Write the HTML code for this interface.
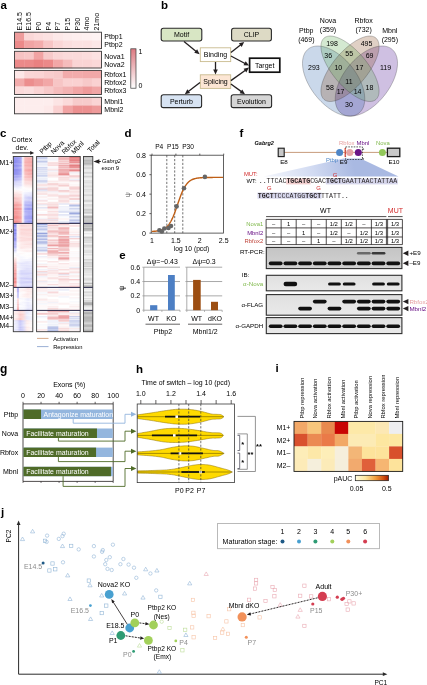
<!DOCTYPE html>
<html><head><meta charset="utf-8"><title>Figure</title>
<style>
html,body{margin:0;padding:0;background:#fff;width:427px;height:685px;overflow:hidden}
svg{display:block}
text{font-family:"Liberation Sans", Arial, sans-serif}
</style></head><body>
<svg width="427" height="685" viewBox="0 0 427 685" font-family='"Liberation Sans", Arial, sans-serif'>
<rect x="0" y="0" width="427" height="685" fill="#ffffff"/>
<text x="0.60" y="8.90" font-size="11.5" fill="#000" font-weight="bold">a</text>
<text x="21.83" y="30.40" font-size="7" transform="rotate(-90 21.83 30.40)">E14.5</text>
<text x="31.50" y="30.40" font-size="7" transform="rotate(-90 31.50 30.40)">E16.5</text>
<text x="41.17" y="30.40" font-size="7" transform="rotate(-90 41.17 30.40)">P0</text>
<text x="50.83" y="30.40" font-size="7" transform="rotate(-90 50.83 30.40)">P4</text>
<text x="60.50" y="30.40" font-size="7" transform="rotate(-90 60.50 30.40)">P7</text>
<text x="70.17" y="30.40" font-size="7" transform="rotate(-90 70.17 30.40)">P15</text>
<text x="79.83" y="30.40" font-size="7" transform="rotate(-90 79.83 30.40)">P30</text>
<text x="89.50" y="30.40" font-size="7" transform="rotate(-90 89.50 30.40)">4mo</text>
<text x="99.17" y="30.40" font-size="7" transform="rotate(-90 99.17 30.40)">21mo</text>
<rect x="14.50" y="32.20" width="9.97" height="8.50" fill="#ee9c9c"/>
<rect x="24.17" y="32.20" width="9.97" height="8.50" fill="#fad8d8"/>
<rect x="33.83" y="32.20" width="9.97" height="8.50" fill="#fcdede"/>
<rect x="43.50" y="32.20" width="9.97" height="8.50" fill="#fce2e2"/>
<rect x="53.17" y="32.20" width="9.97" height="8.50" fill="#fde9e9"/>
<rect x="62.83" y="32.20" width="9.97" height="8.50" fill="#fdeded"/>
<rect x="72.50" y="32.20" width="9.97" height="8.50" fill="#feefef"/>
<rect x="82.17" y="32.20" width="9.97" height="8.50" fill="#fef1f1"/>
<rect x="91.83" y="32.20" width="9.97" height="8.50" fill="#fef3f3"/>
<text x="104.30" y="38.80" font-size="7">Ptbp1</text>
<rect x="14.50" y="40.40" width="9.97" height="8.50" fill="#ec8a8a"/>
<rect x="24.17" y="40.40" width="9.97" height="8.50" fill="#f1a4a4"/>
<rect x="33.83" y="40.40" width="9.97" height="8.50" fill="#f3acac"/>
<rect x="43.50" y="40.40" width="9.97" height="8.50" fill="#f7c5c5"/>
<rect x="53.17" y="40.40" width="9.97" height="8.50" fill="#fad6d6"/>
<rect x="62.83" y="40.40" width="9.97" height="8.50" fill="#fbdede"/>
<rect x="72.50" y="40.40" width="9.97" height="8.50" fill="#fce2e2"/>
<rect x="82.17" y="40.40" width="9.97" height="8.50" fill="#fce2e2"/>
<rect x="91.83" y="40.40" width="9.97" height="8.50" fill="#fce7e7"/>
<text x="104.30" y="47.00" font-size="7">Ptbp2</text>
<rect x="14.50" y="32.20" width="87.00" height="16.40" fill="none" stroke="#3a3a3a" stroke-width="0.9"/>
<rect x="14.50" y="51.30" width="9.97" height="8.65" fill="#f6c3c3"/>
<rect x="24.17" y="51.30" width="9.97" height="8.65" fill="#f7c7c7"/>
<rect x="33.83" y="51.30" width="9.97" height="8.65" fill="#f1a3a3"/>
<rect x="43.50" y="51.30" width="9.97" height="8.65" fill="#f7caca"/>
<rect x="53.17" y="51.30" width="9.97" height="8.65" fill="#fad6d6"/>
<rect x="62.83" y="51.30" width="9.97" height="8.65" fill="#fbdada"/>
<rect x="72.50" y="51.30" width="9.97" height="8.65" fill="#fbdada"/>
<rect x="82.17" y="51.30" width="9.97" height="8.65" fill="#fcdddd"/>
<rect x="91.83" y="51.30" width="9.97" height="8.65" fill="#fce2e2"/>
<text x="104.30" y="58.67" font-size="7">Nova1</text>
<rect x="14.50" y="59.65" width="9.97" height="8.65" fill="#ec8989"/>
<rect x="24.17" y="59.65" width="9.97" height="8.65" fill="#ec8989"/>
<rect x="33.83" y="59.65" width="9.97" height="8.65" fill="#ea8181"/>
<rect x="43.50" y="59.65" width="9.97" height="8.65" fill="#ec8989"/>
<rect x="53.17" y="59.65" width="9.97" height="8.65" fill="#f2a7a7"/>
<rect x="62.83" y="59.65" width="9.97" height="8.65" fill="#f6bcbc"/>
<rect x="72.50" y="59.65" width="9.97" height="8.65" fill="#fad4d4"/>
<rect x="82.17" y="59.65" width="9.97" height="8.65" fill="#fad4d4"/>
<rect x="91.83" y="59.65" width="9.97" height="8.65" fill="#fbd8d8"/>
<text x="104.30" y="67.03" font-size="7">Nova2</text>
<rect x="14.50" y="51.30" width="87.00" height="16.70" fill="none" stroke="#3a3a3a" stroke-width="0.9"/>
<rect x="14.50" y="70.40" width="9.97" height="8.33" fill="#fde7e7"/>
<rect x="24.17" y="70.40" width="9.97" height="8.33" fill="#fad6d6"/>
<rect x="33.83" y="70.40" width="9.97" height="8.33" fill="#fad4d4"/>
<rect x="43.50" y="70.40" width="9.97" height="8.33" fill="#f8cdcd"/>
<rect x="53.17" y="70.40" width="9.97" height="8.33" fill="#f7c9c9"/>
<rect x="62.83" y="70.40" width="9.97" height="8.33" fill="#f2abab"/>
<rect x="72.50" y="70.40" width="9.97" height="8.33" fill="#f2abab"/>
<rect x="82.17" y="70.40" width="9.97" height="8.33" fill="#f1a8a8"/>
<rect x="91.83" y="70.40" width="9.97" height="8.33" fill="#f1a8a8"/>
<text x="104.30" y="76.92" font-size="7">Rbfox1</text>
<rect x="14.50" y="78.43" width="9.97" height="8.33" fill="#f2abab"/>
<rect x="24.17" y="78.43" width="9.97" height="8.33" fill="#ec8e8e"/>
<rect x="33.83" y="78.43" width="9.97" height="8.33" fill="#ee9a9a"/>
<rect x="43.50" y="78.43" width="9.97" height="8.33" fill="#f2a7a7"/>
<rect x="53.17" y="78.43" width="9.97" height="8.33" fill="#f7c5c5"/>
<rect x="62.83" y="78.43" width="9.97" height="8.33" fill="#fad1d1"/>
<rect x="72.50" y="78.43" width="9.97" height="8.33" fill="#fad1d1"/>
<rect x="82.17" y="78.43" width="9.97" height="8.33" fill="#f7c9c9"/>
<rect x="91.83" y="78.43" width="9.97" height="8.33" fill="#fad1d1"/>
<text x="104.30" y="84.95" font-size="7">Rbfox2</text>
<rect x="14.50" y="86.47" width="9.97" height="8.33" fill="#fbdada"/>
<rect x="24.17" y="86.47" width="9.97" height="8.33" fill="#fbdede"/>
<rect x="33.83" y="86.47" width="9.97" height="8.33" fill="#fad4d4"/>
<rect x="43.50" y="86.47" width="9.97" height="8.33" fill="#f7c9c9"/>
<rect x="53.17" y="86.47" width="9.97" height="8.33" fill="#f5bcbc"/>
<rect x="62.83" y="86.47" width="9.97" height="8.33" fill="#f3b2b2"/>
<rect x="72.50" y="86.47" width="9.97" height="8.33" fill="#f1a5a5"/>
<rect x="82.17" y="86.47" width="9.97" height="8.33" fill="#ee9a9a"/>
<rect x="91.83" y="86.47" width="9.97" height="8.33" fill="#f1a5a5"/>
<text x="104.30" y="92.98" font-size="7">Rbfox3</text>
<rect x="14.50" y="70.40" width="87.00" height="24.10" fill="none" stroke="#3a3a3a" stroke-width="0.9"/>
<rect x="14.50" y="97.30" width="9.97" height="8.55" fill="#fdeded"/>
<rect x="24.17" y="97.30" width="9.97" height="8.55" fill="#fdeded"/>
<rect x="33.83" y="97.30" width="9.97" height="8.55" fill="#fdeded"/>
<rect x="43.50" y="97.30" width="9.97" height="8.55" fill="#fdeded"/>
<rect x="53.17" y="97.30" width="9.97" height="8.55" fill="#fce4e4"/>
<rect x="62.83" y="97.30" width="9.97" height="8.55" fill="#fbdada"/>
<rect x="72.50" y="97.30" width="9.97" height="8.55" fill="#f7cbcb"/>
<rect x="82.17" y="97.30" width="9.97" height="8.55" fill="#f7cbcb"/>
<rect x="91.83" y="97.30" width="9.97" height="8.55" fill="#fad4d4"/>
<text x="104.30" y="103.92" font-size="7">Mbnl1</text>
<rect x="14.50" y="105.55" width="9.97" height="8.55" fill="#fdeded"/>
<rect x="24.17" y="105.55" width="9.97" height="8.55" fill="#fdeded"/>
<rect x="33.83" y="105.55" width="9.97" height="8.55" fill="#fdeded"/>
<rect x="43.50" y="105.55" width="9.97" height="8.55" fill="#fde9e9"/>
<rect x="53.17" y="105.55" width="9.97" height="8.55" fill="#fad1d1"/>
<rect x="62.83" y="105.55" width="9.97" height="8.55" fill="#f1a3a3"/>
<rect x="72.50" y="105.55" width="9.97" height="8.55" fill="#ec9090"/>
<rect x="82.17" y="105.55" width="9.97" height="8.55" fill="#ec9090"/>
<rect x="91.83" y="105.55" width="9.97" height="8.55" fill="#ee9a9a"/>
<text x="104.30" y="112.17" font-size="7">Mbnl2</text>
<rect x="14.50" y="97.30" width="87.00" height="16.50" fill="none" stroke="#3a3a3a" stroke-width="0.9"/>
<defs><linearGradient id="cba" x1="0" y1="0" x2="0" y2="1"><stop offset="0" stop-color="#dd7a82"/><stop offset="1" stop-color="#ffffff"/></linearGradient></defs>
<rect x="130.80" y="48.80" width="5.20" height="39.40" fill="url(#cba)" stroke="#3a3a3a" stroke-width="0.7"/>
<text x="138.60" y="54.00" font-size="7">1</text>
<text x="138.60" y="87.60" font-size="7">0</text>
<text x="161.00" y="8.70" font-size="11.5" fill="#000" font-weight="bold">b</text>
<rect x="161.20" y="28.20" width="40.60" height="12.80" fill="#d8e6c4" stroke="#2a2a2a" stroke-width="1.1" rx="2.2"/>
<text x="181.50" y="37.10" font-size="7" text-anchor="middle">Motif</text>
<rect x="231.60" y="28.20" width="39.80" height="12.80" fill="#dddac5" stroke="#2a2a2a" stroke-width="1.1" rx="2.2"/>
<text x="251.50" y="37.10" font-size="7" text-anchor="middle">CLIP</text>
<rect x="200.30" y="47.80" width="30.40" height="13.80" fill="#ffffff" stroke="#c9bb8e" stroke-width="0.9" rx="0"/>
<text x="215.50" y="57.20" font-size="7" text-anchor="middle">Binding</text>
<rect x="249.60" y="58.20" width="30.20" height="14.00" fill="#ffffff" stroke="#111" stroke-width="1.7" rx="0"/>
<text x="264.70" y="67.70" font-size="7" text-anchor="middle">Target</text>
<rect x="200.30" y="74.80" width="30.40" height="13.60" fill="#fce6d4" stroke="#c9bb8e" stroke-width="0.9" rx="0"/>
<text x="215.50" y="84.10" font-size="7" text-anchor="middle">Splicing</text>
<rect x="161.20" y="94.80" width="40.40" height="12.80" fill="#d7e3f2" stroke="#2a2a2a" stroke-width="1.1" rx="2.2"/>
<text x="181.40" y="103.70" font-size="7" text-anchor="middle">Perturb</text>
<rect x="231.20" y="94.80" width="40.40" height="12.80" fill="#d6d6d6" stroke="#2a2a2a" stroke-width="1.1" rx="2.2"/>
<text x="251.40" y="103.70" font-size="7" text-anchor="middle">Evolution</text>
<line x1="184.00" y1="41.60" x2="196.49" y2="51.69" stroke="#231f20" stroke-width="1.3"/>
<path d="M199.60,54.20 L194.27,52.85 L197.16,49.27 Z" fill="#231f20"/>
<line x1="230.90" y1="52.60" x2="241.07" y2="44.49" stroke="#231f20" stroke-width="1.3"/>
<path d="M244.20,42.00 L241.72,46.91 L238.86,43.32 Z" fill="#231f20"/>
<line x1="230.90" y1="56.00" x2="245.47" y2="63.73" stroke="#231f20" stroke-width="1.3"/>
<path d="M249.00,65.60 L243.51,65.29 L245.66,61.23 Z" fill="#231f20"/>
<line x1="215.50" y1="62.00" x2="215.50" y2="70.40" stroke="#231f20" stroke-width="1.3"/>
<path d="M215.50,74.40 L213.20,69.40 L217.80,69.40 Z" fill="#231f20"/>
<line x1="200.00" y1="82.40" x2="187.96" y2="91.75" stroke="#231f20" stroke-width="1.3"/>
<path d="M184.80,94.20 L187.34,89.32 L190.16,92.95 Z" fill="#231f20"/>
<line x1="230.90" y1="80.60" x2="245.75" y2="69.93" stroke="#231f20" stroke-width="1.3"/>
<path d="M249.00,67.60 L246.28,72.38 L243.60,68.65 Z" fill="#231f20"/>
<line x1="230.90" y1="84.00" x2="241.76" y2="91.86" stroke="#231f20" stroke-width="1.3"/>
<path d="M245.00,94.20 L239.60,93.13 L242.30,89.41 Z" fill="#231f20"/>
<path d="M393.41,50.63 L392.56,49.76 L391.65,48.98 L390.66,48.28 L389.61,47.68 L388.49,47.17 L387.31,46.74 L386.08,46.42 L384.79,46.19 L383.45,46.05 L382.07,46.01 L380.64,46.07 L379.17,46.22 L377.67,46.47 L376.13,46.81 L374.57,47.25 L372.99,47.78 L371.39,48.40 L369.77,49.11 L368.15,49.90 L366.52,50.79 L364.89,51.75 L363.27,52.80 L361.65,53.92 L360.05,55.12 L358.46,56.39 L356.90,57.73 L355.36,59.13 L353.85,60.59 L352.37,62.11 L350.94,63.68 L349.55,65.29 L348.20,66.95 L346.90,68.65 L345.66,70.39 L344.47,72.15 L343.34,73.93 L342.28,75.74 L341.28,77.56 L340.35,79.39 L339.49,81.23 L338.71,83.06 L338.00,84.89 L337.37,86.71 L336.82,88.51 L336.35,90.30 L335.96,92.05 L335.66,93.78 L335.44,95.47 L335.31,97.13 L335.26,98.74 L335.29,100.30 L335.41,101.81 L335.62,103.26 L335.91,104.65 L336.28,105.97 L336.74,107.23 L337.27,108.42 L337.89,109.53 L338.59,110.56 L339.36,111.51 L340.20,112.38 L341.12,113.16 L342.10,113.86 L343.16,114.46 L344.27,114.98 L345.45,115.40 L346.69,115.72 L347.97,115.96 L349.31,116.09 L350.70,116.13 L352.13,116.07 L353.60,115.92 L355.10,115.67 L356.63,115.33 L358.19,114.90 L359.77,114.37 L361.38,113.75 L362.99,113.04 L364.61,112.24 L366.24,111.36 L367.87,110.39 L369.50,109.34 L371.11,108.22 L372.72,107.02 L374.30,105.75 L375.87,104.41 L377.41,103.01 L378.92,101.55 L380.39,100.04 L381.83,98.47 L383.22,96.85 L384.57,95.19 L385.86,93.49 L387.11,91.76 L388.29,89.99 L389.42,88.21 L390.48,86.40 L391.48,84.58 L392.41,82.75 L393.27,80.91 L394.05,79.08 L394.76,77.25 L395.39,75.43 L395.94,73.63 L396.41,71.85 L396.80,70.09 L397.10,68.36 L397.32,66.67 L397.46,65.01 L397.51,63.41 L397.47,61.85 L397.35,60.34 L397.15,58.89 L396.86,57.50 L396.48,56.17 L396.03,54.91 L395.49,53.73 L394.87,52.62 L394.18,51.58 Z" fill="#845cb5" fill-opacity="0.388"/>
<path d="M306.60,50.63 L305.83,51.58 L305.13,52.62 L304.51,53.73 L303.98,54.91 L303.52,56.17 L303.15,57.50 L302.86,58.89 L302.65,60.34 L302.53,61.85 L302.50,63.41 L302.55,65.01 L302.68,66.67 L302.90,68.36 L303.20,70.09 L303.59,71.85 L304.06,73.63 L304.61,75.43 L305.24,77.25 L305.95,79.08 L306.73,80.91 L307.59,82.75 L308.52,84.58 L309.52,86.40 L310.58,88.21 L311.71,89.99 L312.90,91.76 L314.14,93.49 L315.44,95.19 L316.79,96.85 L318.18,98.47 L319.61,100.04 L321.09,101.55 L322.60,103.01 L324.14,104.41 L325.70,105.75 L327.29,107.02 L328.89,108.22 L330.51,109.34 L332.13,110.39 L333.76,111.36 L335.39,112.24 L337.01,113.04 L338.63,113.75 L340.23,114.37 L341.81,114.90 L343.37,115.33 L344.91,115.67 L346.41,115.92 L347.88,116.07 L349.31,116.13 L350.69,116.09 L352.03,115.96 L353.32,115.72 L354.55,115.40 L355.73,114.98 L356.85,114.46 L357.90,113.86 L358.89,113.16 L359.80,112.38 L360.65,111.51 L361.42,110.56 L362.11,109.53 L362.73,108.42 L363.27,107.23 L363.72,105.97 L364.10,104.65 L364.39,103.26 L364.59,101.81 L364.71,100.30 L364.75,98.74 L364.70,97.13 L364.56,95.47 L364.34,93.78 L364.04,92.05 L363.65,90.30 L363.18,88.51 L362.63,86.71 L362.00,84.89 L361.29,83.06 L360.51,81.23 L359.65,79.39 L358.72,77.56 L357.72,75.74 L356.66,73.93 L355.53,72.15 L354.35,70.39 L353.10,68.65 L351.81,66.95 L350.46,65.29 L349.07,63.68 L347.63,62.11 L346.16,60.59 L344.65,59.13 L343.11,57.73 L341.54,56.39 L339.96,55.12 L338.35,53.92 L336.74,52.80 L335.11,51.75 L333.48,50.79 L331.85,49.90 L330.23,49.11 L328.62,48.40 L327.01,47.78 L325.43,47.25 L323.87,46.81 L322.34,46.47 L320.84,46.22 L319.37,46.07 L317.94,46.01 L316.55,46.05 L315.21,46.19 L313.93,46.42 L312.69,46.74 L311.51,47.17 L310.40,47.68 L309.34,48.28 L308.36,48.98 L307.44,49.76 Z" fill="#004398" fill-opacity="0.208"/>
<path d="M376.64,38.76 L376.00,38.12 L375.28,37.57 L374.50,37.09 L373.65,36.71 L372.74,36.41 L371.76,36.20 L370.72,36.08 L369.63,36.05 L368.48,36.11 L367.28,36.26 L366.04,36.50 L364.75,36.83 L363.42,37.24 L362.05,37.74 L360.65,38.33 L359.22,39.00 L357.77,39.75 L356.29,40.58 L354.80,41.49 L353.29,42.47 L351.78,43.52 L350.26,44.65 L348.74,45.84 L347.22,47.09 L345.71,48.40 L344.21,49.77 L342.73,51.19 L341.27,52.66 L339.83,54.17 L338.42,55.72 L337.04,57.31 L335.70,58.93 L334.39,60.58 L333.13,62.25 L331.92,63.94 L330.75,65.64 L329.64,67.34 L328.59,69.06 L327.59,70.77 L326.65,72.48 L325.78,74.17 L324.97,75.85 L324.24,77.52 L323.57,79.15 L322.97,80.76 L322.45,82.34 L322.01,83.88 L321.64,85.38 L321.35,86.83 L321.14,88.23 L321.01,89.58 L320.95,90.88 L320.98,92.11 L321.09,93.28 L321.27,94.38 L321.54,95.41 L321.88,96.37 L322.30,97.25 L322.79,98.05 L323.36,98.78 L324.01,99.42 L324.72,99.98 L325.50,100.45 L326.35,100.83 L327.27,101.13 L328.25,101.34 L329.28,101.46 L330.38,101.49 L331.52,101.43 L332.72,101.28 L333.97,101.04 L335.26,100.71 L336.59,100.30 L337.96,99.80 L339.35,99.21 L340.78,98.54 L342.24,97.79 L343.71,96.96 L345.21,96.05 L346.71,95.07 L348.23,94.02 L349.75,92.89 L351.27,91.70 L352.79,90.45 L354.29,89.14 L355.79,87.77 L357.27,86.35 L358.74,84.88 L360.17,83.37 L361.58,81.82 L362.96,80.23 L364.31,78.61 L365.61,76.96 L366.87,75.29 L368.08,73.61 L369.25,71.91 L370.36,70.20 L371.42,68.48 L372.42,66.77 L373.35,65.07 L374.22,63.37 L375.03,61.69 L375.77,60.03 L376.43,58.39 L377.03,56.78 L377.55,55.20 L377.99,53.66 L378.36,52.16 L378.65,50.71 L378.86,49.31 L379.00,47.96 L379.05,46.67 L379.02,45.43 L378.92,44.26 L378.73,43.16 L378.47,42.13 L378.13,41.18 L377.71,40.29 L377.21,39.49 Z" fill="#752f00" fill-opacity="0.229"/>
<path d="M323.36,38.76 L322.79,39.49 L322.30,40.29 L321.88,41.18 L321.54,42.13 L321.27,43.16 L321.09,44.26 L320.98,45.43 L320.95,46.67 L321.01,47.96 L321.14,49.31 L321.35,50.71 L321.64,52.16 L322.01,53.66 L322.45,55.20 L322.97,56.78 L323.57,58.39 L324.24,60.03 L324.97,61.69 L325.78,63.37 L326.65,65.07 L327.59,66.77 L328.59,68.48 L329.64,70.20 L330.75,71.91 L331.92,73.61 L333.13,75.29 L334.39,76.96 L335.70,78.61 L337.04,80.23 L338.42,81.82 L339.83,83.37 L341.27,84.88 L342.73,86.35 L344.21,87.77 L345.71,89.14 L347.22,90.45 L348.74,91.70 L350.26,92.89 L351.78,94.02 L353.29,95.07 L354.80,96.05 L356.29,96.96 L357.77,97.79 L359.22,98.54 L360.65,99.21 L362.05,99.80 L363.42,100.30 L364.75,100.71 L366.04,101.04 L367.28,101.28 L368.48,101.43 L369.63,101.49 L370.72,101.46 L371.76,101.34 L372.74,101.13 L373.65,100.83 L374.50,100.45 L375.28,99.98 L376.00,99.42 L376.64,98.78 L377.21,98.05 L377.71,97.25 L378.13,96.37 L378.47,95.41 L378.73,94.38 L378.92,93.28 L379.02,92.11 L379.05,90.88 L379.00,89.58 L378.86,88.23 L378.65,86.83 L378.36,85.38 L377.99,83.88 L377.55,82.34 L377.03,80.76 L376.43,79.15 L375.77,77.52 L375.03,75.85 L374.22,74.17 L373.35,72.48 L372.42,70.77 L371.42,69.06 L370.36,67.34 L369.25,65.64 L368.08,63.94 L366.87,62.25 L365.61,60.58 L364.31,58.93 L362.96,57.31 L361.58,55.72 L360.17,54.17 L358.74,52.66 L357.27,51.19 L355.79,49.77 L354.29,48.40 L352.79,47.09 L351.27,45.84 L349.75,44.65 L348.23,43.52 L346.71,42.47 L345.21,41.49 L343.71,40.58 L342.24,39.75 L340.78,39.00 L339.36,38.33 L337.96,37.74 L336.59,37.24 L335.26,36.83 L333.97,36.50 L332.72,36.26 L331.52,36.11 L330.38,36.05 L329.28,36.08 L328.25,36.20 L327.27,36.41 L326.35,36.71 L325.50,37.09 L324.72,37.57 L324.01,38.12 Z" fill="#5caa4f" fill-opacity="0.261"/>
<path d="M393.41,50.63 L392.56,49.76 L391.65,48.98 L390.66,48.28 L389.61,47.68 L388.49,47.17 L387.31,46.74 L386.08,46.42 L384.79,46.19 L383.45,46.05 L382.07,46.01 L380.64,46.07 L379.17,46.22 L377.67,46.47 L376.13,46.81 L374.57,47.25 L372.99,47.78 L371.39,48.40 L369.77,49.11 L368.15,49.90 L366.52,50.79 L364.89,51.75 L363.27,52.80 L361.65,53.92 L360.05,55.12 L358.46,56.39 L356.90,57.73 L355.36,59.13 L353.85,60.59 L352.37,62.11 L350.94,63.68 L349.55,65.29 L348.20,66.95 L346.90,68.65 L345.66,70.39 L344.47,72.15 L343.34,73.93 L342.28,75.74 L341.28,77.56 L340.35,79.39 L339.49,81.23 L338.71,83.06 L338.00,84.89 L337.37,86.71 L336.82,88.51 L336.35,90.30 L335.96,92.05 L335.66,93.78 L335.44,95.47 L335.31,97.13 L335.26,98.74 L335.29,100.30 L335.41,101.81 L335.62,103.26 L335.91,104.65 L336.28,105.97 L336.74,107.23 L337.27,108.42 L337.89,109.53 L338.59,110.56 L339.36,111.51 L340.20,112.38 L341.12,113.16 L342.10,113.86 L343.16,114.46 L344.27,114.98 L345.45,115.40 L346.69,115.72 L347.97,115.96 L349.31,116.09 L350.70,116.13 L352.13,116.07 L353.60,115.92 L355.10,115.67 L356.63,115.33 L358.19,114.90 L359.77,114.37 L361.38,113.75 L362.99,113.04 L364.61,112.24 L366.24,111.36 L367.87,110.39 L369.50,109.34 L371.11,108.22 L372.72,107.02 L374.30,105.75 L375.87,104.41 L377.41,103.01 L378.92,101.55 L380.39,100.04 L381.83,98.47 L383.22,96.85 L384.57,95.19 L385.86,93.49 L387.11,91.76 L388.29,89.99 L389.42,88.21 L390.48,86.40 L391.48,84.58 L392.41,82.75 L393.27,80.91 L394.05,79.08 L394.76,77.25 L395.39,75.43 L395.94,73.63 L396.41,71.85 L396.80,70.09 L397.10,68.36 L397.32,66.67 L397.46,65.01 L397.51,63.41 L397.47,61.85 L397.35,60.34 L397.15,58.89 L396.86,57.50 L396.48,56.17 L396.03,54.91 L395.49,53.73 L394.87,52.62 L394.18,51.58 Z" fill="none" stroke="#3a3a3a" stroke-width="0.5" stroke-opacity="0.6"/>
<path d="M306.60,50.63 L305.83,51.58 L305.13,52.62 L304.51,53.73 L303.98,54.91 L303.52,56.17 L303.15,57.50 L302.86,58.89 L302.65,60.34 L302.53,61.85 L302.50,63.41 L302.55,65.01 L302.68,66.67 L302.90,68.36 L303.20,70.09 L303.59,71.85 L304.06,73.63 L304.61,75.43 L305.24,77.25 L305.95,79.08 L306.73,80.91 L307.59,82.75 L308.52,84.58 L309.52,86.40 L310.58,88.21 L311.71,89.99 L312.90,91.76 L314.14,93.49 L315.44,95.19 L316.79,96.85 L318.18,98.47 L319.61,100.04 L321.09,101.55 L322.60,103.01 L324.14,104.41 L325.70,105.75 L327.29,107.02 L328.89,108.22 L330.51,109.34 L332.13,110.39 L333.76,111.36 L335.39,112.24 L337.01,113.04 L338.63,113.75 L340.23,114.37 L341.81,114.90 L343.37,115.33 L344.91,115.67 L346.41,115.92 L347.88,116.07 L349.31,116.13 L350.69,116.09 L352.03,115.96 L353.32,115.72 L354.55,115.40 L355.73,114.98 L356.85,114.46 L357.90,113.86 L358.89,113.16 L359.80,112.38 L360.65,111.51 L361.42,110.56 L362.11,109.53 L362.73,108.42 L363.27,107.23 L363.72,105.97 L364.10,104.65 L364.39,103.26 L364.59,101.81 L364.71,100.30 L364.75,98.74 L364.70,97.13 L364.56,95.47 L364.34,93.78 L364.04,92.05 L363.65,90.30 L363.18,88.51 L362.63,86.71 L362.00,84.89 L361.29,83.06 L360.51,81.23 L359.65,79.39 L358.72,77.56 L357.72,75.74 L356.66,73.93 L355.53,72.15 L354.35,70.39 L353.10,68.65 L351.81,66.95 L350.46,65.29 L349.07,63.68 L347.63,62.11 L346.16,60.59 L344.65,59.13 L343.11,57.73 L341.54,56.39 L339.96,55.12 L338.35,53.92 L336.74,52.80 L335.11,51.75 L333.48,50.79 L331.85,49.90 L330.23,49.11 L328.62,48.40 L327.01,47.78 L325.43,47.25 L323.87,46.81 L322.34,46.47 L320.84,46.22 L319.37,46.07 L317.94,46.01 L316.55,46.05 L315.21,46.19 L313.93,46.42 L312.69,46.74 L311.51,47.17 L310.40,47.68 L309.34,48.28 L308.36,48.98 L307.44,49.76 Z" fill="none" stroke="#3a3a3a" stroke-width="0.5" stroke-opacity="0.6"/>
<path d="M376.64,38.76 L376.00,38.12 L375.28,37.57 L374.50,37.09 L373.65,36.71 L372.74,36.41 L371.76,36.20 L370.72,36.08 L369.63,36.05 L368.48,36.11 L367.28,36.26 L366.04,36.50 L364.75,36.83 L363.42,37.24 L362.05,37.74 L360.65,38.33 L359.22,39.00 L357.77,39.75 L356.29,40.58 L354.80,41.49 L353.29,42.47 L351.78,43.52 L350.26,44.65 L348.74,45.84 L347.22,47.09 L345.71,48.40 L344.21,49.77 L342.73,51.19 L341.27,52.66 L339.83,54.17 L338.42,55.72 L337.04,57.31 L335.70,58.93 L334.39,60.58 L333.13,62.25 L331.92,63.94 L330.75,65.64 L329.64,67.34 L328.59,69.06 L327.59,70.77 L326.65,72.48 L325.78,74.17 L324.97,75.85 L324.24,77.52 L323.57,79.15 L322.97,80.76 L322.45,82.34 L322.01,83.88 L321.64,85.38 L321.35,86.83 L321.14,88.23 L321.01,89.58 L320.95,90.88 L320.98,92.11 L321.09,93.28 L321.27,94.38 L321.54,95.41 L321.88,96.37 L322.30,97.25 L322.79,98.05 L323.36,98.78 L324.01,99.42 L324.72,99.98 L325.50,100.45 L326.35,100.83 L327.27,101.13 L328.25,101.34 L329.28,101.46 L330.38,101.49 L331.52,101.43 L332.72,101.28 L333.97,101.04 L335.26,100.71 L336.59,100.30 L337.96,99.80 L339.35,99.21 L340.78,98.54 L342.24,97.79 L343.71,96.96 L345.21,96.05 L346.71,95.07 L348.23,94.02 L349.75,92.89 L351.27,91.70 L352.79,90.45 L354.29,89.14 L355.79,87.77 L357.27,86.35 L358.74,84.88 L360.17,83.37 L361.58,81.82 L362.96,80.23 L364.31,78.61 L365.61,76.96 L366.87,75.29 L368.08,73.61 L369.25,71.91 L370.36,70.20 L371.42,68.48 L372.42,66.77 L373.35,65.07 L374.22,63.37 L375.03,61.69 L375.77,60.03 L376.43,58.39 L377.03,56.78 L377.55,55.20 L377.99,53.66 L378.36,52.16 L378.65,50.71 L378.86,49.31 L379.00,47.96 L379.05,46.67 L379.02,45.43 L378.92,44.26 L378.73,43.16 L378.47,42.13 L378.13,41.18 L377.71,40.29 L377.21,39.49 Z" fill="none" stroke="#3a3a3a" stroke-width="0.5" stroke-opacity="0.6"/>
<path d="M323.36,38.76 L322.79,39.49 L322.30,40.29 L321.88,41.18 L321.54,42.13 L321.27,43.16 L321.09,44.26 L320.98,45.43 L320.95,46.67 L321.01,47.96 L321.14,49.31 L321.35,50.71 L321.64,52.16 L322.01,53.66 L322.45,55.20 L322.97,56.78 L323.57,58.39 L324.24,60.03 L324.97,61.69 L325.78,63.37 L326.65,65.07 L327.59,66.77 L328.59,68.48 L329.64,70.20 L330.75,71.91 L331.92,73.61 L333.13,75.29 L334.39,76.96 L335.70,78.61 L337.04,80.23 L338.42,81.82 L339.83,83.37 L341.27,84.88 L342.73,86.35 L344.21,87.77 L345.71,89.14 L347.22,90.45 L348.74,91.70 L350.26,92.89 L351.78,94.02 L353.29,95.07 L354.80,96.05 L356.29,96.96 L357.77,97.79 L359.22,98.54 L360.65,99.21 L362.05,99.80 L363.42,100.30 L364.75,100.71 L366.04,101.04 L367.28,101.28 L368.48,101.43 L369.63,101.49 L370.72,101.46 L371.76,101.34 L372.74,101.13 L373.65,100.83 L374.50,100.45 L375.28,99.98 L376.00,99.42 L376.64,98.78 L377.21,98.05 L377.71,97.25 L378.13,96.37 L378.47,95.41 L378.73,94.38 L378.92,93.28 L379.02,92.11 L379.05,90.88 L379.00,89.58 L378.86,88.23 L378.65,86.83 L378.36,85.38 L377.99,83.88 L377.55,82.34 L377.03,80.76 L376.43,79.15 L375.77,77.52 L375.03,75.85 L374.22,74.17 L373.35,72.48 L372.42,70.77 L371.42,69.06 L370.36,67.34 L369.25,65.64 L368.08,63.94 L366.87,62.25 L365.61,60.58 L364.31,58.93 L362.96,57.31 L361.58,55.72 L360.17,54.17 L358.74,52.66 L357.27,51.19 L355.79,49.77 L354.29,48.40 L352.79,47.09 L351.27,45.84 L349.75,44.65 L348.23,43.52 L346.71,42.47 L345.21,41.49 L343.71,40.58 L342.24,39.75 L340.78,39.00 L339.36,38.33 L337.96,37.74 L336.59,37.24 L335.26,36.83 L333.97,36.50 L332.72,36.26 L331.52,36.11 L330.38,36.05 L329.28,36.08 L328.25,36.20 L327.27,36.41 L326.35,36.71 L325.50,37.09 L324.72,37.57 L324.01,38.12 Z" fill="none" stroke="#3a3a3a" stroke-width="0.5" stroke-opacity="0.6"/>
<text x="313.90" y="70.10" font-size="7" text-anchor="middle">293</text>
<text x="332.00" y="45.70" font-size="7" text-anchor="middle">198</text>
<text x="366.50" y="45.70" font-size="7" text-anchor="middle">495</text>
<text x="385.50" y="70.10" font-size="7" text-anchor="middle">119</text>
<text x="328.20" y="58.30" font-size="7" text-anchor="middle">36</text>
<text x="349.20" y="56.10" font-size="7" text-anchor="middle">55</text>
<text x="369.60" y="58.30" font-size="7" text-anchor="middle">69</text>
<text x="338.30" y="69.90" font-size="7" text-anchor="middle">10</text>
<text x="359.40" y="69.90" font-size="7" text-anchor="middle">17</text>
<text x="349.00" y="83.50" font-size="7" text-anchor="middle">11</text>
<text x="330.00" y="89.80" font-size="7" text-anchor="middle">58</text>
<text x="369.50" y="89.80" font-size="7" text-anchor="middle">18</text>
<text x="340.60" y="94.30" font-size="7" text-anchor="middle">17</text>
<text x="357.60" y="94.30" font-size="7" text-anchor="middle">14</text>
<text x="349.00" y="106.50" font-size="7" text-anchor="middle">30</text>
<text x="306.30" y="33.00" font-size="7" text-anchor="middle">Ptbp</text>
<text x="306.30" y="42.20" font-size="7" text-anchor="middle">(469)</text>
<text x="328.00" y="22.60" font-size="7" text-anchor="middle">Nova</text>
<text x="328.00" y="31.60" font-size="7" text-anchor="middle">(359)</text>
<text x="363.60" y="22.60" font-size="7" text-anchor="middle">Rbfox</text>
<text x="363.60" y="31.60" font-size="7" text-anchor="middle">(732)</text>
<text x="389.80" y="33.00" font-size="7" text-anchor="middle">Mbnl</text>
<text x="389.80" y="42.20" font-size="7" text-anchor="middle">(295)</text>
<text x="0.00" y="136.70" font-size="11.5" fill="#000" font-weight="bold">c</text>
<text x="21.90" y="142.30" font-size="7" text-anchor="middle">Cortex</text>
<text x="21.90" y="150.00" font-size="7" text-anchor="middle">dev.</text>
<line x1="12.20" y1="152.90" x2="31.00" y2="152.90" stroke="#231f20" stroke-width="1.0"/>
<path d="M34.20,152.90 L30.20,154.70 L30.20,151.10 Z" fill="#231f20"/>
<linearGradient id="lg0_1565"><stop offset="0.00" stop-color="#7777ee"/><stop offset="0.20" stop-color="#8a8af0"/><stop offset="0.40" stop-color="#9494f2"/><stop offset="0.49" stop-color="#fffefe"/><stop offset="0.60" stop-color="#f7b0b0"/><stop offset="0.80" stop-color="#f7abab"/><stop offset="1.00" stop-color="#f5a0a0"/></linearGradient>
<rect x="13.30" y="156.50" width="19.50" height="1.15" fill="url(#lg0_1565)"/>
<linearGradient id="lg0_1575"><stop offset="0.00" stop-color="#8d8df1"/><stop offset="0.20" stop-color="#8f8ff1"/><stop offset="0.40" stop-color="#a1a1f3"/><stop offset="0.49" stop-color="#fefeff"/><stop offset="0.60" stop-color="#f7b2b2"/><stop offset="0.80" stop-color="#f8b5b5"/><stop offset="1.00" stop-color="#f7b1b1"/></linearGradient>
<rect x="13.30" y="157.50" width="19.50" height="1.15" fill="url(#lg0_1575)"/>
<linearGradient id="lg0_1585"><stop offset="0.00" stop-color="#7474ee"/><stop offset="0.20" stop-color="#7878ee"/><stop offset="0.40" stop-color="#8d8df1"/><stop offset="0.49" stop-color="#fef6f6"/><stop offset="0.60" stop-color="#f7aaaa"/><stop offset="0.80" stop-color="#f48f8f"/><stop offset="1.00" stop-color="#f59797"/></linearGradient>
<rect x="13.30" y="158.50" width="19.50" height="1.15" fill="url(#lg0_1585)"/>
<linearGradient id="lg0_1595"><stop offset="0.00" stop-color="#8181ef"/><stop offset="0.20" stop-color="#8d8df1"/><stop offset="0.40" stop-color="#ababf4"/><stop offset="0.49" stop-color="#f9f9fe"/><stop offset="0.60" stop-color="#f7b2b2"/><stop offset="0.80" stop-color="#f6a8a8"/><stop offset="1.00" stop-color="#f7aaaa"/></linearGradient>
<rect x="13.30" y="159.50" width="19.50" height="1.15" fill="url(#lg0_1595)"/>
<linearGradient id="lg0_1605"><stop offset="0.00" stop-color="#6868ec"/><stop offset="0.20" stop-color="#7373ed"/><stop offset="0.40" stop-color="#8d8df1"/><stop offset="0.49" stop-color="#fffcfc"/><stop offset="0.60" stop-color="#f6a6a6"/><stop offset="0.80" stop-color="#f59d9d"/><stop offset="1.00" stop-color="#f49595"/></linearGradient>
<rect x="13.30" y="160.50" width="19.50" height="1.15" fill="url(#lg0_1605)"/>
<linearGradient id="lg0_1615"><stop offset="0.00" stop-color="#7272ed"/><stop offset="0.20" stop-color="#8686f0"/><stop offset="0.40" stop-color="#9b9bf2"/><stop offset="0.49" stop-color="#fafafe"/><stop offset="0.60" stop-color="#f6a7a7"/><stop offset="0.80" stop-color="#f59d9d"/><stop offset="1.00" stop-color="#f49494"/></linearGradient>
<rect x="13.30" y="161.50" width="19.50" height="1.15" fill="url(#lg0_1615)"/>
<linearGradient id="lg0_1625"><stop offset="0.00" stop-color="#6262eb"/><stop offset="0.20" stop-color="#7b7bee"/><stop offset="0.40" stop-color="#8383ef"/><stop offset="0.49" stop-color="#fdfdff"/><stop offset="0.60" stop-color="#f59999"/><stop offset="0.80" stop-color="#f59898"/><stop offset="1.00" stop-color="#f48f8f"/></linearGradient>
<rect x="13.30" y="162.50" width="19.50" height="1.15" fill="url(#lg0_1625)"/>
<linearGradient id="lg0_1635"><stop offset="0.00" stop-color="#9292f1"/><stop offset="0.20" stop-color="#9c9cf3"/><stop offset="0.40" stop-color="#ababf4"/><stop offset="0.49" stop-color="#fef8f8"/><stop offset="0.60" stop-color="#f8bbbb"/><stop offset="0.80" stop-color="#f7abab"/><stop offset="1.00" stop-color="#f7abab"/></linearGradient>
<rect x="13.30" y="163.50" width="19.50" height="1.15" fill="url(#lg0_1635)"/>
<linearGradient id="lg0_1645"><stop offset="0.00" stop-color="#6e6eed"/><stop offset="0.20" stop-color="#8080ef"/><stop offset="0.40" stop-color="#9a9af2"/><stop offset="0.49" stop-color="#ffffff"/><stop offset="0.60" stop-color="#f6a1a1"/><stop offset="0.80" stop-color="#f5a0a0"/><stop offset="1.00" stop-color="#f49191"/></linearGradient>
<rect x="13.30" y="164.50" width="19.50" height="1.15" fill="url(#lg0_1645)"/>
<linearGradient id="lg0_1655"><stop offset="0.00" stop-color="#7474ee"/><stop offset="0.20" stop-color="#7c7cef"/><stop offset="0.40" stop-color="#8a8af0"/><stop offset="0.49" stop-color="#fdfdff"/><stop offset="0.60" stop-color="#f59e9e"/><stop offset="0.80" stop-color="#f59e9e"/><stop offset="1.00" stop-color="#f49393"/></linearGradient>
<rect x="13.30" y="165.50" width="19.50" height="1.15" fill="url(#lg0_1655)"/>
<linearGradient id="lg0_1665"><stop offset="0.00" stop-color="#7f7fef"/><stop offset="0.20" stop-color="#8787f0"/><stop offset="0.40" stop-color="#a9a9f4"/><stop offset="0.49" stop-color="#f8f8fe"/><stop offset="0.60" stop-color="#f8b8b8"/><stop offset="0.80" stop-color="#f7abab"/><stop offset="1.00" stop-color="#f6a0a0"/></linearGradient>
<rect x="13.30" y="166.50" width="19.50" height="1.15" fill="url(#lg0_1665)"/>
<linearGradient id="lg0_1675"><stop offset="0.00" stop-color="#8b8bf0"/><stop offset="0.20" stop-color="#9696f2"/><stop offset="0.40" stop-color="#afaff5"/><stop offset="0.49" stop-color="#fef9f9"/><stop offset="0.60" stop-color="#f7b0b0"/><stop offset="0.80" stop-color="#f7b1b1"/><stop offset="1.00" stop-color="#f7acac"/></linearGradient>
<rect x="13.30" y="167.50" width="19.50" height="1.15" fill="url(#lg0_1675)"/>
<linearGradient id="lg0_1685"><stop offset="0.00" stop-color="#8383ef"/><stop offset="0.20" stop-color="#8e8ef1"/><stop offset="0.40" stop-color="#9494f2"/><stop offset="0.49" stop-color="#f9f9fe"/><stop offset="0.60" stop-color="#f7b1b1"/><stop offset="0.80" stop-color="#f6a6a6"/><stop offset="1.00" stop-color="#f59f9f"/></linearGradient>
<rect x="13.30" y="168.50" width="19.50" height="1.15" fill="url(#lg0_1685)"/>
<linearGradient id="lg0_1695"><stop offset="0.00" stop-color="#6969ec"/><stop offset="0.20" stop-color="#6f6fed"/><stop offset="0.40" stop-color="#8f8ff1"/><stop offset="0.49" stop-color="#fcfcff"/><stop offset="0.60" stop-color="#f6a2a2"/><stop offset="0.80" stop-color="#f48f8f"/><stop offset="1.00" stop-color="#f49191"/></linearGradient>
<rect x="13.30" y="169.50" width="19.50" height="1.15" fill="url(#lg0_1695)"/>
<linearGradient id="lg0_1705"><stop offset="0.00" stop-color="#7575ee"/><stop offset="0.20" stop-color="#8080ef"/><stop offset="0.40" stop-color="#8b8bf1"/><stop offset="0.49" stop-color="#fef8f8"/><stop offset="0.60" stop-color="#f6a1a1"/><stop offset="0.80" stop-color="#f49494"/><stop offset="1.00" stop-color="#f49292"/></linearGradient>
<rect x="13.30" y="170.50" width="19.50" height="1.15" fill="url(#lg0_1705)"/>
<linearGradient id="lg0_1715"><stop offset="0.00" stop-color="#7878ee"/><stop offset="0.20" stop-color="#7c7cef"/><stop offset="0.40" stop-color="#9c9cf3"/><stop offset="0.49" stop-color="#f7f7fe"/><stop offset="0.60" stop-color="#f7b2b2"/><stop offset="0.80" stop-color="#f6a5a5"/><stop offset="1.00" stop-color="#f6a3a3"/></linearGradient>
<rect x="13.30" y="171.50" width="19.50" height="1.15" fill="url(#lg0_1715)"/>
<linearGradient id="lg0_1725"><stop offset="0.00" stop-color="#7979ee"/><stop offset="0.20" stop-color="#8181ef"/><stop offset="0.40" stop-color="#9999f2"/><stop offset="0.49" stop-color="#f7f7fe"/><stop offset="0.60" stop-color="#f7b2b2"/><stop offset="0.80" stop-color="#f7aeae"/><stop offset="1.00" stop-color="#f59c9c"/></linearGradient>
<rect x="13.30" y="172.50" width="19.50" height="1.15" fill="url(#lg0_1725)"/>
<linearGradient id="lg0_1735"><stop offset="0.00" stop-color="#7272ed"/><stop offset="0.20" stop-color="#7e7eef"/><stop offset="0.40" stop-color="#9696f2"/><stop offset="0.49" stop-color="#fcfcff"/><stop offset="0.60" stop-color="#f7b1b1"/><stop offset="0.80" stop-color="#f59999"/><stop offset="1.00" stop-color="#f49393"/></linearGradient>
<rect x="13.30" y="173.50" width="19.50" height="1.15" fill="url(#lg0_1735)"/>
<linearGradient id="lg0_1745"><stop offset="0.00" stop-color="#8787f0"/><stop offset="0.20" stop-color="#8888f0"/><stop offset="0.40" stop-color="#9c9cf3"/><stop offset="0.49" stop-color="#fcfcff"/><stop offset="0.60" stop-color="#f8b7b7"/><stop offset="0.80" stop-color="#f6a3a3"/><stop offset="1.00" stop-color="#f7adad"/></linearGradient>
<rect x="13.30" y="174.50" width="19.50" height="1.15" fill="url(#lg0_1745)"/>
<linearGradient id="lg0_1755"><stop offset="0.00" stop-color="#acacf5"/><stop offset="0.20" stop-color="#ababf4"/><stop offset="0.40" stop-color="#b2b2f5"/><stop offset="0.49" stop-color="#fffefe"/><stop offset="0.60" stop-color="#facdcd"/><stop offset="0.80" stop-color="#f8bdbd"/><stop offset="1.00" stop-color="#f7b3b3"/></linearGradient>
<rect x="13.30" y="175.50" width="19.50" height="1.15" fill="url(#lg0_1755)"/>
<linearGradient id="lg0_1765"><stop offset="0.00" stop-color="#8686f0"/><stop offset="0.20" stop-color="#8888f0"/><stop offset="0.40" stop-color="#9e9ef3"/><stop offset="0.49" stop-color="#f9f9fe"/><stop offset="0.60" stop-color="#f7acac"/><stop offset="0.80" stop-color="#f6a6a6"/><stop offset="1.00" stop-color="#f59f9f"/></linearGradient>
<rect x="13.30" y="176.50" width="19.50" height="1.15" fill="url(#lg0_1765)"/>
<linearGradient id="lg0_1775"><stop offset="0.00" stop-color="#9c9cf3"/><stop offset="0.20" stop-color="#afaff5"/><stop offset="0.40" stop-color="#c1c1f7"/><stop offset="0.49" stop-color="#fef9f9"/><stop offset="0.60" stop-color="#f9bfbf"/><stop offset="0.80" stop-color="#f8b7b7"/><stop offset="1.00" stop-color="#f8b6b6"/></linearGradient>
<rect x="13.30" y="177.50" width="19.50" height="1.15" fill="url(#lg0_1775)"/>
<linearGradient id="lg0_1785"><stop offset="0.00" stop-color="#adadf5"/><stop offset="0.20" stop-color="#b0b0f5"/><stop offset="0.40" stop-color="#b7b7f6"/><stop offset="0.49" stop-color="#f6f6fe"/><stop offset="0.60" stop-color="#facfcf"/><stop offset="0.80" stop-color="#fac9c9"/><stop offset="1.00" stop-color="#f9bfbf"/></linearGradient>
<rect x="13.30" y="178.50" width="19.50" height="1.15" fill="url(#lg0_1785)"/>
<linearGradient id="lg0_1795"><stop offset="0.00" stop-color="#9999f2"/><stop offset="0.20" stop-color="#aaaaf4"/><stop offset="0.40" stop-color="#bbbbf7"/><stop offset="0.49" stop-color="#fef7f7"/><stop offset="0.60" stop-color="#f9c1c1"/><stop offset="0.80" stop-color="#f8bcbc"/><stop offset="1.00" stop-color="#f8baba"/></linearGradient>
<rect x="13.30" y="179.50" width="19.50" height="1.15" fill="url(#lg0_1795)"/>
<linearGradient id="lg0_1805"><stop offset="0.00" stop-color="#b6b6f6"/><stop offset="0.20" stop-color="#c3c3f8"/><stop offset="0.40" stop-color="#d4d4fa"/><stop offset="0.49" stop-color="#fef9f9"/><stop offset="0.60" stop-color="#fbd5d5"/><stop offset="0.80" stop-color="#facccc"/><stop offset="1.00" stop-color="#fac8c8"/></linearGradient>
<rect x="13.30" y="180.50" width="19.50" height="1.15" fill="url(#lg0_1805)"/>
<linearGradient id="lg0_1815"><stop offset="0.00" stop-color="#c9c9f8"/><stop offset="0.20" stop-color="#d2d2f9"/><stop offset="0.40" stop-color="#d9d9fa"/><stop offset="0.49" stop-color="#fffafa"/><stop offset="0.60" stop-color="#fbdbdb"/><stop offset="0.80" stop-color="#fcdcdc"/><stop offset="1.00" stop-color="#fad0d0"/></linearGradient>
<rect x="13.30" y="181.50" width="19.50" height="1.15" fill="url(#lg0_1815)"/>
<linearGradient id="lg0_1825"><stop offset="0.00" stop-color="#cdcdf9"/><stop offset="0.20" stop-color="#d4d4fa"/><stop offset="0.40" stop-color="#d2d2f9"/><stop offset="0.49" stop-color="#fdfdff"/><stop offset="0.60" stop-color="#fbd3d3"/><stop offset="0.80" stop-color="#fbd3d3"/><stop offset="1.00" stop-color="#fbdcdc"/></linearGradient>
<rect x="13.30" y="182.50" width="19.50" height="1.15" fill="url(#lg0_1825)"/>
<linearGradient id="lg0_1835"><stop offset="0.00" stop-color="#ccccf9"/><stop offset="0.20" stop-color="#dedefb"/><stop offset="0.40" stop-color="#e3e3fc"/><stop offset="0.49" stop-color="#f8f8fe"/><stop offset="0.60" stop-color="#fcdddd"/><stop offset="0.80" stop-color="#fbd7d7"/><stop offset="1.00" stop-color="#fbdcdc"/></linearGradient>
<rect x="13.30" y="183.50" width="19.50" height="1.15" fill="url(#lg0_1835)"/>
<linearGradient id="lg0_1845"><stop offset="0.00" stop-color="#d7d7fa"/><stop offset="0.20" stop-color="#d2d2f9"/><stop offset="0.40" stop-color="#d7d7fa"/><stop offset="0.49" stop-color="#fef7f7"/><stop offset="0.60" stop-color="#fce3e3"/><stop offset="0.80" stop-color="#fce1e1"/><stop offset="1.00" stop-color="#fbd9d9"/></linearGradient>
<rect x="13.30" y="184.50" width="19.50" height="1.15" fill="url(#lg0_1845)"/>
<linearGradient id="lg0_1855"><stop offset="0.00" stop-color="#e4e4fc"/><stop offset="0.20" stop-color="#e6e6fc"/><stop offset="0.40" stop-color="#e0e0fb"/><stop offset="0.49" stop-color="#fafafe"/><stop offset="0.60" stop-color="#fdeded"/><stop offset="0.80" stop-color="#fdecec"/><stop offset="1.00" stop-color="#fce5e5"/></linearGradient>
<rect x="13.30" y="185.50" width="19.50" height="1.15" fill="url(#lg0_1855)"/>
<linearGradient id="lg0_1865"><stop offset="0.00" stop-color="#e6e6fc"/><stop offset="0.20" stop-color="#e2e2fb"/><stop offset="0.40" stop-color="#f5f5fe"/><stop offset="0.49" stop-color="#fcfcff"/><stop offset="0.60" stop-color="#fef1f1"/><stop offset="0.80" stop-color="#fdeded"/><stop offset="1.00" stop-color="#fde7e7"/></linearGradient>
<rect x="13.30" y="186.50" width="19.50" height="1.15" fill="url(#lg0_1865)"/>
<linearGradient id="lg0_1875"><stop offset="0.00" stop-color="#f6f6fe"/><stop offset="0.20" stop-color="#f0f0fd"/><stop offset="0.40" stop-color="#f3f3fd"/><stop offset="0.49" stop-color="#ffffff"/><stop offset="0.60" stop-color="#fffdfd"/><stop offset="0.80" stop-color="#fef4f4"/><stop offset="1.00" stop-color="#fef8f8"/></linearGradient>
<rect x="13.30" y="187.50" width="19.50" height="1.15" fill="url(#lg0_1875)"/>
<linearGradient id="lg0_1885"><stop offset="0.00" stop-color="#fefeff"/><stop offset="0.20" stop-color="#f3f3fd"/><stop offset="0.40" stop-color="#f9f9fe"/><stop offset="0.49" stop-color="#fffbfb"/><stop offset="0.60" stop-color="#fefafa"/><stop offset="0.80" stop-color="#fffdfd"/><stop offset="1.00" stop-color="#fefafa"/></linearGradient>
<rect x="13.30" y="188.50" width="19.50" height="1.15" fill="url(#lg0_1885)"/>
<linearGradient id="lg0_1895"><stop offset="0.00" stop-color="#fef9f9"/><stop offset="0.20" stop-color="#f8f8fe"/><stop offset="0.40" stop-color="#fffefe"/><stop offset="0.49" stop-color="#fafafe"/><stop offset="0.60" stop-color="#fafafe"/><stop offset="0.80" stop-color="#fffafa"/><stop offset="1.00" stop-color="#ffffff"/></linearGradient>
<rect x="13.30" y="189.50" width="19.50" height="1.15" fill="url(#lg0_1895)"/>
<linearGradient id="lg0_1905"><stop offset="0.00" stop-color="#fef1f1"/><stop offset="0.20" stop-color="#fdefef"/><stop offset="0.40" stop-color="#fef9f9"/><stop offset="0.49" stop-color="#fffdfd"/><stop offset="0.60" stop-color="#f9f9fe"/><stop offset="0.80" stop-color="#f8f8fe"/><stop offset="1.00" stop-color="#fbfbff"/></linearGradient>
<rect x="13.30" y="190.50" width="19.50" height="1.15" fill="url(#lg0_1905)"/>
<linearGradient id="lg0_1915"><stop offset="0.00" stop-color="#fdeeee"/><stop offset="0.20" stop-color="#fdf0f0"/><stop offset="0.40" stop-color="#fdeaea"/><stop offset="0.49" stop-color="#fffbfb"/><stop offset="0.60" stop-color="#fafafe"/><stop offset="0.80" stop-color="#fafafe"/><stop offset="1.00" stop-color="#ececfd"/></linearGradient>
<rect x="13.30" y="191.50" width="19.50" height="1.15" fill="url(#lg0_1915)"/>
<linearGradient id="lg0_1925"><stop offset="0.00" stop-color="#fcdddd"/><stop offset="0.20" stop-color="#fce1e1"/><stop offset="0.40" stop-color="#fef2f2"/><stop offset="0.49" stop-color="#f8f8fe"/><stop offset="0.60" stop-color="#ebebfd"/><stop offset="0.80" stop-color="#e2e2fb"/><stop offset="1.00" stop-color="#e4e4fc"/></linearGradient>
<rect x="13.30" y="192.50" width="19.50" height="1.15" fill="url(#lg0_1925)"/>
<linearGradient id="lg0_1935"><stop offset="0.00" stop-color="#fce1e1"/><stop offset="0.20" stop-color="#fce1e1"/><stop offset="0.40" stop-color="#fce3e3"/><stop offset="0.49" stop-color="#f8f8fe"/><stop offset="0.60" stop-color="#efeffd"/><stop offset="0.80" stop-color="#ececfd"/><stop offset="1.00" stop-color="#e1e1fb"/></linearGradient>
<rect x="13.30" y="193.50" width="19.50" height="1.15" fill="url(#lg0_1935)"/>
<linearGradient id="lg0_1945"><stop offset="0.00" stop-color="#f9c6c6"/><stop offset="0.20" stop-color="#fbd7d7"/><stop offset="0.40" stop-color="#fbd2d2"/><stop offset="0.49" stop-color="#fdfdff"/><stop offset="0.60" stop-color="#dcdcfb"/><stop offset="0.80" stop-color="#e1e1fb"/><stop offset="1.00" stop-color="#ddddfb"/></linearGradient>
<rect x="13.30" y="194.50" width="19.50" height="1.15" fill="url(#lg0_1945)"/>
<linearGradient id="lg0_1955"><stop offset="0.00" stop-color="#fbd6d6"/><stop offset="0.20" stop-color="#fbd7d7"/><stop offset="0.40" stop-color="#fce2e2"/><stop offset="0.49" stop-color="#f9f9fe"/><stop offset="0.60" stop-color="#ddddfb"/><stop offset="0.80" stop-color="#e1e1fb"/><stop offset="1.00" stop-color="#d2d2f9"/></linearGradient>
<rect x="13.30" y="195.50" width="19.50" height="1.15" fill="url(#lg0_1955)"/>
<linearGradient id="lg0_1965"><stop offset="0.00" stop-color="#f9c5c5"/><stop offset="0.20" stop-color="#fad1d1"/><stop offset="0.40" stop-color="#fbd5d5"/><stop offset="0.49" stop-color="#fffdfd"/><stop offset="0.60" stop-color="#d5d5fa"/><stop offset="0.80" stop-color="#c7c7f8"/><stop offset="1.00" stop-color="#d7d7fa"/></linearGradient>
<rect x="13.30" y="196.50" width="19.50" height="1.15" fill="url(#lg0_1965)"/>
<linearGradient id="lg0_1975"><stop offset="0.00" stop-color="#f7adad"/><stop offset="0.20" stop-color="#f9c2c2"/><stop offset="0.40" stop-color="#facbcb"/><stop offset="0.49" stop-color="#f6f6fe"/><stop offset="0.60" stop-color="#d0d0f9"/><stop offset="0.80" stop-color="#bfbff7"/><stop offset="1.00" stop-color="#bbbbf6"/></linearGradient>
<rect x="13.30" y="197.50" width="19.50" height="1.15" fill="url(#lg0_1975)"/>
<linearGradient id="lg0_1985"><stop offset="0.00" stop-color="#f7b1b1"/><stop offset="0.20" stop-color="#f8b8b8"/><stop offset="0.40" stop-color="#facece"/><stop offset="0.49" stop-color="#f8f8fe"/><stop offset="0.60" stop-color="#d4d4fa"/><stop offset="0.80" stop-color="#c7c7f8"/><stop offset="1.00" stop-color="#c8c8f8"/></linearGradient>
<rect x="13.30" y="198.50" width="19.50" height="1.15" fill="url(#lg0_1985)"/>
<linearGradient id="lg0_1995"><stop offset="0.00" stop-color="#f9c4c4"/><stop offset="0.20" stop-color="#f9bebe"/><stop offset="0.40" stop-color="#facece"/><stop offset="0.49" stop-color="#f7f7fe"/><stop offset="0.60" stop-color="#d8d8fa"/><stop offset="0.80" stop-color="#ccccf9"/><stop offset="1.00" stop-color="#cdcdf9"/></linearGradient>
<rect x="13.30" y="199.50" width="19.50" height="1.15" fill="url(#lg0_1995)"/>
<linearGradient id="lg0_2005"><stop offset="0.00" stop-color="#f7b0b0"/><stop offset="0.20" stop-color="#f9c4c4"/><stop offset="0.40" stop-color="#f9c1c1"/><stop offset="0.49" stop-color="#fefeff"/><stop offset="0.60" stop-color="#c8c8f8"/><stop offset="0.80" stop-color="#c5c5f8"/><stop offset="1.00" stop-color="#cbcbf8"/></linearGradient>
<rect x="13.30" y="200.50" width="19.50" height="1.15" fill="url(#lg0_2005)"/>
<linearGradient id="lg0_2015"><stop offset="0.00" stop-color="#f7b0b0"/><stop offset="0.20" stop-color="#f7afaf"/><stop offset="0.40" stop-color="#f9c3c3"/><stop offset="0.49" stop-color="#f8f8fe"/><stop offset="0.60" stop-color="#bbbbf6"/><stop offset="0.80" stop-color="#b1b1f5"/><stop offset="1.00" stop-color="#b2b2f5"/></linearGradient>
<rect x="13.30" y="201.50" width="19.50" height="1.15" fill="url(#lg0_2015)"/>
<linearGradient id="lg0_2025"><stop offset="0.00" stop-color="#f6a5a5"/><stop offset="0.20" stop-color="#f6a4a4"/><stop offset="0.40" stop-color="#f8bbbb"/><stop offset="0.49" stop-color="#ffffff"/><stop offset="0.60" stop-color="#b5b5f6"/><stop offset="0.80" stop-color="#b0b0f5"/><stop offset="1.00" stop-color="#a7a7f4"/></linearGradient>
<rect x="13.30" y="202.50" width="19.50" height="1.15" fill="url(#lg0_2025)"/>
<linearGradient id="lg0_2035"><stop offset="0.00" stop-color="#f6a7a7"/><stop offset="0.20" stop-color="#f6a1a1"/><stop offset="0.40" stop-color="#f8b4b4"/><stop offset="0.49" stop-color="#f9f9fe"/><stop offset="0.60" stop-color="#b9b9f6"/><stop offset="0.80" stop-color="#b9b9f6"/><stop offset="1.00" stop-color="#a6a6f4"/></linearGradient>
<rect x="13.30" y="203.50" width="19.50" height="1.15" fill="url(#lg0_2035)"/>
<linearGradient id="lg0_2045"><stop offset="0.00" stop-color="#f27e7e"/><stop offset="0.20" stop-color="#f38787"/><stop offset="0.40" stop-color="#f49696"/><stop offset="0.49" stop-color="#fdfdff"/><stop offset="0.60" stop-color="#a1a1f3"/><stop offset="0.80" stop-color="#9999f2"/><stop offset="1.00" stop-color="#9b9bf3"/></linearGradient>
<rect x="13.30" y="204.50" width="19.50" height="1.15" fill="url(#lg0_2045)"/>
<linearGradient id="lg0_2055"><stop offset="0.00" stop-color="#f38888"/><stop offset="0.20" stop-color="#f49393"/><stop offset="0.40" stop-color="#f6a7a7"/><stop offset="0.49" stop-color="#fdfdff"/><stop offset="0.60" stop-color="#ababf4"/><stop offset="0.80" stop-color="#9b9bf2"/><stop offset="1.00" stop-color="#9999f2"/></linearGradient>
<rect x="13.30" y="205.50" width="19.50" height="1.15" fill="url(#lg0_2055)"/>
<linearGradient id="lg0_2065"><stop offset="0.00" stop-color="#f49393"/><stop offset="0.20" stop-color="#f6a3a3"/><stop offset="0.40" stop-color="#f8b6b6"/><stop offset="0.49" stop-color="#f7f7fe"/><stop offset="0.60" stop-color="#bbbbf6"/><stop offset="0.80" stop-color="#b2b2f5"/><stop offset="1.00" stop-color="#ababf5"/></linearGradient>
<rect x="13.30" y="206.50" width="19.50" height="1.15" fill="url(#lg0_2065)"/>
<linearGradient id="lg0_2075"><stop offset="0.00" stop-color="#f48d8d"/><stop offset="0.20" stop-color="#f49595"/><stop offset="0.40" stop-color="#f6a5a5"/><stop offset="0.49" stop-color="#f8f8fe"/><stop offset="0.60" stop-color="#a8a8f4"/><stop offset="0.80" stop-color="#9a9af2"/><stop offset="1.00" stop-color="#a4a4f4"/></linearGradient>
<rect x="13.30" y="207.50" width="19.50" height="1.15" fill="url(#lg0_2075)"/>
<linearGradient id="lg0_2085"><stop offset="0.00" stop-color="#f06969"/><stop offset="0.20" stop-color="#f17272"/><stop offset="0.40" stop-color="#f27f7f"/><stop offset="0.49" stop-color="#fbfbff"/><stop offset="0.60" stop-color="#8b8bf1"/><stop offset="0.80" stop-color="#7676ee"/><stop offset="1.00" stop-color="#7a7aee"/></linearGradient>
<rect x="13.30" y="208.50" width="19.50" height="1.15" fill="url(#lg0_2085)"/>
<linearGradient id="lg0_2095"><stop offset="0.00" stop-color="#f27d7d"/><stop offset="0.20" stop-color="#f48d8d"/><stop offset="0.40" stop-color="#f59c9c"/><stop offset="0.49" stop-color="#f5f5fe"/><stop offset="0.60" stop-color="#9d9df3"/><stop offset="0.80" stop-color="#8e8ef1"/><stop offset="1.00" stop-color="#9191f1"/></linearGradient>
<rect x="13.30" y="209.50" width="19.50" height="1.15" fill="url(#lg0_2095)"/>
<linearGradient id="lg0_2105"><stop offset="0.00" stop-color="#f59e9e"/><stop offset="0.20" stop-color="#f6a1a1"/><stop offset="0.40" stop-color="#f7b3b3"/><stop offset="0.49" stop-color="#fffdfd"/><stop offset="0.60" stop-color="#b4b4f6"/><stop offset="0.80" stop-color="#aeaef5"/><stop offset="1.00" stop-color="#aaaaf4"/></linearGradient>
<rect x="13.30" y="210.50" width="19.50" height="1.15" fill="url(#lg0_2105)"/>
<linearGradient id="lg0_2115"><stop offset="0.00" stop-color="#f06969"/><stop offset="0.20" stop-color="#f27d7d"/><stop offset="0.40" stop-color="#f49595"/><stop offset="0.49" stop-color="#fef6f6"/><stop offset="0.60" stop-color="#9191f1"/><stop offset="0.80" stop-color="#8f8ff1"/><stop offset="1.00" stop-color="#8a8af0"/></linearGradient>
<rect x="13.30" y="211.50" width="19.50" height="1.15" fill="url(#lg0_2115)"/>
<linearGradient id="lg0_2125"><stop offset="0.00" stop-color="#f48f8f"/><stop offset="0.20" stop-color="#f59696"/><stop offset="0.40" stop-color="#f7acac"/><stop offset="0.49" stop-color="#fffbfb"/><stop offset="0.60" stop-color="#b9b9f6"/><stop offset="0.80" stop-color="#a2a2f3"/><stop offset="1.00" stop-color="#a7a7f4"/></linearGradient>
<rect x="13.30" y="212.50" width="19.50" height="1.15" fill="url(#lg0_2125)"/>
<linearGradient id="lg0_2135"><stop offset="0.00" stop-color="#f17676"/><stop offset="0.20" stop-color="#f28080"/><stop offset="0.40" stop-color="#f49595"/><stop offset="0.49" stop-color="#fffdfd"/><stop offset="0.60" stop-color="#a8a8f4"/><stop offset="0.80" stop-color="#9898f2"/><stop offset="1.00" stop-color="#9595f2"/></linearGradient>
<rect x="13.30" y="213.50" width="19.50" height="1.15" fill="url(#lg0_2135)"/>
<linearGradient id="lg0_2145"><stop offset="0.00" stop-color="#f49393"/><stop offset="0.20" stop-color="#f59a9a"/><stop offset="0.40" stop-color="#f6a9a9"/><stop offset="0.49" stop-color="#f7f7fe"/><stop offset="0.60" stop-color="#b2b2f5"/><stop offset="0.80" stop-color="#a2a2f3"/><stop offset="1.00" stop-color="#a0a0f3"/></linearGradient>
<rect x="13.30" y="214.50" width="19.50" height="1.15" fill="url(#lg0_2145)"/>
<linearGradient id="lg0_2155"><stop offset="0.00" stop-color="#f17272"/><stop offset="0.20" stop-color="#f28080"/><stop offset="0.40" stop-color="#f59f9f"/><stop offset="0.49" stop-color="#fefafa"/><stop offset="0.60" stop-color="#a1a1f3"/><stop offset="0.80" stop-color="#8f8ff1"/><stop offset="1.00" stop-color="#8c8cf1"/></linearGradient>
<rect x="13.30" y="215.50" width="19.50" height="1.15" fill="url(#lg0_2155)"/>
<linearGradient id="lg0_2165"><stop offset="0.00" stop-color="#f27b7b"/><stop offset="0.20" stop-color="#f27979"/><stop offset="0.40" stop-color="#f59999"/><stop offset="0.49" stop-color="#f7f7fe"/><stop offset="0.60" stop-color="#9696f2"/><stop offset="0.80" stop-color="#9292f1"/><stop offset="1.00" stop-color="#8585f0"/></linearGradient>
<rect x="13.30" y="216.50" width="19.50" height="1.15" fill="url(#lg0_2165)"/>
<linearGradient id="lg0_2175"><stop offset="0.00" stop-color="#f06969"/><stop offset="0.20" stop-color="#f27a7a"/><stop offset="0.40" stop-color="#f49393"/><stop offset="0.49" stop-color="#ffffff"/><stop offset="0.60" stop-color="#9b9bf2"/><stop offset="0.80" stop-color="#8f8ff1"/><stop offset="1.00" stop-color="#8989f0"/></linearGradient>
<rect x="13.30" y="217.50" width="19.50" height="1.15" fill="url(#lg0_2175)"/>
<linearGradient id="lg0_2185"><stop offset="0.00" stop-color="#f27c7c"/><stop offset="0.20" stop-color="#f38585"/><stop offset="0.40" stop-color="#f59a9a"/><stop offset="0.49" stop-color="#fffbfb"/><stop offset="0.60" stop-color="#9797f2"/><stop offset="0.80" stop-color="#9090f1"/><stop offset="1.00" stop-color="#8282ef"/></linearGradient>
<rect x="13.30" y="218.50" width="19.50" height="1.15" fill="url(#lg0_2185)"/>
<linearGradient id="lg0_2195"><stop offset="0.00" stop-color="#f59898"/><stop offset="0.20" stop-color="#f59999"/><stop offset="0.40" stop-color="#f7aaaa"/><stop offset="0.49" stop-color="#fffcfc"/><stop offset="0.60" stop-color="#aeaef5"/><stop offset="0.80" stop-color="#a9a9f4"/><stop offset="1.00" stop-color="#a5a5f4"/></linearGradient>
<rect x="13.30" y="219.50" width="19.50" height="1.15" fill="url(#lg0_2195)"/>
<linearGradient id="lg0_2205"><stop offset="0.00" stop-color="#f38585"/><stop offset="0.20" stop-color="#f28181"/><stop offset="0.40" stop-color="#f6a2a2"/><stop offset="0.49" stop-color="#fef6f6"/><stop offset="0.60" stop-color="#aaaaf4"/><stop offset="0.80" stop-color="#8d8df1"/><stop offset="1.00" stop-color="#9292f1"/></linearGradient>
<rect x="13.30" y="220.50" width="19.50" height="1.15" fill="url(#lg0_2205)"/>
<linearGradient id="lg0_2215"><stop offset="0.00" stop-color="#f06969"/><stop offset="0.20" stop-color="#f17676"/><stop offset="0.40" stop-color="#f49292"/><stop offset="0.49" stop-color="#f9f9fe"/><stop offset="0.60" stop-color="#9d9df3"/><stop offset="0.80" stop-color="#8181ef"/><stop offset="1.00" stop-color="#8484f0"/></linearGradient>
<rect x="13.30" y="221.50" width="19.50" height="1.15" fill="url(#lg0_2215)"/>
<linearGradient id="lg0_2225"><stop offset="0.00" stop-color="#f48f8f"/><stop offset="0.20" stop-color="#f49090"/><stop offset="0.40" stop-color="#f7b1b1"/><stop offset="0.49" stop-color="#fef9f9"/><stop offset="0.60" stop-color="#afaff5"/><stop offset="0.80" stop-color="#acacf5"/><stop offset="1.00" stop-color="#a6a6f4"/></linearGradient>
<rect x="13.30" y="222.50" width="19.50" height="1.05" fill="url(#lg0_2225)"/>
<linearGradient id="lg1_2234"><stop offset="0.00" stop-color="#8d8df1"/><stop offset="0.12" stop-color="#8c8cf1"/><stop offset="0.22" stop-color="#fffbfb"/><stop offset="0.40" stop-color="#fce2e2"/><stop offset="0.70" stop-color="#fbd7d7"/><stop offset="1.00" stop-color="#fbdada"/></linearGradient>
<rect x="13.30" y="223.40" width="19.50" height="1.15" fill="url(#lg1_2234)"/>
<linearGradient id="lg1_2244"><stop offset="0.00" stop-color="#7b7bee"/><stop offset="0.12" stop-color="#8686f0"/><stop offset="0.22" stop-color="#fef5f5"/><stop offset="0.40" stop-color="#fad2d2"/><stop offset="0.70" stop-color="#fcdede"/><stop offset="1.00" stop-color="#fbd3d3"/></linearGradient>
<rect x="13.30" y="224.40" width="19.50" height="1.15" fill="url(#lg1_2244)"/>
<linearGradient id="lg1_2254"><stop offset="0.00" stop-color="#5f5feb"/><stop offset="0.12" stop-color="#7474ee"/><stop offset="0.22" stop-color="#fdebeb"/><stop offset="0.40" stop-color="#f9c7c7"/><stop offset="0.70" stop-color="#facfcf"/><stop offset="1.00" stop-color="#fad0d0"/></linearGradient>
<rect x="13.30" y="225.40" width="19.50" height="1.15" fill="url(#lg1_2254)"/>
<linearGradient id="lg1_2264"><stop offset="0.00" stop-color="#8686f0"/><stop offset="0.12" stop-color="#8585f0"/><stop offset="0.22" stop-color="#fef4f4"/><stop offset="0.40" stop-color="#fbd7d7"/><stop offset="0.70" stop-color="#fbd8d8"/><stop offset="1.00" stop-color="#fcdede"/></linearGradient>
<rect x="13.30" y="226.40" width="19.50" height="1.15" fill="url(#lg1_2264)"/>
<linearGradient id="lg1_2274"><stop offset="0.00" stop-color="#9494f2"/><stop offset="0.12" stop-color="#8f8ff1"/><stop offset="0.22" stop-color="#fdebeb"/><stop offset="0.40" stop-color="#fce0e0"/><stop offset="0.70" stop-color="#fcdddd"/><stop offset="1.00" stop-color="#fbdbdb"/></linearGradient>
<rect x="13.30" y="227.40" width="19.50" height="1.15" fill="url(#lg1_2274)"/>
<linearGradient id="lg1_2284"><stop offset="0.00" stop-color="#8686f0"/><stop offset="0.12" stop-color="#9797f2"/><stop offset="0.22" stop-color="#fdecec"/><stop offset="0.40" stop-color="#fbd4d4"/><stop offset="0.70" stop-color="#fbd5d5"/><stop offset="1.00" stop-color="#fbd2d2"/></linearGradient>
<rect x="13.30" y="228.40" width="19.50" height="1.15" fill="url(#lg1_2284)"/>
<linearGradient id="lg1_2294"><stop offset="0.00" stop-color="#5f5feb"/><stop offset="0.12" stop-color="#6a6aec"/><stop offset="0.22" stop-color="#fef6f6"/><stop offset="0.40" stop-color="#fac8c8"/><stop offset="0.70" stop-color="#facaca"/><stop offset="1.00" stop-color="#f9c8c8"/></linearGradient>
<rect x="13.30" y="229.40" width="19.50" height="1.15" fill="url(#lg1_2294)"/>
<linearGradient id="lg1_2304"><stop offset="0.00" stop-color="#6a6aec"/><stop offset="0.12" stop-color="#6d6ded"/><stop offset="0.22" stop-color="#fde8e8"/><stop offset="0.40" stop-color="#fbd8d8"/><stop offset="0.70" stop-color="#facfcf"/><stop offset="1.00" stop-color="#fbd4d4"/></linearGradient>
<rect x="13.30" y="230.40" width="19.50" height="1.15" fill="url(#lg1_2304)"/>
<linearGradient id="lg1_2314"><stop offset="0.00" stop-color="#8686f0"/><stop offset="0.12" stop-color="#9292f1"/><stop offset="0.22" stop-color="#fef6f6"/><stop offset="0.40" stop-color="#fbd5d5"/><stop offset="0.70" stop-color="#fbd9d9"/><stop offset="1.00" stop-color="#fbd7d7"/></linearGradient>
<rect x="13.30" y="231.40" width="19.50" height="1.15" fill="url(#lg1_2314)"/>
<linearGradient id="lg1_2324"><stop offset="0.00" stop-color="#7676ee"/><stop offset="0.12" stop-color="#7d7def"/><stop offset="0.22" stop-color="#fef7f7"/><stop offset="0.40" stop-color="#facfcf"/><stop offset="0.70" stop-color="#fbd3d3"/><stop offset="1.00" stop-color="#fbdbdb"/></linearGradient>
<rect x="13.30" y="232.40" width="19.50" height="1.15" fill="url(#lg1_2324)"/>
<linearGradient id="lg1_2334"><stop offset="0.00" stop-color="#6868ec"/><stop offset="0.12" stop-color="#6767ec"/><stop offset="0.22" stop-color="#fef5f5"/><stop offset="0.40" stop-color="#fbd2d2"/><stop offset="0.70" stop-color="#fad1d1"/><stop offset="1.00" stop-color="#fad0d0"/></linearGradient>
<rect x="13.30" y="233.40" width="19.50" height="1.15" fill="url(#lg1_2334)"/>
<linearGradient id="lg1_2344"><stop offset="0.00" stop-color="#8989f0"/><stop offset="0.12" stop-color="#8f8ff1"/><stop offset="0.22" stop-color="#fef2f2"/><stop offset="0.40" stop-color="#fbd5d5"/><stop offset="0.70" stop-color="#fbd5d5"/><stop offset="1.00" stop-color="#fcdddd"/></linearGradient>
<rect x="13.30" y="234.40" width="19.50" height="1.15" fill="url(#lg1_2344)"/>
<linearGradient id="lg1_2354"><stop offset="0.00" stop-color="#7c7cef"/><stop offset="0.12" stop-color="#8080ef"/><stop offset="0.22" stop-color="#fef4f4"/><stop offset="0.40" stop-color="#fcdede"/><stop offset="0.70" stop-color="#fbd7d7"/><stop offset="1.00" stop-color="#facdcd"/></linearGradient>
<rect x="13.30" y="235.40" width="19.50" height="1.15" fill="url(#lg1_2354)"/>
<linearGradient id="lg1_2364"><stop offset="0.00" stop-color="#8c8cf1"/><stop offset="0.12" stop-color="#9595f2"/><stop offset="0.22" stop-color="#fdecec"/><stop offset="0.40" stop-color="#fce0e0"/><stop offset="0.70" stop-color="#fcdddd"/><stop offset="1.00" stop-color="#fce0e0"/></linearGradient>
<rect x="13.30" y="236.40" width="19.50" height="1.15" fill="url(#lg1_2364)"/>
<linearGradient id="lg1_2374"><stop offset="0.00" stop-color="#7d7def"/><stop offset="0.12" stop-color="#8e8ef1"/><stop offset="0.22" stop-color="#fdebeb"/><stop offset="0.40" stop-color="#fad0d0"/><stop offset="0.70" stop-color="#fcdddd"/><stop offset="1.00" stop-color="#fcdfdf"/></linearGradient>
<rect x="13.30" y="237.40" width="19.50" height="1.15" fill="url(#lg1_2374)"/>
<linearGradient id="lg1_2384"><stop offset="0.00" stop-color="#7a7aee"/><stop offset="0.12" stop-color="#7a7aee"/><stop offset="0.22" stop-color="#fdefef"/><stop offset="0.40" stop-color="#fcdcdc"/><stop offset="0.70" stop-color="#fbd2d2"/><stop offset="1.00" stop-color="#facccc"/></linearGradient>
<rect x="13.30" y="238.40" width="19.50" height="1.15" fill="url(#lg1_2384)"/>
<linearGradient id="lg1_2394"><stop offset="0.00" stop-color="#7a7aee"/><stop offset="0.12" stop-color="#8484f0"/><stop offset="0.22" stop-color="#fef5f5"/><stop offset="0.40" stop-color="#fbdada"/><stop offset="0.70" stop-color="#fbd7d7"/><stop offset="1.00" stop-color="#fbd3d3"/></linearGradient>
<rect x="13.30" y="239.40" width="19.50" height="1.15" fill="url(#lg1_2394)"/>
<linearGradient id="lg1_2404"><stop offset="0.00" stop-color="#8a8af0"/><stop offset="0.12" stop-color="#8d8df1"/><stop offset="0.22" stop-color="#fdefef"/><stop offset="0.40" stop-color="#fbd3d3"/><stop offset="0.70" stop-color="#fbd6d6"/><stop offset="1.00" stop-color="#fbd7d7"/></linearGradient>
<rect x="13.30" y="240.40" width="19.50" height="1.15" fill="url(#lg1_2404)"/>
<linearGradient id="lg1_2414"><stop offset="0.00" stop-color="#acacf5"/><stop offset="0.12" stop-color="#a7a7f4"/><stop offset="0.22" stop-color="#fdeeee"/><stop offset="0.40" stop-color="#fce1e1"/><stop offset="0.70" stop-color="#fce5e5"/><stop offset="1.00" stop-color="#fdeaea"/></linearGradient>
<rect x="13.30" y="241.40" width="19.50" height="1.15" fill="url(#lg1_2414)"/>
<linearGradient id="lg1_2424"><stop offset="0.00" stop-color="#a6a6f4"/><stop offset="0.12" stop-color="#acacf5"/><stop offset="0.22" stop-color="#fffcfc"/><stop offset="0.40" stop-color="#fdeaea"/><stop offset="0.70" stop-color="#fce0e0"/><stop offset="1.00" stop-color="#fce1e1"/></linearGradient>
<rect x="13.30" y="242.40" width="19.50" height="1.15" fill="url(#lg1_2424)"/>
<linearGradient id="lg1_2434"><stop offset="0.00" stop-color="#9f9ff3"/><stop offset="0.12" stop-color="#ababf5"/><stop offset="0.22" stop-color="#fffefe"/><stop offset="0.40" stop-color="#fde6e6"/><stop offset="0.70" stop-color="#fce1e1"/><stop offset="1.00" stop-color="#fbdada"/></linearGradient>
<rect x="13.30" y="243.40" width="19.50" height="1.15" fill="url(#lg1_2434)"/>
<linearGradient id="lg1_2444"><stop offset="0.00" stop-color="#a9a9f4"/><stop offset="0.12" stop-color="#a7a7f4"/><stop offset="0.22" stop-color="#fffafa"/><stop offset="0.40" stop-color="#fde6e6"/><stop offset="0.70" stop-color="#fbd8d8"/><stop offset="1.00" stop-color="#fcdede"/></linearGradient>
<rect x="13.30" y="244.40" width="19.50" height="1.15" fill="url(#lg1_2444)"/>
<linearGradient id="lg1_2454"><stop offset="0.00" stop-color="#acacf5"/><stop offset="0.12" stop-color="#babaf6"/><stop offset="0.22" stop-color="#fef4f4"/><stop offset="0.40" stop-color="#fde9e9"/><stop offset="0.70" stop-color="#fdebeb"/><stop offset="1.00" stop-color="#fce5e5"/></linearGradient>
<rect x="13.30" y="245.40" width="19.50" height="1.15" fill="url(#lg1_2454)"/>
<linearGradient id="lg1_2464"><stop offset="0.00" stop-color="#a5a5f4"/><stop offset="0.12" stop-color="#a6a6f4"/><stop offset="0.22" stop-color="#fef9f9"/><stop offset="0.40" stop-color="#fce6e6"/><stop offset="0.70" stop-color="#fcdfdf"/><stop offset="1.00" stop-color="#fdeaea"/></linearGradient>
<rect x="13.30" y="246.40" width="19.50" height="1.15" fill="url(#lg1_2464)"/>
<linearGradient id="lg1_2474"><stop offset="0.00" stop-color="#bcbcf7"/><stop offset="0.12" stop-color="#bbbbf7"/><stop offset="0.22" stop-color="#fffdfd"/><stop offset="0.40" stop-color="#fce0e0"/><stop offset="0.70" stop-color="#fdeaea"/><stop offset="1.00" stop-color="#fce3e3"/></linearGradient>
<rect x="13.30" y="247.40" width="19.50" height="1.15" fill="url(#lg1_2474)"/>
<linearGradient id="lg1_2484"><stop offset="0.00" stop-color="#c8c8f8"/><stop offset="0.12" stop-color="#d5d5fa"/><stop offset="0.22" stop-color="#fffefe"/><stop offset="0.40" stop-color="#fde7e7"/><stop offset="0.70" stop-color="#fdefef"/><stop offset="1.00" stop-color="#fef5f5"/></linearGradient>
<rect x="13.30" y="248.40" width="19.50" height="1.15" fill="url(#lg1_2484)"/>
<linearGradient id="lg1_2494"><stop offset="0.00" stop-color="#d4d4fa"/><stop offset="0.12" stop-color="#dbdbfa"/><stop offset="0.22" stop-color="#fef3f3"/><stop offset="0.40" stop-color="#fef8f8"/><stop offset="0.70" stop-color="#fef3f3"/><stop offset="1.00" stop-color="#fef7f7"/></linearGradient>
<rect x="13.30" y="249.40" width="19.50" height="1.15" fill="url(#lg1_2494)"/>
<linearGradient id="lg1_2504"><stop offset="0.00" stop-color="#c9c9f8"/><stop offset="0.12" stop-color="#cacaf8"/><stop offset="0.22" stop-color="#fcfcff"/><stop offset="0.40" stop-color="#fef2f2"/><stop offset="0.70" stop-color="#fde8e8"/><stop offset="1.00" stop-color="#fde9e9"/></linearGradient>
<rect x="13.30" y="250.40" width="19.50" height="1.15" fill="url(#lg1_2504)"/>
<linearGradient id="lg1_2514"><stop offset="0.00" stop-color="#e7e7fc"/><stop offset="0.12" stop-color="#e8e8fc"/><stop offset="0.22" stop-color="#ffffff"/><stop offset="0.40" stop-color="#fffafa"/><stop offset="0.70" stop-color="#fdecec"/><stop offset="1.00" stop-color="#fef0f0"/></linearGradient>
<rect x="13.30" y="251.40" width="19.50" height="1.15" fill="url(#lg1_2514)"/>
<linearGradient id="lg1_2524"><stop offset="0.00" stop-color="#f1f1fd"/><stop offset="0.12" stop-color="#ececfd"/><stop offset="0.22" stop-color="#ffffff"/><stop offset="0.40" stop-color="#fffdfd"/><stop offset="0.70" stop-color="#ffffff"/><stop offset="1.00" stop-color="#fbfbff"/></linearGradient>
<rect x="13.30" y="252.40" width="19.50" height="1.15" fill="url(#lg1_2524)"/>
<linearGradient id="lg1_2534"><stop offset="0.00" stop-color="#f0f0fd"/><stop offset="0.12" stop-color="#fdfdff"/><stop offset="0.22" stop-color="#f9f9fe"/><stop offset="0.40" stop-color="#fef3f3"/><stop offset="0.70" stop-color="#fefeff"/><stop offset="1.00" stop-color="#fffefe"/></linearGradient>
<rect x="13.30" y="253.40" width="19.50" height="1.15" fill="url(#lg1_2534)"/>
<linearGradient id="lg1_2544"><stop offset="0.00" stop-color="#fffefe"/><stop offset="0.12" stop-color="#f9f9fe"/><stop offset="0.22" stop-color="#f7f7fe"/><stop offset="0.40" stop-color="#fffefe"/><stop offset="0.70" stop-color="#fefeff"/><stop offset="1.00" stop-color="#fef6f6"/></linearGradient>
<rect x="13.30" y="254.40" width="19.50" height="1.15" fill="url(#lg1_2544)"/>
<linearGradient id="lg1_2554"><stop offset="0.00" stop-color="#fffefe"/><stop offset="0.12" stop-color="#fef4f4"/><stop offset="0.22" stop-color="#f6f6fe"/><stop offset="0.40" stop-color="#fcfcff"/><stop offset="0.70" stop-color="#fffbfb"/><stop offset="1.00" stop-color="#fffbfb"/></linearGradient>
<rect x="13.30" y="255.40" width="19.50" height="1.15" fill="url(#lg1_2554)"/>
<linearGradient id="lg1_2564"><stop offset="0.00" stop-color="#fffdfd"/><stop offset="0.12" stop-color="#fffefe"/><stop offset="0.22" stop-color="#fef9f9"/><stop offset="0.40" stop-color="#f7f7fe"/><stop offset="0.70" stop-color="#fffefe"/><stop offset="1.00" stop-color="#fffbfb"/></linearGradient>
<rect x="13.30" y="256.40" width="19.50" height="1.15" fill="url(#lg1_2564)"/>
<linearGradient id="lg1_2574"><stop offset="0.00" stop-color="#fef0f0"/><stop offset="0.12" stop-color="#fce5e5"/><stop offset="0.22" stop-color="#ffffff"/><stop offset="0.40" stop-color="#f4f4fe"/><stop offset="0.70" stop-color="#fcfcff"/><stop offset="1.00" stop-color="#f5f5fe"/></linearGradient>
<rect x="13.30" y="257.40" width="19.50" height="1.15" fill="url(#lg1_2574)"/>
<linearGradient id="lg1_2584"><stop offset="0.00" stop-color="#fdeeee"/><stop offset="0.12" stop-color="#fce2e2"/><stop offset="0.22" stop-color="#fffafa"/><stop offset="0.40" stop-color="#f8f8fe"/><stop offset="0.70" stop-color="#fefeff"/><stop offset="1.00" stop-color="#ededfd"/></linearGradient>
<rect x="13.30" y="258.40" width="19.50" height="1.15" fill="url(#lg1_2584)"/>
<linearGradient id="lg1_2594"><stop offset="0.00" stop-color="#fcdfdf"/><stop offset="0.12" stop-color="#fbd8d8"/><stop offset="0.22" stop-color="#fffafa"/><stop offset="0.40" stop-color="#f1f1fd"/><stop offset="0.70" stop-color="#eeeefd"/><stop offset="1.00" stop-color="#f2f2fd"/></linearGradient>
<rect x="13.30" y="259.40" width="19.50" height="1.15" fill="url(#lg1_2594)"/>
<linearGradient id="lg1_2604"><stop offset="0.00" stop-color="#facbcb"/><stop offset="0.12" stop-color="#fbdbdb"/><stop offset="0.22" stop-color="#fffefe"/><stop offset="0.40" stop-color="#f4f4fe"/><stop offset="0.70" stop-color="#f4f4fe"/><stop offset="1.00" stop-color="#f4f4fe"/></linearGradient>
<rect x="13.30" y="260.40" width="19.50" height="1.15" fill="url(#lg1_2604)"/>
<linearGradient id="lg1_2614"><stop offset="0.00" stop-color="#facbcb"/><stop offset="0.12" stop-color="#facfcf"/><stop offset="0.22" stop-color="#f6f6fe"/><stop offset="0.40" stop-color="#f1f1fd"/><stop offset="0.70" stop-color="#e2e2fb"/><stop offset="1.00" stop-color="#e6e6fc"/></linearGradient>
<rect x="13.30" y="261.40" width="19.50" height="1.15" fill="url(#lg1_2614)"/>
<linearGradient id="lg1_2624"><stop offset="0.00" stop-color="#f9c1c1"/><stop offset="0.12" stop-color="#fac8c8"/><stop offset="0.22" stop-color="#eeeefd"/><stop offset="0.40" stop-color="#e8e8fc"/><stop offset="0.70" stop-color="#e2e2fb"/><stop offset="1.00" stop-color="#f1f1fd"/></linearGradient>
<rect x="13.30" y="262.40" width="19.50" height="1.15" fill="url(#lg1_2624)"/>
<linearGradient id="lg1_2634"><stop offset="0.00" stop-color="#f6a8a8"/><stop offset="0.12" stop-color="#f8b9b9"/><stop offset="0.22" stop-color="#eeeefd"/><stop offset="0.40" stop-color="#dbdbfb"/><stop offset="0.70" stop-color="#e1e1fb"/><stop offset="1.00" stop-color="#e7e7fc"/></linearGradient>
<rect x="13.30" y="263.40" width="19.50" height="1.15" fill="url(#lg1_2634)"/>
<linearGradient id="lg1_2644"><stop offset="0.00" stop-color="#f8baba"/><stop offset="0.12" stop-color="#f8bbbb"/><stop offset="0.22" stop-color="#f9f9fe"/><stop offset="0.40" stop-color="#e8e8fc"/><stop offset="0.70" stop-color="#e8e8fc"/><stop offset="1.00" stop-color="#ececfd"/></linearGradient>
<rect x="13.30" y="264.40" width="19.50" height="1.15" fill="url(#lg1_2644)"/>
<linearGradient id="lg1_2654"><stop offset="0.00" stop-color="#f7aeae"/><stop offset="0.12" stop-color="#f6a6a6"/><stop offset="0.22" stop-color="#f1f1fd"/><stop offset="0.40" stop-color="#e1e1fb"/><stop offset="0.70" stop-color="#dbdbfb"/><stop offset="1.00" stop-color="#e4e4fc"/></linearGradient>
<rect x="13.30" y="265.40" width="19.50" height="1.15" fill="url(#lg1_2654)"/>
<linearGradient id="lg1_2664"><stop offset="0.00" stop-color="#f8b6b6"/><stop offset="0.12" stop-color="#f8baba"/><stop offset="0.22" stop-color="#efeffd"/><stop offset="0.40" stop-color="#ebebfc"/><stop offset="0.70" stop-color="#e3e3fb"/><stop offset="1.00" stop-color="#e0e0fb"/></linearGradient>
<rect x="13.30" y="266.40" width="19.50" height="1.15" fill="url(#lg1_2664)"/>
<linearGradient id="lg1_2674"><stop offset="0.00" stop-color="#f59a9a"/><stop offset="0.12" stop-color="#f6a8a8"/><stop offset="0.22" stop-color="#efeffd"/><stop offset="0.40" stop-color="#e4e4fc"/><stop offset="0.70" stop-color="#dfdffb"/><stop offset="1.00" stop-color="#e8e8fc"/></linearGradient>
<rect x="13.30" y="267.40" width="19.50" height="1.15" fill="url(#lg1_2674)"/>
<linearGradient id="lg1_2684"><stop offset="0.00" stop-color="#f7aaaa"/><stop offset="0.12" stop-color="#f6a9a9"/><stop offset="0.22" stop-color="#fbfbff"/><stop offset="0.40" stop-color="#e9e9fc"/><stop offset="0.70" stop-color="#d6d6fa"/><stop offset="1.00" stop-color="#ddddfb"/></linearGradient>
<rect x="13.30" y="268.40" width="19.50" height="1.15" fill="url(#lg1_2684)"/>
<linearGradient id="lg1_2694"><stop offset="0.00" stop-color="#f6a9a9"/><stop offset="0.12" stop-color="#f6a0a0"/><stop offset="0.22" stop-color="#f6f6fe"/><stop offset="0.40" stop-color="#e7e7fc"/><stop offset="0.70" stop-color="#dadafa"/><stop offset="1.00" stop-color="#e6e6fc"/></linearGradient>
<rect x="13.30" y="269.40" width="19.50" height="1.15" fill="url(#lg1_2694)"/>
<linearGradient id="lg1_2704"><stop offset="0.00" stop-color="#f49393"/><stop offset="0.12" stop-color="#f49090"/><stop offset="0.22" stop-color="#fafafe"/><stop offset="0.40" stop-color="#cfcff9"/><stop offset="0.70" stop-color="#d6d6fa"/><stop offset="1.00" stop-color="#d9d9fa"/></linearGradient>
<rect x="13.30" y="270.40" width="19.50" height="1.15" fill="url(#lg1_2704)"/>
<linearGradient id="lg1_2714"><stop offset="0.00" stop-color="#f59797"/><stop offset="0.12" stop-color="#f6a1a1"/><stop offset="0.22" stop-color="#ededfd"/><stop offset="0.40" stop-color="#d4d4fa"/><stop offset="0.70" stop-color="#d9d9fa"/><stop offset="1.00" stop-color="#dcdcfb"/></linearGradient>
<rect x="13.30" y="271.40" width="19.50" height="1.15" fill="url(#lg1_2714)"/>
<linearGradient id="lg1_2724"><stop offset="0.00" stop-color="#f59999"/><stop offset="0.12" stop-color="#f59a9a"/><stop offset="0.22" stop-color="#f5f5fe"/><stop offset="0.40" stop-color="#d2d2f9"/><stop offset="0.70" stop-color="#d1d1f9"/><stop offset="1.00" stop-color="#d2d2f9"/></linearGradient>
<rect x="13.30" y="272.40" width="19.50" height="1.15" fill="url(#lg1_2724)"/>
<linearGradient id="lg1_2734"><stop offset="0.00" stop-color="#f06e6e"/><stop offset="0.12" stop-color="#f27f7f"/><stop offset="0.22" stop-color="#e6e6fc"/><stop offset="0.40" stop-color="#cacaf8"/><stop offset="0.70" stop-color="#c9c9f8"/><stop offset="1.00" stop-color="#cecef9"/></linearGradient>
<rect x="13.30" y="273.40" width="19.50" height="1.15" fill="url(#lg1_2734)"/>
<linearGradient id="lg1_2744"><stop offset="0.00" stop-color="#f59b9b"/><stop offset="0.12" stop-color="#f59797"/><stop offset="0.22" stop-color="#f1f1fd"/><stop offset="0.40" stop-color="#d5d5fa"/><stop offset="0.70" stop-color="#d3d3fa"/><stop offset="1.00" stop-color="#e2e2fb"/></linearGradient>
<rect x="13.30" y="274.40" width="19.50" height="1.15" fill="url(#lg1_2744)"/>
<linearGradient id="lg1_2754"><stop offset="0.00" stop-color="#f38888"/><stop offset="0.12" stop-color="#f49292"/><stop offset="0.22" stop-color="#efeffd"/><stop offset="0.40" stop-color="#dcdcfb"/><stop offset="0.70" stop-color="#dcdcfb"/><stop offset="1.00" stop-color="#d2d2f9"/></linearGradient>
<rect x="13.30" y="275.40" width="19.50" height="1.15" fill="url(#lg1_2754)"/>
<linearGradient id="lg1_2764"><stop offset="0.00" stop-color="#f38b8b"/><stop offset="0.12" stop-color="#f59b9b"/><stop offset="0.22" stop-color="#e8e8fc"/><stop offset="0.40" stop-color="#dfdffb"/><stop offset="0.70" stop-color="#d3d3fa"/><stop offset="1.00" stop-color="#ddddfb"/></linearGradient>
<rect x="13.30" y="276.40" width="19.50" height="1.15" fill="url(#lg1_2764)"/>
<linearGradient id="lg1_2774"><stop offset="0.00" stop-color="#f27d7d"/><stop offset="0.12" stop-color="#f38b8b"/><stop offset="0.22" stop-color="#eaeafc"/><stop offset="0.40" stop-color="#cacaf8"/><stop offset="0.70" stop-color="#d1d1f9"/><stop offset="1.00" stop-color="#d6d6fa"/></linearGradient>
<rect x="13.30" y="277.40" width="19.50" height="1.15" fill="url(#lg1_2774)"/>
<linearGradient id="lg1_2784"><stop offset="0.00" stop-color="#f17070"/><stop offset="0.12" stop-color="#f16f6f"/><stop offset="0.22" stop-color="#ebebfc"/><stop offset="0.40" stop-color="#cacaf8"/><stop offset="0.70" stop-color="#bfbff7"/><stop offset="1.00" stop-color="#c5c5f8"/></linearGradient>
<rect x="13.30" y="278.40" width="19.50" height="1.15" fill="url(#lg1_2784)"/>
<linearGradient id="lg1_2794"><stop offset="0.00" stop-color="#f17676"/><stop offset="0.12" stop-color="#f38c8c"/><stop offset="0.22" stop-color="#efeffd"/><stop offset="0.40" stop-color="#d7d7fa"/><stop offset="0.70" stop-color="#d7d7fa"/><stop offset="1.00" stop-color="#cbcbf9"/></linearGradient>
<rect x="13.30" y="279.40" width="19.50" height="1.15" fill="url(#lg1_2794)"/>
<linearGradient id="lg1_2804"><stop offset="0.00" stop-color="#f38b8b"/><stop offset="0.12" stop-color="#f49090"/><stop offset="0.22" stop-color="#f2f2fd"/><stop offset="0.40" stop-color="#d0d0f9"/><stop offset="0.70" stop-color="#dedefb"/><stop offset="1.00" stop-color="#d6d6fa"/></linearGradient>
<rect x="13.30" y="280.40" width="19.50" height="1.15" fill="url(#lg1_2804)"/>
<linearGradient id="lg1_2814"><stop offset="0.00" stop-color="#f06969"/><stop offset="0.12" stop-color="#f06b6b"/><stop offset="0.22" stop-color="#e7e7fc"/><stop offset="0.40" stop-color="#cfcff9"/><stop offset="0.70" stop-color="#c1c1f7"/><stop offset="1.00" stop-color="#c8c8f8"/></linearGradient>
<rect x="13.30" y="281.40" width="19.50" height="1.15" fill="url(#lg1_2814)"/>
<linearGradient id="lg1_2824"><stop offset="0.00" stop-color="#f06969"/><stop offset="0.12" stop-color="#f27a7a"/><stop offset="0.22" stop-color="#e8e8fc"/><stop offset="0.40" stop-color="#c9c9f8"/><stop offset="0.70" stop-color="#c8c8f8"/><stop offset="1.00" stop-color="#c9c9f8"/></linearGradient>
<rect x="13.30" y="282.40" width="19.50" height="1.15" fill="url(#lg1_2824)"/>
<linearGradient id="lg1_2834"><stop offset="0.00" stop-color="#f59898"/><stop offset="0.12" stop-color="#f49595"/><stop offset="0.22" stop-color="#fafafe"/><stop offset="0.40" stop-color="#d0d0f9"/><stop offset="0.70" stop-color="#d7d7fa"/><stop offset="1.00" stop-color="#dedefb"/></linearGradient>
<rect x="13.30" y="283.40" width="19.50" height="1.15" fill="url(#lg1_2834)"/>
<linearGradient id="lg1_2844"><stop offset="0.00" stop-color="#f49292"/><stop offset="0.12" stop-color="#f6a4a4"/><stop offset="0.22" stop-color="#f5f5fe"/><stop offset="0.40" stop-color="#dbdbfb"/><stop offset="0.70" stop-color="#dadafa"/><stop offset="1.00" stop-color="#d7d7fa"/></linearGradient>
<rect x="13.30" y="284.40" width="19.50" height="1.15" fill="url(#lg1_2844)"/>
<linearGradient id="lg1_2854"><stop offset="0.00" stop-color="#f28282"/><stop offset="0.12" stop-color="#f38b8b"/><stop offset="0.22" stop-color="#f3f3fe"/><stop offset="0.40" stop-color="#d2d2f9"/><stop offset="0.70" stop-color="#cfcff9"/><stop offset="1.00" stop-color="#cacaf8"/></linearGradient>
<rect x="13.30" y="285.40" width="19.50" height="1.15" fill="url(#lg1_2854)"/>
<linearGradient id="lg1_2864"><stop offset="0.00" stop-color="#f27979"/><stop offset="0.12" stop-color="#f38585"/><stop offset="0.22" stop-color="#f4f4fe"/><stop offset="0.40" stop-color="#d4d4fa"/><stop offset="0.70" stop-color="#cbcbf9"/><stop offset="1.00" stop-color="#c9c9f8"/></linearGradient>
<rect x="13.30" y="286.40" width="19.50" height="1.15" fill="url(#lg1_2864)"/>
<linearGradient id="lg2_2874"><stop offset="0.00" stop-color="#ffffff"/><stop offset="0.16" stop-color="#ffffff"/><stop offset="0.24" stop-color="#8181ef"/><stop offset="0.32" stop-color="#ffffff"/><stop offset="0.55" stop-color="#fef2f2"/><stop offset="0.75" stop-color="#fce0e0"/><stop offset="1.00" stop-color="#fef7f7"/></linearGradient>
<rect x="13.30" y="287.40" width="19.50" height="1.15" fill="url(#lg2_2874)"/>
<linearGradient id="lg2_2884"><stop offset="0.00" stop-color="#fefeff"/><stop offset="0.16" stop-color="#fef4f4"/><stop offset="0.24" stop-color="#8585f0"/><stop offset="0.32" stop-color="#fef8f8"/><stop offset="0.55" stop-color="#fef9f9"/><stop offset="0.75" stop-color="#fce0e0"/><stop offset="1.00" stop-color="#fef0f0"/></linearGradient>
<rect x="13.30" y="288.40" width="19.50" height="1.15" fill="url(#lg2_2884)"/>
<linearGradient id="lg2_2894"><stop offset="0.00" stop-color="#fffefe"/><stop offset="0.16" stop-color="#fef1f1"/><stop offset="0.24" stop-color="#8080ef"/><stop offset="0.32" stop-color="#fef3f3"/><stop offset="0.55" stop-color="#fdeaea"/><stop offset="0.75" stop-color="#fce3e3"/><stop offset="1.00" stop-color="#fce4e4"/></linearGradient>
<rect x="13.30" y="289.40" width="19.50" height="1.15" fill="url(#lg2_2894)"/>
<linearGradient id="lg2_2904"><stop offset="0.00" stop-color="#fef1f1"/><stop offset="0.16" stop-color="#fef1f1"/><stop offset="0.24" stop-color="#8b8bf1"/><stop offset="0.32" stop-color="#fef4f4"/><stop offset="0.55" stop-color="#fdebeb"/><stop offset="0.75" stop-color="#fdecec"/><stop offset="1.00" stop-color="#fef3f3"/></linearGradient>
<rect x="13.30" y="290.40" width="19.50" height="1.15" fill="url(#lg2_2904)"/>
<linearGradient id="lg2_2914"><stop offset="0.00" stop-color="#ffffff"/><stop offset="0.16" stop-color="#fef2f2"/><stop offset="0.24" stop-color="#8888f0"/><stop offset="0.32" stop-color="#fef3f3"/><stop offset="0.55" stop-color="#fef9f9"/><stop offset="0.75" stop-color="#fce3e3"/><stop offset="1.00" stop-color="#fde8e8"/></linearGradient>
<rect x="13.30" y="291.40" width="19.50" height="1.15" fill="url(#lg2_2914)"/>
<linearGradient id="lg2_2924"><stop offset="0.00" stop-color="#ffffff"/><stop offset="0.16" stop-color="#fffafa"/><stop offset="0.24" stop-color="#a5a5f4"/><stop offset="0.32" stop-color="#fbfbff"/><stop offset="0.55" stop-color="#fffbfb"/><stop offset="0.75" stop-color="#fef0f0"/><stop offset="1.00" stop-color="#fdecec"/></linearGradient>
<rect x="13.30" y="292.40" width="19.50" height="1.15" fill="url(#lg2_2924)"/>
<linearGradient id="lg2_2934"><stop offset="0.00" stop-color="#fef2f2"/><stop offset="0.16" stop-color="#ffffff"/><stop offset="0.24" stop-color="#a1a1f3"/><stop offset="0.32" stop-color="#fdfdff"/><stop offset="0.55" stop-color="#fef3f3"/><stop offset="0.75" stop-color="#fce4e4"/><stop offset="1.00" stop-color="#fef4f4"/></linearGradient>
<rect x="13.30" y="293.40" width="19.50" height="1.15" fill="url(#lg2_2934)"/>
<linearGradient id="lg2_2944"><stop offset="0.00" stop-color="#fef8f8"/><stop offset="0.16" stop-color="#fef8f8"/><stop offset="0.24" stop-color="#a2a2f3"/><stop offset="0.32" stop-color="#fdfdff"/><stop offset="0.55" stop-color="#fdebeb"/><stop offset="0.75" stop-color="#fce4e4"/><stop offset="1.00" stop-color="#fef4f4"/></linearGradient>
<rect x="13.30" y="294.40" width="19.50" height="1.15" fill="url(#lg2_2944)"/>
<linearGradient id="lg2_2954"><stop offset="0.00" stop-color="#fffefe"/><stop offset="0.16" stop-color="#fef1f1"/><stop offset="0.24" stop-color="#a5a5f4"/><stop offset="0.32" stop-color="#fffcfc"/><stop offset="0.55" stop-color="#fef0f0"/><stop offset="0.75" stop-color="#fdeaea"/><stop offset="1.00" stop-color="#fef9f9"/></linearGradient>
<rect x="13.30" y="295.40" width="19.50" height="1.15" fill="url(#lg2_2954)"/>
<linearGradient id="lg2_2964"><stop offset="0.00" stop-color="#fbfbff"/><stop offset="0.16" stop-color="#fef5f5"/><stop offset="0.24" stop-color="#a7a7f4"/><stop offset="0.32" stop-color="#fef8f8"/><stop offset="0.55" stop-color="#fdeded"/><stop offset="0.75" stop-color="#fde9e9"/><stop offset="1.00" stop-color="#fef1f1"/></linearGradient>
<rect x="13.30" y="296.40" width="19.50" height="1.15" fill="url(#lg2_2964)"/>
<linearGradient id="lg2_2974"><stop offset="0.00" stop-color="#f9f9fe"/><stop offset="0.16" stop-color="#fafafe"/><stop offset="0.24" stop-color="#b8b8f6"/><stop offset="0.32" stop-color="#fef9f9"/><stop offset="0.55" stop-color="#fef9f9"/><stop offset="0.75" stop-color="#fdefef"/><stop offset="1.00" stop-color="#fdefef"/></linearGradient>
<rect x="13.30" y="297.40" width="19.50" height="1.15" fill="url(#lg2_2974)"/>
<linearGradient id="lg2_2984"><stop offset="0.00" stop-color="#f7f7fe"/><stop offset="0.16" stop-color="#ffffff"/><stop offset="0.24" stop-color="#fbd4d4"/><stop offset="0.32" stop-color="#f2f2fd"/><stop offset="0.55" stop-color="#f6f6fe"/><stop offset="0.75" stop-color="#e9e9fc"/><stop offset="1.00" stop-color="#f5f5fe"/></linearGradient>
<rect x="13.30" y="298.40" width="19.50" height="1.15" fill="url(#lg2_2984)"/>
<linearGradient id="lg2_2994"><stop offset="0.00" stop-color="#fdfdff"/><stop offset="0.16" stop-color="#fdfdff"/><stop offset="0.24" stop-color="#facaca"/><stop offset="0.32" stop-color="#fefeff"/><stop offset="0.55" stop-color="#f7f7fe"/><stop offset="0.75" stop-color="#e8e8fc"/><stop offset="1.00" stop-color="#ffffff"/></linearGradient>
<rect x="13.30" y="299.40" width="19.50" height="1.15" fill="url(#lg2_2994)"/>
<linearGradient id="lg2_3004"><stop offset="0.00" stop-color="#f4f4fe"/><stop offset="0.16" stop-color="#f3f3fe"/><stop offset="0.24" stop-color="#f8bdbd"/><stop offset="0.32" stop-color="#fffcfc"/><stop offset="0.55" stop-color="#fcfcff"/><stop offset="0.75" stop-color="#ececfd"/><stop offset="1.00" stop-color="#f1f1fd"/></linearGradient>
<rect x="13.30" y="300.40" width="19.50" height="1.15" fill="url(#lg2_3004)"/>
<linearGradient id="lg2_3014"><stop offset="0.00" stop-color="#fefeff"/><stop offset="0.16" stop-color="#fcfcff"/><stop offset="0.24" stop-color="#f9c5c5"/><stop offset="0.32" stop-color="#fefeff"/><stop offset="0.55" stop-color="#f6f6fe"/><stop offset="0.75" stop-color="#f7f7fe"/><stop offset="1.00" stop-color="#fafafe"/></linearGradient>
<rect x="13.30" y="301.40" width="19.50" height="1.15" fill="url(#lg2_3014)"/>
<linearGradient id="lg2_3024"><stop offset="0.00" stop-color="#fffcfc"/><stop offset="0.16" stop-color="#f2f2fd"/><stop offset="0.24" stop-color="#f8b5b5"/><stop offset="0.32" stop-color="#f9f9fe"/><stop offset="0.55" stop-color="#f1f1fd"/><stop offset="0.75" stop-color="#e2e2fb"/><stop offset="1.00" stop-color="#f9f9fe"/></linearGradient>
<rect x="13.30" y="302.40" width="19.50" height="1.15" fill="url(#lg2_3024)"/>
<linearGradient id="lg2_3034"><stop offset="0.00" stop-color="#fcfcff"/><stop offset="0.16" stop-color="#fffbfb"/><stop offset="0.24" stop-color="#f9c0c0"/><stop offset="0.32" stop-color="#f5f5fe"/><stop offset="0.55" stop-color="#f8f8fe"/><stop offset="0.75" stop-color="#ececfd"/><stop offset="1.00" stop-color="#f7f7fe"/></linearGradient>
<rect x="13.30" y="303.40" width="19.50" height="1.15" fill="url(#lg2_3034)"/>
<linearGradient id="lg2_3044"><stop offset="0.00" stop-color="#f2f2fd"/><stop offset="0.16" stop-color="#f5f5fe"/><stop offset="0.24" stop-color="#f59a9a"/><stop offset="0.32" stop-color="#f0f0fd"/><stop offset="0.55" stop-color="#f9f9fe"/><stop offset="0.75" stop-color="#e8e8fc"/><stop offset="1.00" stop-color="#f3f3fe"/></linearGradient>
<rect x="13.30" y="304.40" width="19.50" height="1.15" fill="url(#lg2_3044)"/>
<linearGradient id="lg2_3054"><stop offset="0.00" stop-color="#fffdfd"/><stop offset="0.16" stop-color="#ffffff"/><stop offset="0.24" stop-color="#f7b2b2"/><stop offset="0.32" stop-color="#ffffff"/><stop offset="0.55" stop-color="#f4f4fe"/><stop offset="0.75" stop-color="#e4e4fc"/><stop offset="1.00" stop-color="#ececfd"/></linearGradient>
<rect x="13.30" y="305.40" width="19.50" height="1.15" fill="url(#lg2_3054)"/>
<linearGradient id="lg2_3064"><stop offset="0.00" stop-color="#f0f0fd"/><stop offset="0.16" stop-color="#f6f6fe"/><stop offset="0.24" stop-color="#f59f9f"/><stop offset="0.32" stop-color="#fdfdff"/><stop offset="0.55" stop-color="#fafafe"/><stop offset="0.75" stop-color="#eaeafc"/><stop offset="1.00" stop-color="#ededfd"/></linearGradient>
<rect x="13.30" y="306.40" width="19.50" height="1.15" fill="url(#lg2_3064)"/>
<linearGradient id="lg2_3074"><stop offset="0.00" stop-color="#f7f7fe"/><stop offset="0.16" stop-color="#fefeff"/><stop offset="0.24" stop-color="#f49090"/><stop offset="0.32" stop-color="#f4f4fe"/><stop offset="0.55" stop-color="#f4f4fe"/><stop offset="0.75" stop-color="#e9e9fc"/><stop offset="1.00" stop-color="#e9e9fc"/></linearGradient>
<rect x="13.30" y="307.40" width="19.50" height="1.15" fill="url(#lg2_3074)"/>
<linearGradient id="lg2_3084"><stop offset="0.00" stop-color="#ededfd"/><stop offset="0.16" stop-color="#f2f2fd"/><stop offset="0.24" stop-color="#f28080"/><stop offset="0.32" stop-color="#fbfbff"/><stop offset="0.55" stop-color="#f7f7fe"/><stop offset="0.75" stop-color="#dfdffb"/><stop offset="1.00" stop-color="#e8e8fc"/></linearGradient>
<rect x="13.30" y="308.40" width="19.50" height="1.15" fill="url(#lg2_3084)"/>
<linearGradient id="lg2_3094"><stop offset="0.00" stop-color="#f3f3fe"/><stop offset="0.16" stop-color="#f1f1fd"/><stop offset="0.24" stop-color="#f16e6e"/><stop offset="0.32" stop-color="#f9f9fe"/><stop offset="0.55" stop-color="#f1f1fd"/><stop offset="0.75" stop-color="#dcdcfb"/><stop offset="1.00" stop-color="#f3f3fe"/></linearGradient>
<rect x="13.30" y="309.40" width="19.50" height="1.15" fill="url(#lg2_3094)"/>
<linearGradient id="lg3_3104"><stop offset="0.00" stop-color="#fdebeb"/><stop offset="0.20" stop-color="#fcdfdf"/><stop offset="0.35" stop-color="#f9c0c0"/><stop offset="0.50" stop-color="#fbd6d6"/><stop offset="0.70" stop-color="#ededfd"/><stop offset="1.00" stop-color="#f9f9fe"/></linearGradient>
<rect x="13.30" y="310.40" width="19.50" height="1.15" fill="url(#lg3_3104)"/>
<linearGradient id="lg3_3114"><stop offset="0.00" stop-color="#fef7f7"/><stop offset="0.20" stop-color="#fce3e3"/><stop offset="0.35" stop-color="#fbd2d2"/><stop offset="0.50" stop-color="#fad0d0"/><stop offset="0.70" stop-color="#e3e3fc"/><stop offset="1.00" stop-color="#efeffd"/></linearGradient>
<rect x="13.30" y="311.40" width="19.50" height="1.15" fill="url(#lg3_3114)"/>
<linearGradient id="lg3_3124"><stop offset="0.00" stop-color="#fdebeb"/><stop offset="0.20" stop-color="#fdeaea"/><stop offset="0.35" stop-color="#fbd6d6"/><stop offset="0.50" stop-color="#fce4e4"/><stop offset="0.70" stop-color="#e3e3fc"/><stop offset="1.00" stop-color="#fcfcff"/></linearGradient>
<rect x="13.30" y="312.40" width="19.50" height="1.15" fill="url(#lg3_3124)"/>
<linearGradient id="lg3_3134"><stop offset="0.00" stop-color="#fdecec"/><stop offset="0.20" stop-color="#fcdddd"/><stop offset="0.35" stop-color="#facbcb"/><stop offset="0.50" stop-color="#fad0d0"/><stop offset="0.70" stop-color="#e4e4fc"/><stop offset="1.00" stop-color="#fdfdff"/></linearGradient>
<rect x="13.30" y="313.40" width="19.50" height="1.15" fill="url(#lg3_3134)"/>
<linearGradient id="lg3_3144"><stop offset="0.00" stop-color="#fde8e8"/><stop offset="0.20" stop-color="#fde6e6"/><stop offset="0.35" stop-color="#f8b8b8"/><stop offset="0.50" stop-color="#f9c7c7"/><stop offset="0.70" stop-color="#eeeefd"/><stop offset="1.00" stop-color="#efeffd"/></linearGradient>
<rect x="13.30" y="314.40" width="19.50" height="1.15" fill="url(#lg3_3144)"/>
<linearGradient id="lg3_3154"><stop offset="0.00" stop-color="#fefafa"/><stop offset="0.20" stop-color="#fdeeee"/><stop offset="0.35" stop-color="#f9c7c7"/><stop offset="0.50" stop-color="#fbd4d4"/><stop offset="0.70" stop-color="#eeeefd"/><stop offset="1.00" stop-color="#ffffff"/></linearGradient>
<rect x="13.30" y="315.40" width="19.50" height="1.15" fill="url(#lg3_3154)"/>
<linearGradient id="lg3_3164"><stop offset="0.00" stop-color="#fef4f4"/><stop offset="0.20" stop-color="#fde8e8"/><stop offset="0.35" stop-color="#facaca"/><stop offset="0.50" stop-color="#facdcd"/><stop offset="0.70" stop-color="#e1e1fb"/><stop offset="1.00" stop-color="#f4f4fe"/></linearGradient>
<rect x="13.30" y="316.40" width="19.50" height="1.15" fill="url(#lg3_3164)"/>
<linearGradient id="lg3_3174"><stop offset="0.00" stop-color="#fefafa"/><stop offset="0.20" stop-color="#fde8e8"/><stop offset="0.35" stop-color="#facccc"/><stop offset="0.50" stop-color="#fad2d2"/><stop offset="0.70" stop-color="#e6e6fc"/><stop offset="1.00" stop-color="#f4f4fe"/></linearGradient>
<rect x="13.30" y="317.40" width="19.50" height="1.15" fill="url(#lg3_3174)"/>
<linearGradient id="lg3_3184"><stop offset="0.00" stop-color="#fdeeee"/><stop offset="0.20" stop-color="#fbd7d7"/><stop offset="0.35" stop-color="#f8b9b9"/><stop offset="0.50" stop-color="#fbd4d4"/><stop offset="0.70" stop-color="#e2e2fb"/><stop offset="1.00" stop-color="#f5f5fe"/></linearGradient>
<rect x="13.30" y="318.40" width="19.50" height="1.15" fill="url(#lg3_3184)"/>
<linearGradient id="lg3_3194"><stop offset="0.00" stop-color="#fef2f2"/><stop offset="0.20" stop-color="#fbdcdc"/><stop offset="0.35" stop-color="#f9bfbf"/><stop offset="0.50" stop-color="#fbd4d4"/><stop offset="0.70" stop-color="#ededfd"/><stop offset="1.00" stop-color="#efeffd"/></linearGradient>
<rect x="13.30" y="319.40" width="19.50" height="1.15" fill="url(#lg3_3194)"/>
<linearGradient id="lg3_3204"><stop offset="0.00" stop-color="#e7e7fc"/><stop offset="0.20" stop-color="#d3d3f9"/><stop offset="0.35" stop-color="#b4b4f6"/><stop offset="0.50" stop-color="#d0d0f9"/><stop offset="0.70" stop-color="#fcdede"/><stop offset="1.00" stop-color="#fefeff"/></linearGradient>
<rect x="13.30" y="320.40" width="19.50" height="1.15" fill="url(#lg3_3204)"/>
<linearGradient id="lg3_3214"><stop offset="0.00" stop-color="#f0f0fd"/><stop offset="0.20" stop-color="#e6e6fc"/><stop offset="0.35" stop-color="#bcbcf7"/><stop offset="0.50" stop-color="#d1d1f9"/><stop offset="0.70" stop-color="#fdecec"/><stop offset="1.00" stop-color="#fef2f2"/></linearGradient>
<rect x="13.30" y="321.40" width="19.50" height="1.15" fill="url(#lg3_3214)"/>
<linearGradient id="lg3_3224"><stop offset="0.00" stop-color="#fafafe"/><stop offset="0.20" stop-color="#e0e0fb"/><stop offset="0.35" stop-color="#c3c3f7"/><stop offset="0.50" stop-color="#dadafa"/><stop offset="0.70" stop-color="#fdecec"/><stop offset="1.00" stop-color="#fefeff"/></linearGradient>
<rect x="13.30" y="322.40" width="19.50" height="1.15" fill="url(#lg3_3224)"/>
<linearGradient id="lg3_3234"><stop offset="0.00" stop-color="#e7e7fc"/><stop offset="0.20" stop-color="#e4e4fc"/><stop offset="0.35" stop-color="#c2c2f7"/><stop offset="0.50" stop-color="#d4d4fa"/><stop offset="0.70" stop-color="#fde6e6"/><stop offset="1.00" stop-color="#fffafa"/></linearGradient>
<rect x="13.30" y="323.40" width="19.50" height="1.15" fill="url(#lg3_3234)"/>
<linearGradient id="lg3_3244"><stop offset="0.00" stop-color="#eeeefd"/><stop offset="0.20" stop-color="#e9e9fc"/><stop offset="0.35" stop-color="#bdbdf7"/><stop offset="0.50" stop-color="#dbdbfa"/><stop offset="0.70" stop-color="#fef3f3"/><stop offset="1.00" stop-color="#fffdfd"/></linearGradient>
<rect x="13.30" y="324.40" width="19.50" height="1.15" fill="url(#lg3_3244)"/>
<linearGradient id="lg3_3254"><stop offset="0.00" stop-color="#f9f9fe"/><stop offset="0.20" stop-color="#e4e4fc"/><stop offset="0.35" stop-color="#c6c6f8"/><stop offset="0.50" stop-color="#ddddfb"/><stop offset="0.70" stop-color="#fef1f1"/><stop offset="1.00" stop-color="#fef9f9"/></linearGradient>
<rect x="13.30" y="325.40" width="19.50" height="1.15" fill="url(#lg3_3254)"/>
<linearGradient id="lg3_3264"><stop offset="0.00" stop-color="#f4f4fe"/><stop offset="0.20" stop-color="#e5e5fc"/><stop offset="0.35" stop-color="#c4c4f8"/><stop offset="0.50" stop-color="#cecef9"/><stop offset="0.70" stop-color="#fdecec"/><stop offset="1.00" stop-color="#fffefe"/></linearGradient>
<rect x="13.30" y="326.40" width="19.50" height="1.15" fill="url(#lg3_3264)"/>
<linearGradient id="lg3_3274"><stop offset="0.00" stop-color="#f1f1fd"/><stop offset="0.20" stop-color="#e1e1fb"/><stop offset="0.35" stop-color="#b3b3f6"/><stop offset="0.50" stop-color="#cacaf8"/><stop offset="0.70" stop-color="#fce2e2"/><stop offset="1.00" stop-color="#fef5f5"/></linearGradient>
<rect x="13.30" y="327.40" width="19.50" height="1.15" fill="url(#lg3_3274)"/>
<linearGradient id="lg3_3284"><stop offset="0.00" stop-color="#f1f1fd"/><stop offset="0.20" stop-color="#ededfd"/><stop offset="0.35" stop-color="#c7c7f8"/><stop offset="0.50" stop-color="#d3d3f9"/><stop offset="0.70" stop-color="#fef1f1"/><stop offset="1.00" stop-color="#fef5f5"/></linearGradient>
<rect x="13.30" y="328.40" width="19.50" height="1.15" fill="url(#lg3_3284)"/>
<linearGradient id="lg3_3294"><stop offset="0.00" stop-color="#e7e7fc"/><stop offset="0.20" stop-color="#d6d6fa"/><stop offset="0.35" stop-color="#b5b5f6"/><stop offset="0.50" stop-color="#c7c7f8"/><stop offset="0.70" stop-color="#fde6e6"/><stop offset="1.00" stop-color="#fffdfd"/></linearGradient>
<rect x="13.30" y="329.40" width="19.50" height="1.15" fill="url(#lg3_3294)"/>
<linearGradient id="lg3_3304"><stop offset="0.00" stop-color="#ebebfc"/><stop offset="0.20" stop-color="#ececfd"/><stop offset="0.35" stop-color="#cbcbf8"/><stop offset="0.50" stop-color="#cdcdf9"/><stop offset="0.70" stop-color="#fce3e3"/><stop offset="1.00" stop-color="#fefeff"/></linearGradient>
<rect x="13.30" y="330.40" width="19.50" height="1.15" fill="url(#lg3_3304)"/>
<linearGradient id="lg3_3314"><stop offset="0.00" stop-color="#fafafe"/><stop offset="0.20" stop-color="#e8e8fc"/><stop offset="0.35" stop-color="#cacaf8"/><stop offset="0.50" stop-color="#d2d2f9"/><stop offset="0.70" stop-color="#fef0f0"/><stop offset="1.00" stop-color="#fef6f6"/></linearGradient>
<rect x="13.30" y="331.40" width="19.50" height="0.45" fill="url(#lg3_3314)"/>
<rect x="36.60" y="156.50" width="11.00" height="1.10" fill="#d1d7f0"/>
<rect x="47.50" y="156.50" width="11.00" height="1.10" fill="#fdf6f6"/>
<rect x="58.40" y="156.50" width="11.00" height="1.10" fill="#efb0b2"/>
<rect x="69.30" y="156.50" width="11.00" height="1.10" fill="#de5c60"/>
<rect x="83.50" y="156.50" width="9.30" height="1.10" fill="#9c9c9c"/>
<rect x="36.60" y="157.50" width="11.00" height="1.10" fill="#aeb9e4"/>
<rect x="47.50" y="157.50" width="11.00" height="1.10" fill="#fef8f8"/>
<rect x="58.40" y="157.50" width="11.00" height="1.10" fill="#eeaaac"/>
<rect x="69.30" y="157.50" width="11.00" height="1.10" fill="#de5d61"/>
<rect x="83.50" y="157.50" width="9.30" height="1.10" fill="#c5c5c5"/>
<rect x="36.60" y="158.50" width="11.00" height="1.10" fill="#c9d0ed"/>
<rect x="47.50" y="158.50" width="11.00" height="1.10" fill="#eef1f9"/>
<rect x="58.40" y="158.50" width="11.00" height="1.10" fill="#eb9c9e"/>
<rect x="69.30" y="158.50" width="11.00" height="1.10" fill="#e68487"/>
<rect x="83.50" y="158.50" width="9.30" height="1.10" fill="#c0c0c0"/>
<rect x="36.60" y="159.50" width="11.00" height="1.10" fill="#eef0f9"/>
<rect x="47.50" y="159.50" width="11.00" height="1.10" fill="#f3f4fb"/>
<rect x="58.40" y="159.50" width="11.00" height="1.10" fill="#efaeb0"/>
<rect x="69.30" y="159.50" width="11.00" height="1.10" fill="#df6265"/>
<rect x="83.50" y="159.50" width="9.30" height="1.10" fill="#b9b9b9"/>
<rect x="36.60" y="160.50" width="11.00" height="1.10" fill="#c7cfec"/>
<rect x="58.40" y="160.50" width="11.00" height="1.10" fill="#f7d9da"/>
<rect x="69.30" y="160.50" width="11.00" height="1.10" fill="#e06468"/>
<rect x="83.50" y="160.50" width="9.30" height="1.10" fill="#9a9a9a"/>
<rect x="36.60" y="161.50" width="11.00" height="1.10" fill="#a7b2e2"/>
<rect x="47.50" y="161.50" width="11.00" height="1.10" fill="#fdf6f6"/>
<rect x="58.40" y="161.50" width="11.00" height="1.10" fill="#eeaaac"/>
<rect x="69.30" y="161.50" width="11.00" height="1.10" fill="#e99497"/>
<rect x="83.50" y="161.50" width="9.30" height="1.10" fill="#bababa"/>
<rect x="36.60" y="162.50" width="11.00" height="1.10" fill="#e8ebf7"/>
<rect x="47.50" y="162.50" width="11.00" height="1.10" fill="#f4c9ca"/>
<rect x="58.40" y="162.50" width="11.00" height="1.10" fill="#f9e3e4"/>
<rect x="69.30" y="162.50" width="11.00" height="1.10" fill="#e06569"/>
<rect x="83.50" y="162.50" width="9.30" height="1.10" fill="#ababab"/>
<rect x="36.60" y="163.50" width="11.00" height="1.10" fill="#eef0f9"/>
<rect x="58.40" y="163.50" width="11.00" height="1.10" fill="#e88c8f"/>
<rect x="69.30" y="163.50" width="11.00" height="1.10" fill="#fbebeb"/>
<rect x="83.50" y="163.50" width="9.30" height="1.10" fill="#a0a0a0"/>
<rect x="36.60" y="164.50" width="11.00" height="1.10" fill="#e1e5f5"/>
<rect x="47.50" y="164.50" width="11.00" height="1.10" fill="#f3c4c5"/>
<rect x="58.40" y="164.50" width="11.00" height="1.10" fill="#fbeaeb"/>
<rect x="69.30" y="164.50" width="11.00" height="1.10" fill="#e06569"/>
<rect x="83.50" y="164.50" width="9.30" height="1.10" fill="#c2c2c2"/>
<rect x="36.60" y="165.50" width="11.00" height="1.10" fill="#f3f5fb"/>
<rect x="58.40" y="165.50" width="11.00" height="1.10" fill="#e06468"/>
<rect x="69.30" y="165.50" width="11.00" height="1.10" fill="#de5c60"/>
<rect x="83.50" y="165.50" width="9.30" height="1.10" fill="#d8d8d8"/>
<rect x="36.60" y="166.50" width="11.00" height="1.10" fill="#f0f2fa"/>
<rect x="47.50" y="166.50" width="11.00" height="1.10" fill="#fcf2f2"/>
<rect x="58.40" y="166.50" width="11.00" height="1.10" fill="#f9e2e3"/>
<rect x="69.30" y="166.50" width="11.00" height="1.10" fill="#e68286"/>
<rect x="83.50" y="166.50" width="9.30" height="1.10" fill="#e1e1e1"/>
<rect x="36.60" y="167.50" width="11.00" height="1.10" fill="#abb6e3"/>
<rect x="47.50" y="167.50" width="11.00" height="1.10" fill="#f9fafd"/>
<rect x="58.40" y="167.50" width="11.00" height="1.10" fill="#e68386"/>
<rect x="69.30" y="167.50" width="11.00" height="1.10" fill="#e37477"/>
<rect x="83.50" y="167.50" width="9.30" height="1.10" fill="#c3c3c3"/>
<rect x="36.60" y="168.50" width="11.00" height="1.10" fill="#eff1fa"/>
<rect x="47.50" y="168.50" width="11.00" height="1.10" fill="#fbeaeb"/>
<rect x="58.40" y="168.50" width="11.00" height="1.10" fill="#fae4e5"/>
<rect x="69.30" y="168.50" width="11.00" height="1.10" fill="#f8dfdf"/>
<rect x="83.50" y="168.50" width="9.30" height="1.10" fill="#d6d6d6"/>
<rect x="36.60" y="169.50" width="11.00" height="1.10" fill="#bbc4e8"/>
<rect x="47.50" y="169.50" width="11.00" height="1.10" fill="#f7d9da"/>
<rect x="58.40" y="169.50" width="11.00" height="1.10" fill="#e16c70"/>
<rect x="69.30" y="169.50" width="11.00" height="1.10" fill="#de5c60"/>
<rect x="83.50" y="169.50" width="9.30" height="1.10" fill="#e9e9e9"/>
<rect x="36.60" y="170.50" width="11.00" height="1.10" fill="#f3f5fb"/>
<rect x="47.50" y="170.50" width="11.00" height="1.10" fill="#e6e9f7"/>
<rect x="58.40" y="170.50" width="11.00" height="1.10" fill="#f0b6b7"/>
<rect x="69.30" y="170.50" width="11.00" height="1.10" fill="#e37578"/>
<rect x="83.50" y="170.50" width="9.30" height="1.10" fill="#e4e4e4"/>
<rect x="36.60" y="171.50" width="11.00" height="1.10" fill="#c4cceb"/>
<rect x="47.50" y="171.50" width="11.00" height="1.10" fill="#fdf5f5"/>
<rect x="58.40" y="171.50" width="11.00" height="1.10" fill="#ea989b"/>
<rect x="69.30" y="171.50" width="11.00" height="1.10" fill="#f9e3e4"/>
<rect x="83.50" y="171.50" width="9.30" height="1.10" fill="#e3e3e3"/>
<rect x="36.60" y="172.50" width="11.00" height="1.10" fill="#f4f5fb"/>
<rect x="47.50" y="172.50" width="11.00" height="1.10" fill="#fae4e5"/>
<rect x="58.40" y="172.50" width="11.00" height="1.10" fill="#eda4a6"/>
<rect x="69.30" y="172.50" width="11.00" height="1.10" fill="#ebeef8"/>
<rect x="83.50" y="172.50" width="9.30" height="1.10" fill="#b9b9b9"/>
<rect x="36.60" y="173.50" width="11.00" height="1.10" fill="#bfc8ea"/>
<rect x="47.50" y="173.50" width="11.00" height="1.10" fill="#fbecec"/>
<rect x="58.40" y="173.50" width="11.00" height="1.10" fill="#e37276"/>
<rect x="69.30" y="173.50" width="11.00" height="1.10" fill="#fcf1f1"/>
<rect x="83.50" y="173.50" width="9.30" height="1.10" fill="#e1e1e1"/>
<rect x="36.60" y="174.50" width="11.00" height="1.10" fill="#ebedf8"/>
<rect x="47.50" y="174.50" width="11.00" height="1.10" fill="#f8ddde"/>
<rect x="58.40" y="174.50" width="11.00" height="1.10" fill="#e4787b"/>
<rect x="83.50" y="174.50" width="9.30" height="1.10" fill="#ededed"/>
<rect x="36.60" y="175.50" width="11.00" height="1.10" fill="#aab6e3"/>
<rect x="47.50" y="175.50" width="11.00" height="1.10" fill="#f8dbdc"/>
<rect x="58.40" y="175.50" width="11.00" height="1.10" fill="#fae8e9"/>
<rect x="69.30" y="175.50" width="11.00" height="1.10" fill="#f0b4b6"/>
<rect x="83.50" y="175.50" width="9.30" height="1.10" fill="#d8d8d8"/>
<rect x="36.60" y="176.50" width="11.00" height="1.10" fill="#e8ebf7"/>
<rect x="47.50" y="176.50" width="11.00" height="1.10" fill="#fbeded"/>
<rect x="58.40" y="176.50" width="11.00" height="1.10" fill="#fae4e5"/>
<rect x="69.30" y="176.50" width="11.00" height="1.10" fill="#f6d1d2"/>
<rect x="83.50" y="176.50" width="9.30" height="1.10" fill="#bebebe"/>
<rect x="36.60" y="177.50" width="11.00" height="1.10" fill="#f6f7fc"/>
<rect x="58.40" y="177.50" width="11.00" height="1.10" fill="#f4c8ca"/>
<rect x="69.30" y="177.50" width="11.00" height="1.10" fill="#fae6e6"/>
<rect x="83.50" y="177.50" width="9.30" height="1.10" fill="#e9e9e9"/>
<rect x="36.60" y="178.50" width="11.00" height="1.10" fill="#e1e5f5"/>
<rect x="58.40" y="178.50" width="11.00" height="1.10" fill="#fae7e7"/>
<rect x="83.50" y="178.50" width="9.30" height="1.10" fill="#e9e9e9"/>
<rect x="36.60" y="179.50" width="11.00" height="1.10" fill="#f0f2fa"/>
<rect x="58.40" y="179.50" width="11.00" height="1.10" fill="#f6d1d2"/>
<rect x="69.30" y="179.50" width="11.00" height="1.10" fill="#dee2f4"/>
<rect x="83.50" y="179.50" width="9.30" height="1.10" fill="#f0f0f0"/>
<rect x="36.60" y="180.50" width="11.00" height="1.10" fill="#b1bbe5"/>
<rect x="47.50" y="180.50" width="11.00" height="1.10" fill="#fcefef"/>
<rect x="58.40" y="180.50" width="11.00" height="1.10" fill="#fae7e7"/>
<rect x="69.30" y="180.50" width="11.00" height="1.10" fill="#f5cccd"/>
<rect x="83.50" y="180.50" width="9.30" height="1.10" fill="#cecece"/>
<rect x="36.60" y="181.50" width="11.00" height="1.10" fill="#cfd6ef"/>
<rect x="47.50" y="181.50" width="11.00" height="1.10" fill="#f9e3e4"/>
<rect x="58.40" y="181.50" width="11.00" height="1.10" fill="#fceff0"/>
<rect x="69.30" y="181.50" width="11.00" height="1.10" fill="#fdf5f6"/>
<rect x="83.50" y="181.50" width="9.30" height="1.10" fill="#e6e6e6"/>
<rect x="36.60" y="182.50" width="11.00" height="1.10" fill="#e0e4f5"/>
<rect x="47.50" y="182.50" width="11.00" height="1.10" fill="#fefafa"/>
<rect x="58.40" y="182.50" width="11.00" height="1.10" fill="#fef9f9"/>
<rect x="83.50" y="182.50" width="9.30" height="1.10" fill="#cccccc"/>
<rect x="36.60" y="183.50" width="11.00" height="1.10" fill="#fcf2f2"/>
<rect x="47.50" y="183.50" width="11.00" height="1.10" fill="#f0b5b6"/>
<rect x="58.40" y="183.50" width="11.00" height="1.10" fill="#f7d7d8"/>
<rect x="69.30" y="183.50" width="11.00" height="1.10" fill="#fef8f8"/>
<rect x="83.50" y="183.50" width="9.30" height="1.10" fill="#ececec"/>
<rect x="36.60" y="184.50" width="11.00" height="1.10" fill="#f6d2d3"/>
<rect x="47.50" y="184.50" width="11.00" height="1.10" fill="#f7d8d9"/>
<rect x="58.40" y="184.50" width="11.00" height="1.10" fill="#f8dcdd"/>
<rect x="69.30" y="184.50" width="11.00" height="1.10" fill="#fcf2f2"/>
<rect x="83.50" y="184.50" width="9.30" height="1.10" fill="#e0e0e0"/>
<rect x="47.50" y="185.50" width="11.00" height="1.10" fill="#fae7e8"/>
<rect x="58.40" y="185.50" width="11.00" height="1.10" fill="#efb2b4"/>
<rect x="69.30" y="185.50" width="11.00" height="1.10" fill="#fef8f8"/>
<rect x="83.50" y="185.50" width="9.30" height="1.10" fill="#d9d9d9"/>
<rect x="36.60" y="186.50" width="11.00" height="1.10" fill="#f9e3e4"/>
<rect x="47.50" y="186.50" width="11.00" height="1.10" fill="#fbeded"/>
<rect x="58.40" y="186.50" width="11.00" height="1.10" fill="#fdf3f3"/>
<rect x="69.30" y="186.50" width="11.00" height="1.10" fill="#f5cccd"/>
<rect x="83.50" y="186.50" width="9.30" height="1.10" fill="#d2d2d2"/>
<rect x="36.60" y="187.50" width="11.00" height="1.10" fill="#e7eaf7"/>
<rect x="47.50" y="187.50" width="11.00" height="1.10" fill="#f4c8ca"/>
<rect x="69.30" y="187.50" width="11.00" height="1.10" fill="#f4c7c8"/>
<rect x="83.50" y="187.50" width="9.30" height="1.10" fill="#e5e5e5"/>
<rect x="36.60" y="188.50" width="11.00" height="1.10" fill="#f1babb"/>
<rect x="47.50" y="188.50" width="11.00" height="1.10" fill="#f4cbcc"/>
<rect x="58.40" y="188.50" width="11.00" height="1.10" fill="#fbeded"/>
<rect x="69.30" y="188.50" width="11.00" height="1.10" fill="#f3c6c7"/>
<rect x="83.50" y="188.50" width="9.30" height="1.10" fill="#e6e6e6"/>
<rect x="36.60" y="189.50" width="11.00" height="1.10" fill="#cfd5ef"/>
<rect x="47.50" y="189.50" width="11.00" height="1.10" fill="#f5cdcf"/>
<rect x="58.40" y="189.50" width="11.00" height="1.10" fill="#f5f7fc"/>
<rect x="83.50" y="189.50" width="9.30" height="1.10" fill="#cccccc"/>
<rect x="36.60" y="190.50" width="11.00" height="1.10" fill="#e1e5f5"/>
<rect x="47.50" y="190.50" width="11.00" height="1.10" fill="#f7d5d6"/>
<rect x="58.40" y="190.50" width="11.00" height="1.10" fill="#eda8aa"/>
<rect x="69.30" y="190.50" width="11.00" height="1.10" fill="#f7d9da"/>
<rect x="83.50" y="190.50" width="9.30" height="1.10" fill="#e5e5e5"/>
<rect x="36.60" y="191.50" width="11.00" height="1.10" fill="#f9e1e2"/>
<rect x="47.50" y="191.50" width="11.00" height="1.10" fill="#f0f2fa"/>
<rect x="58.40" y="191.50" width="11.00" height="1.10" fill="#f9e1e2"/>
<rect x="69.30" y="191.50" width="11.00" height="1.10" fill="#f8ddde"/>
<rect x="83.50" y="191.50" width="9.30" height="1.10" fill="#d5d5d5"/>
<rect x="36.60" y="192.50" width="11.00" height="1.10" fill="#fbeded"/>
<rect x="47.50" y="192.50" width="11.00" height="1.10" fill="#fcefef"/>
<rect x="69.30" y="192.50" width="11.00" height="1.10" fill="#f9e2e3"/>
<rect x="83.50" y="192.50" width="9.30" height="1.10" fill="#eeeeee"/>
<rect x="36.60" y="193.50" width="11.00" height="1.10" fill="#f6d4d5"/>
<rect x="47.50" y="193.50" width="11.00" height="1.10" fill="#fcf2f3"/>
<rect x="58.40" y="193.50" width="11.00" height="1.10" fill="#f1f3fa"/>
<rect x="83.50" y="193.50" width="9.30" height="1.10" fill="#e1e1e1"/>
<rect x="47.50" y="194.50" width="11.00" height="1.10" fill="#f7d6d7"/>
<rect x="58.40" y="194.50" width="11.00" height="1.10" fill="#fcf2f2"/>
<rect x="69.30" y="194.50" width="11.00" height="1.10" fill="#f5cbcd"/>
<rect x="83.50" y="194.50" width="9.30" height="1.10" fill="#cccccc"/>
<rect x="36.60" y="195.50" width="11.00" height="1.10" fill="#f7f8fc"/>
<rect x="47.50" y="195.50" width="11.00" height="1.10" fill="#f8ddde"/>
<rect x="58.40" y="195.50" width="11.00" height="1.10" fill="#f3c6c7"/>
<rect x="69.30" y="195.50" width="11.00" height="1.10" fill="#f4c7c9"/>
<rect x="83.50" y="195.50" width="9.30" height="1.10" fill="#cccccc"/>
<rect x="36.60" y="196.50" width="11.00" height="1.10" fill="#fbeaea"/>
<rect x="58.40" y="196.50" width="11.00" height="1.10" fill="#f6d5d6"/>
<rect x="83.50" y="196.50" width="9.30" height="1.10" fill="#efefef"/>
<rect x="47.50" y="197.50" width="11.00" height="1.10" fill="#fdf7f7"/>
<rect x="58.40" y="197.50" width="11.00" height="1.10" fill="#f6d3d4"/>
<rect x="69.30" y="197.50" width="11.00" height="1.10" fill="#f9e2e3"/>
<rect x="83.50" y="197.50" width="9.30" height="1.10" fill="#e0e0e0"/>
<rect x="36.60" y="198.50" width="11.00" height="1.10" fill="#fdf6f7"/>
<rect x="47.50" y="198.50" width="11.00" height="1.10" fill="#fbecec"/>
<rect x="58.40" y="198.50" width="11.00" height="1.10" fill="#fbe9ea"/>
<rect x="69.30" y="198.50" width="11.00" height="1.10" fill="#f0b7b8"/>
<rect x="83.50" y="198.50" width="9.30" height="1.10" fill="#e8e8e8"/>
<rect x="36.60" y="199.50" width="11.00" height="1.10" fill="#f3f4fb"/>
<rect x="58.40" y="199.50" width="11.00" height="1.10" fill="#f9e1e2"/>
<rect x="83.50" y="199.50" width="9.30" height="1.10" fill="#d7d7d7"/>
<rect x="36.60" y="200.50" width="11.00" height="1.10" fill="#f5cecf"/>
<rect x="58.40" y="200.50" width="11.00" height="1.10" fill="#f6d0d2"/>
<rect x="69.30" y="200.50" width="11.00" height="1.10" fill="#eef1f9"/>
<rect x="83.50" y="200.50" width="9.30" height="1.10" fill="#c0c0c0"/>
<rect x="36.60" y="201.50" width="11.00" height="1.10" fill="#fdf5f6"/>
<rect x="47.50" y="201.50" width="11.00" height="1.10" fill="#fdf6f6"/>
<rect x="58.40" y="201.50" width="11.00" height="1.10" fill="#f7dadb"/>
<rect x="83.50" y="201.50" width="9.30" height="1.10" fill="#d1d1d1"/>
<rect x="47.50" y="202.50" width="11.00" height="1.10" fill="#f6d5d6"/>
<rect x="58.40" y="202.50" width="11.00" height="1.10" fill="#fbebeb"/>
<rect x="69.30" y="202.50" width="11.00" height="1.10" fill="#fef8f8"/>
<rect x="83.50" y="202.50" width="9.30" height="1.10" fill="#f4f4f4"/>
<rect x="36.60" y="203.50" width="11.00" height="1.10" fill="#f5cccd"/>
<rect x="58.40" y="203.50" width="11.00" height="1.10" fill="#dee2f4"/>
<rect x="69.30" y="203.50" width="11.00" height="1.10" fill="#f9e2e3"/>
<rect x="83.50" y="203.50" width="9.30" height="1.10" fill="#e7e7e7"/>
<rect x="36.60" y="204.50" width="11.00" height="1.10" fill="#e6e9f7"/>
<rect x="47.50" y="204.50" width="11.00" height="1.10" fill="#f1bbbd"/>
<rect x="69.30" y="204.50" width="11.00" height="1.10" fill="#b9c2e8"/>
<rect x="83.50" y="204.50" width="9.30" height="1.10" fill="#c5c5c5"/>
<rect x="47.50" y="205.50" width="11.00" height="1.10" fill="#fcf2f2"/>
<rect x="69.30" y="205.50" width="11.00" height="1.10" fill="#97a5dc"/>
<rect x="83.50" y="205.50" width="9.30" height="1.10" fill="#dadada"/>
<rect x="36.60" y="206.50" width="11.00" height="1.10" fill="#fcf1f1"/>
<rect x="47.50" y="206.50" width="11.00" height="1.10" fill="#f0b4b6"/>
<rect x="58.40" y="206.50" width="11.00" height="1.10" fill="#e0e4f5"/>
<rect x="69.30" y="206.50" width="11.00" height="1.10" fill="#e6e9f7"/>
<rect x="83.50" y="206.50" width="9.30" height="1.10" fill="#d7d7d7"/>
<rect x="36.60" y="207.50" width="11.00" height="1.10" fill="#cbd2ee"/>
<rect x="47.50" y="207.50" width="11.00" height="1.10" fill="#eda6a9"/>
<rect x="58.40" y="207.50" width="11.00" height="1.10" fill="#fafafd"/>
<rect x="69.30" y="207.50" width="11.00" height="1.10" fill="#edeff9"/>
<rect x="83.50" y="207.50" width="9.30" height="1.10" fill="#ebebeb"/>
<rect x="36.60" y="208.50" width="11.00" height="1.10" fill="#fefafa"/>
<rect x="47.50" y="208.50" width="11.00" height="1.10" fill="#fae7e8"/>
<rect x="58.40" y="208.50" width="11.00" height="1.10" fill="#eaecf8"/>
<rect x="69.30" y="208.50" width="11.00" height="1.10" fill="#acb7e3"/>
<rect x="83.50" y="208.50" width="9.30" height="1.10" fill="#d4d4d4"/>
<rect x="36.60" y="209.50" width="11.00" height="1.10" fill="#fceeef"/>
<rect x="69.30" y="209.50" width="11.00" height="1.10" fill="#f4f5fb"/>
<rect x="83.50" y="209.50" width="9.30" height="1.10" fill="#b8b8b8"/>
<rect x="47.50" y="210.50" width="11.00" height="1.10" fill="#fae6e7"/>
<rect x="58.40" y="210.50" width="11.00" height="1.10" fill="#dce1f3"/>
<rect x="69.30" y="210.50" width="11.00" height="1.10" fill="#dfe3f4"/>
<rect x="83.50" y="210.50" width="9.30" height="1.10" fill="#cfcfcf"/>
<rect x="47.50" y="211.50" width="11.00" height="1.10" fill="#f5ced0"/>
<rect x="58.40" y="211.50" width="11.00" height="1.10" fill="#d0d6ef"/>
<rect x="69.30" y="211.50" width="11.00" height="1.10" fill="#d5daf1"/>
<rect x="83.50" y="211.50" width="9.30" height="1.10" fill="#cdcdcd"/>
<rect x="36.60" y="212.50" width="11.00" height="1.10" fill="#f8f9fd"/>
<rect x="47.50" y="212.50" width="11.00" height="1.10" fill="#fdf7f7"/>
<rect x="69.30" y="212.50" width="11.00" height="1.10" fill="#95a3dc"/>
<rect x="83.50" y="212.50" width="9.30" height="1.10" fill="#b4b4b4"/>
<rect x="47.50" y="213.50" width="11.00" height="1.10" fill="#f8dbdc"/>
<rect x="69.30" y="213.50" width="11.00" height="1.10" fill="#7c8dd3"/>
<rect x="83.50" y="213.50" width="9.30" height="1.10" fill="#dddddd"/>
<rect x="36.60" y="214.50" width="11.00" height="1.10" fill="#efb2b4"/>
<rect x="47.50" y="214.50" width="11.00" height="1.10" fill="#f6d1d3"/>
<rect x="58.40" y="214.50" width="11.00" height="1.10" fill="#c9d0ed"/>
<rect x="69.30" y="214.50" width="11.00" height="1.10" fill="#e9ecf8"/>
<rect x="83.50" y="214.50" width="9.30" height="1.10" fill="#f6f6f6"/>
<rect x="36.60" y="215.50" width="11.00" height="1.10" fill="#fdf8f8"/>
<rect x="47.50" y="215.50" width="11.00" height="1.10" fill="#f8dbdc"/>
<rect x="58.40" y="215.50" width="11.00" height="1.10" fill="#f4f5fb"/>
<rect x="69.30" y="215.50" width="11.00" height="1.10" fill="#eaedf8"/>
<rect x="83.50" y="215.50" width="9.30" height="1.10" fill="#b4b4b4"/>
<rect x="47.50" y="216.50" width="11.00" height="1.10" fill="#fbeded"/>
<rect x="58.40" y="216.50" width="11.00" height="1.10" fill="#f9fafd"/>
<rect x="69.30" y="216.50" width="11.00" height="1.10" fill="#a3afe0"/>
<rect x="83.50" y="216.50" width="9.30" height="1.10" fill="#9b9b9b"/>
<rect x="36.60" y="217.50" width="11.00" height="1.10" fill="#fdf3f3"/>
<rect x="47.50" y="217.50" width="11.00" height="1.10" fill="#f8dedf"/>
<rect x="69.30" y="217.50" width="11.00" height="1.10" fill="#f1f2fa"/>
<rect x="83.50" y="217.50" width="9.30" height="1.10" fill="#aaaaaa"/>
<rect x="36.60" y="218.50" width="11.00" height="1.10" fill="#ebedf8"/>
<rect x="47.50" y="218.50" width="11.00" height="1.10" fill="#f5cdce"/>
<rect x="58.40" y="218.50" width="11.00" height="1.10" fill="#fbebeb"/>
<rect x="69.30" y="218.50" width="11.00" height="1.10" fill="#e6e9f7"/>
<rect x="83.50" y="218.50" width="9.30" height="1.10" fill="#cbcbcb"/>
<rect x="36.60" y="219.50" width="11.00" height="1.10" fill="#f6d2d3"/>
<rect x="47.50" y="219.50" width="11.00" height="1.10" fill="#e0e5f5"/>
<rect x="58.40" y="219.50" width="11.00" height="1.10" fill="#fef8f8"/>
<rect x="69.30" y="219.50" width="11.00" height="1.10" fill="#b5bfe6"/>
<rect x="83.50" y="219.50" width="9.30" height="1.10" fill="#b7b7b7"/>
<rect x="47.50" y="220.50" width="11.00" height="1.10" fill="#f5cdce"/>
<rect x="58.40" y="220.50" width="11.00" height="1.10" fill="#f8f9fd"/>
<rect x="69.30" y="220.50" width="11.00" height="1.10" fill="#aab6e3"/>
<rect x="83.50" y="220.50" width="9.30" height="1.10" fill="#b7b7b7"/>
<rect x="36.60" y="221.50" width="11.00" height="1.10" fill="#f6d2d3"/>
<rect x="47.50" y="221.50" width="11.00" height="1.10" fill="#f8f9fd"/>
<rect x="58.40" y="221.50" width="11.00" height="1.10" fill="#dce1f3"/>
<rect x="69.30" y="221.50" width="11.00" height="1.10" fill="#e6e9f7"/>
<rect x="83.50" y="221.50" width="9.30" height="1.10" fill="#b7b7b7"/>
<rect x="36.60" y="222.50" width="11.00" height="1.00" fill="#fae7e7"/>
<rect x="47.50" y="222.50" width="11.00" height="1.00" fill="#f3c5c6"/>
<rect x="58.40" y="222.50" width="11.00" height="1.00" fill="#e3e7f6"/>
<rect x="69.30" y="222.50" width="11.00" height="1.00" fill="#7084d0"/>
<rect x="83.50" y="222.50" width="9.30" height="1.00" fill="#b1b1b1"/>
<rect x="36.60" y="223.40" width="11.00" height="1.10" fill="#a7b3e2"/>
<rect x="47.50" y="223.40" width="11.00" height="1.10" fill="#fae8e9"/>
<rect x="58.40" y="223.40" width="11.00" height="1.10" fill="#fae5e6"/>
<rect x="69.30" y="223.40" width="11.00" height="1.10" fill="#f9e0e1"/>
<rect x="83.50" y="223.40" width="9.30" height="1.10" fill="#999999"/>
<rect x="36.60" y="224.40" width="11.00" height="1.10" fill="#7c8dd3"/>
<rect x="47.50" y="224.40" width="11.00" height="1.10" fill="#f6d1d2"/>
<rect x="58.40" y="224.40" width="11.00" height="1.10" fill="#efaeb0"/>
<rect x="69.30" y="224.40" width="11.00" height="1.10" fill="#fefafa"/>
<rect x="83.50" y="224.40" width="9.30" height="1.10" fill="#aeaeae"/>
<rect x="36.60" y="225.40" width="11.00" height="1.10" fill="#e8ebf7"/>
<rect x="47.50" y="225.40" width="11.00" height="1.10" fill="#efafb1"/>
<rect x="58.40" y="225.40" width="11.00" height="1.10" fill="#fcefef"/>
<rect x="69.30" y="225.40" width="11.00" height="1.10" fill="#f6d2d3"/>
<rect x="83.50" y="225.40" width="9.30" height="1.10" fill="#b3b3b3"/>
<rect x="36.60" y="226.40" width="11.00" height="1.10" fill="#96a4dc"/>
<rect x="47.50" y="226.40" width="11.00" height="1.10" fill="#fceff0"/>
<rect x="58.40" y="226.40" width="11.00" height="1.10" fill="#fae8e8"/>
<rect x="83.50" y="226.40" width="9.30" height="1.10" fill="#adadad"/>
<rect x="36.60" y="227.40" width="11.00" height="1.10" fill="#eaecf8"/>
<rect x="47.50" y="227.40" width="11.00" height="1.10" fill="#f5cfd0"/>
<rect x="58.40" y="227.40" width="11.00" height="1.10" fill="#eda4a7"/>
<rect x="83.50" y="227.40" width="9.30" height="1.10" fill="#c4c4c4"/>
<rect x="36.60" y="228.40" width="11.00" height="1.10" fill="#b8c1e7"/>
<rect x="47.50" y="228.40" width="11.00" height="1.10" fill="#f9e0e1"/>
<rect x="58.40" y="228.40" width="11.00" height="1.10" fill="#eca1a4"/>
<rect x="69.30" y="228.40" width="11.00" height="1.10" fill="#f5f6fc"/>
<rect x="83.50" y="228.40" width="9.30" height="1.10" fill="#949494"/>
<rect x="36.60" y="229.40" width="11.00" height="1.10" fill="#aeb9e4"/>
<rect x="47.50" y="229.40" width="11.00" height="1.10" fill="#fae6e7"/>
<rect x="58.40" y="229.40" width="11.00" height="1.10" fill="#f2bdbf"/>
<rect x="69.30" y="229.40" width="11.00" height="1.10" fill="#fdf7f7"/>
<rect x="83.50" y="229.40" width="9.30" height="1.10" fill="#adadad"/>
<rect x="36.60" y="230.40" width="11.00" height="1.10" fill="#e0e4f5"/>
<rect x="47.50" y="230.40" width="11.00" height="1.10" fill="#f0b6b8"/>
<rect x="58.40" y="230.40" width="11.00" height="1.10" fill="#f2bdbf"/>
<rect x="69.30" y="230.40" width="11.00" height="1.10" fill="#fdf4f4"/>
<rect x="83.50" y="230.40" width="9.30" height="1.10" fill="#adadad"/>
<rect x="36.60" y="231.40" width="11.00" height="1.10" fill="#eceff9"/>
<rect x="47.50" y="231.40" width="11.00" height="1.10" fill="#eeacae"/>
<rect x="58.40" y="231.40" width="11.00" height="1.10" fill="#efaeb0"/>
<rect x="69.30" y="231.40" width="11.00" height="1.10" fill="#fcf0f1"/>
<rect x="83.50" y="231.40" width="9.30" height="1.10" fill="#f1f1f1"/>
<rect x="36.60" y="232.40" width="11.00" height="1.10" fill="#bbc4e8"/>
<rect x="47.50" y="232.40" width="11.00" height="1.10" fill="#f4c7c8"/>
<rect x="58.40" y="232.40" width="11.00" height="1.10" fill="#eb9b9d"/>
<rect x="69.30" y="232.40" width="11.00" height="1.10" fill="#fbeaeb"/>
<rect x="83.50" y="232.40" width="9.30" height="1.10" fill="#f4f4f4"/>
<rect x="36.60" y="233.40" width="11.00" height="1.10" fill="#697dcd"/>
<rect x="47.50" y="233.40" width="11.00" height="1.10" fill="#f7dadb"/>
<rect x="58.40" y="233.40" width="11.00" height="1.10" fill="#efaeb0"/>
<rect x="69.30" y="233.40" width="11.00" height="1.10" fill="#fafbfd"/>
<rect x="83.50" y="233.40" width="9.30" height="1.10" fill="#dbdbdb"/>
<rect x="36.60" y="234.40" width="11.00" height="1.10" fill="#e6eaf7"/>
<rect x="47.50" y="234.40" width="11.00" height="1.10" fill="#f9e0e1"/>
<rect x="58.40" y="234.40" width="11.00" height="1.10" fill="#f2c0c2"/>
<rect x="69.30" y="234.40" width="11.00" height="1.10" fill="#f7d6d7"/>
<rect x="83.50" y="234.40" width="9.30" height="1.10" fill="#f6f6f6"/>
<rect x="36.60" y="235.40" width="11.00" height="1.10" fill="#8999d8"/>
<rect x="47.50" y="235.40" width="11.00" height="1.10" fill="#f0b4b5"/>
<rect x="58.40" y="235.40" width="11.00" height="1.10" fill="#fdf5f5"/>
<rect x="69.30" y="235.40" width="11.00" height="1.10" fill="#fdf4f4"/>
<rect x="83.50" y="235.40" width="9.30" height="1.10" fill="#f6f6f6"/>
<rect x="36.60" y="236.40" width="11.00" height="1.10" fill="#9eabdf"/>
<rect x="47.50" y="236.40" width="11.00" height="1.10" fill="#f3c3c4"/>
<rect x="58.40" y="236.40" width="11.00" height="1.10" fill="#e57f82"/>
<rect x="69.30" y="236.40" width="11.00" height="1.10" fill="#ccd2ee"/>
<rect x="83.50" y="236.40" width="9.30" height="1.10" fill="#d3d3d3"/>
<rect x="36.60" y="237.40" width="11.00" height="1.10" fill="#e2e6f5"/>
<rect x="47.50" y="237.40" width="11.00" height="1.10" fill="#fcf0f1"/>
<rect x="58.40" y="237.40" width="11.00" height="1.10" fill="#f2bdbf"/>
<rect x="69.30" y="237.40" width="11.00" height="1.10" fill="#f8f9fd"/>
<rect x="83.50" y="237.40" width="9.30" height="1.10" fill="#aeaeae"/>
<rect x="36.60" y="238.40" width="11.00" height="1.10" fill="#b0bae5"/>
<rect x="47.50" y="238.40" width="11.00" height="1.10" fill="#fdf5f6"/>
<rect x="58.40" y="238.40" width="11.00" height="1.10" fill="#f0b5b7"/>
<rect x="69.30" y="238.40" width="11.00" height="1.10" fill="#f1b8ba"/>
<rect x="83.50" y="238.40" width="9.30" height="1.10" fill="#d5d5d5"/>
<rect x="36.60" y="239.40" width="11.00" height="1.10" fill="#98a5dd"/>
<rect x="47.50" y="239.40" width="11.00" height="1.10" fill="#f4c9ca"/>
<rect x="58.40" y="239.40" width="11.00" height="1.10" fill="#e57f82"/>
<rect x="69.30" y="239.40" width="11.00" height="1.10" fill="#fefafa"/>
<rect x="83.50" y="239.40" width="9.30" height="1.10" fill="#d3d3d3"/>
<rect x="36.60" y="240.40" width="11.00" height="1.10" fill="#eceff9"/>
<rect x="47.50" y="240.40" width="11.00" height="1.10" fill="#f1babc"/>
<rect x="58.40" y="240.40" width="11.00" height="1.10" fill="#e99295"/>
<rect x="83.50" y="240.40" width="9.30" height="1.10" fill="#cdcdcd"/>
<rect x="36.60" y="241.40" width="11.00" height="1.10" fill="#99a6dd"/>
<rect x="47.50" y="241.40" width="11.00" height="1.10" fill="#fae6e6"/>
<rect x="58.40" y="241.40" width="11.00" height="1.10" fill="#eda5a7"/>
<rect x="69.30" y="241.40" width="11.00" height="1.10" fill="#f8dedf"/>
<rect x="83.50" y="241.40" width="9.30" height="1.10" fill="#dbdbdb"/>
<rect x="36.60" y="242.40" width="11.00" height="1.10" fill="#a4b0e1"/>
<rect x="47.50" y="242.40" width="11.00" height="1.10" fill="#f1bcbd"/>
<rect x="58.40" y="242.40" width="11.00" height="1.10" fill="#e78689"/>
<rect x="83.50" y="242.40" width="9.30" height="1.10" fill="#cecece"/>
<rect x="36.60" y="243.40" width="11.00" height="1.10" fill="#b8c2e7"/>
<rect x="47.50" y="243.40" width="11.00" height="1.10" fill="#f6d5d6"/>
<rect x="58.40" y="243.40" width="11.00" height="1.10" fill="#efb0b2"/>
<rect x="69.30" y="243.40" width="11.00" height="1.10" fill="#f4c7c8"/>
<rect x="83.50" y="243.40" width="9.30" height="1.10" fill="#f5f5f5"/>
<rect x="36.60" y="244.40" width="11.00" height="1.10" fill="#e2e6f5"/>
<rect x="47.50" y="244.40" width="11.00" height="1.10" fill="#eda6a8"/>
<rect x="58.40" y="244.40" width="11.00" height="1.10" fill="#e88d90"/>
<rect x="83.50" y="244.40" width="9.30" height="1.10" fill="#d4d4d4"/>
<rect x="36.60" y="245.40" width="11.00" height="1.10" fill="#f1f2fa"/>
<rect x="47.50" y="245.40" width="11.00" height="1.10" fill="#e57e81"/>
<rect x="58.40" y="245.40" width="11.00" height="1.10" fill="#e78a8c"/>
<rect x="69.30" y="245.40" width="11.00" height="1.10" fill="#f6d4d5"/>
<rect x="83.50" y="245.40" width="9.30" height="1.10" fill="#c3c3c3"/>
<rect x="36.60" y="246.40" width="11.00" height="1.10" fill="#e7eaf7"/>
<rect x="47.50" y="246.40" width="11.00" height="1.10" fill="#fbecec"/>
<rect x="58.40" y="246.40" width="11.00" height="1.10" fill="#eca3a5"/>
<rect x="69.30" y="246.40" width="11.00" height="1.10" fill="#f9e3e4"/>
<rect x="83.50" y="246.40" width="9.30" height="1.10" fill="#d3d3d3"/>
<rect x="36.60" y="247.40" width="11.00" height="1.10" fill="#bcc5e9"/>
<rect x="47.50" y="247.40" width="11.00" height="1.10" fill="#fbeded"/>
<rect x="58.40" y="247.40" width="11.00" height="1.10" fill="#f6d5d6"/>
<rect x="69.30" y="247.40" width="11.00" height="1.10" fill="#fdf5f6"/>
<rect x="83.50" y="247.40" width="9.30" height="1.10" fill="#dbdbdb"/>
<rect x="36.60" y="248.40" width="11.00" height="1.10" fill="#dee3f4"/>
<rect x="47.50" y="248.40" width="11.00" height="1.10" fill="#e99194"/>
<rect x="58.40" y="248.40" width="11.00" height="1.10" fill="#f0b7b9"/>
<rect x="69.30" y="248.40" width="11.00" height="1.10" fill="#fefafa"/>
<rect x="83.50" y="248.40" width="9.30" height="1.10" fill="#ebebeb"/>
<rect x="36.60" y="249.40" width="11.00" height="1.10" fill="#c6ceec"/>
<rect x="47.50" y="249.40" width="11.00" height="1.10" fill="#fdf5f5"/>
<rect x="58.40" y="249.40" width="11.00" height="1.10" fill="#efb2b4"/>
<rect x="83.50" y="249.40" width="9.30" height="1.10" fill="#e2e2e2"/>
<rect x="36.60" y="250.40" width="11.00" height="1.10" fill="#a5b1e1"/>
<rect x="47.50" y="250.40" width="11.00" height="1.10" fill="#e99395"/>
<rect x="58.40" y="250.40" width="11.00" height="1.10" fill="#f1b9bb"/>
<rect x="83.50" y="250.40" width="9.30" height="1.10" fill="#d4d4d4"/>
<rect x="36.60" y="251.40" width="11.00" height="1.10" fill="#e6e9f7"/>
<rect x="47.50" y="251.40" width="11.00" height="1.10" fill="#eb9d9f"/>
<rect x="58.40" y="251.40" width="11.00" height="1.10" fill="#fbedee"/>
<rect x="69.30" y="251.40" width="11.00" height="1.10" fill="#fdf4f4"/>
<rect x="83.50" y="251.40" width="9.30" height="1.10" fill="#d9d9d9"/>
<rect x="36.60" y="252.40" width="11.00" height="1.10" fill="#fdf5f5"/>
<rect x="47.50" y="252.40" width="11.00" height="1.10" fill="#eca3a5"/>
<rect x="58.40" y="252.40" width="11.00" height="1.10" fill="#e47b7e"/>
<rect x="69.30" y="252.40" width="11.00" height="1.10" fill="#fafbfd"/>
<rect x="83.50" y="252.40" width="9.30" height="1.10" fill="#d2d2d2"/>
<rect x="36.60" y="253.40" width="11.00" height="1.10" fill="#f5cccd"/>
<rect x="47.50" y="253.40" width="11.00" height="1.10" fill="#f1babc"/>
<rect x="58.40" y="253.40" width="11.00" height="1.10" fill="#f3c6c7"/>
<rect x="69.30" y="253.40" width="11.00" height="1.10" fill="#fdf5f5"/>
<rect x="83.50" y="253.40" width="9.30" height="1.10" fill="#f1f1f1"/>
<rect x="47.50" y="254.40" width="11.00" height="1.10" fill="#f5cfd0"/>
<rect x="58.40" y="254.40" width="11.00" height="1.10" fill="#fbe9ea"/>
<rect x="69.30" y="254.40" width="11.00" height="1.10" fill="#fafafd"/>
<rect x="83.50" y="254.40" width="9.30" height="1.10" fill="#d3d3d3"/>
<rect x="47.50" y="255.40" width="11.00" height="1.10" fill="#f6d1d2"/>
<rect x="58.40" y="255.40" width="11.00" height="1.10" fill="#efafb1"/>
<rect x="69.30" y="255.40" width="11.00" height="1.10" fill="#fef8f8"/>
<rect x="83.50" y="255.40" width="9.30" height="1.10" fill="#ebebeb"/>
<rect x="36.60" y="256.40" width="11.00" height="1.10" fill="#e5e8f6"/>
<rect x="47.50" y="256.40" width="11.00" height="1.10" fill="#fdf6f6"/>
<rect x="58.40" y="256.40" width="11.00" height="1.10" fill="#f9e2e3"/>
<rect x="69.30" y="256.40" width="11.00" height="1.10" fill="#fafbfd"/>
<rect x="83.50" y="256.40" width="9.30" height="1.10" fill="#f1f1f1"/>
<rect x="36.60" y="257.40" width="11.00" height="1.10" fill="#fdf7f8"/>
<rect x="47.50" y="257.40" width="11.00" height="1.10" fill="#fae5e5"/>
<rect x="58.40" y="257.40" width="11.00" height="1.10" fill="#e99497"/>
<rect x="69.30" y="257.40" width="11.00" height="1.10" fill="#fbebec"/>
<rect x="83.50" y="257.40" width="9.30" height="1.10" fill="#eaeaea"/>
<rect x="47.50" y="258.40" width="11.00" height="1.10" fill="#f8f9fd"/>
<rect x="58.40" y="258.40" width="11.00" height="1.10" fill="#e7888b"/>
<rect x="69.30" y="258.40" width="11.00" height="1.10" fill="#fdf4f5"/>
<rect x="83.50" y="258.40" width="9.30" height="1.10" fill="#ececec"/>
<rect x="58.40" y="259.40" width="11.00" height="1.10" fill="#f2c1c3"/>
<rect x="69.30" y="259.40" width="11.00" height="1.10" fill="#fdf6f7"/>
<rect x="83.50" y="259.40" width="9.30" height="1.10" fill="#bdbdbd"/>
<rect x="36.60" y="260.40" width="11.00" height="1.10" fill="#fbedee"/>
<rect x="58.40" y="260.40" width="11.00" height="1.10" fill="#fceeee"/>
<rect x="83.50" y="260.40" width="9.30" height="1.10" fill="#dcdcdc"/>
<rect x="47.50" y="261.40" width="11.00" height="1.10" fill="#f6d4d5"/>
<rect x="83.50" y="261.40" width="9.30" height="1.10" fill="#dfdfdf"/>
<rect x="47.50" y="262.40" width="11.00" height="1.10" fill="#fdf5f5"/>
<rect x="69.30" y="262.40" width="11.00" height="1.10" fill="#fdf4f5"/>
<rect x="83.50" y="262.40" width="9.30" height="1.10" fill="#bbbbbb"/>
<rect x="36.60" y="263.40" width="11.00" height="1.10" fill="#f1f3fa"/>
<rect x="58.40" y="263.40" width="11.00" height="1.10" fill="#f7d5d6"/>
<rect x="69.30" y="263.40" width="11.00" height="1.10" fill="#fdf6f6"/>
<rect x="83.50" y="263.40" width="9.30" height="1.10" fill="#cfcfcf"/>
<rect x="36.60" y="264.40" width="11.00" height="1.10" fill="#fae7e7"/>
<rect x="47.50" y="264.40" width="11.00" height="1.10" fill="#fcf0f0"/>
<rect x="58.40" y="264.40" width="11.00" height="1.10" fill="#fdf5f5"/>
<rect x="69.30" y="264.40" width="11.00" height="1.10" fill="#fdf3f3"/>
<rect x="83.50" y="264.40" width="9.30" height="1.10" fill="#cccccc"/>
<rect x="36.60" y="265.40" width="11.00" height="1.10" fill="#fdf5f5"/>
<rect x="47.50" y="265.40" width="11.00" height="1.10" fill="#fdf6f6"/>
<rect x="58.40" y="265.40" width="11.00" height="1.10" fill="#fdf3f3"/>
<rect x="69.30" y="265.40" width="11.00" height="1.10" fill="#fcf0f0"/>
<rect x="83.50" y="265.40" width="9.30" height="1.10" fill="#d4d4d4"/>
<rect x="36.60" y="266.40" width="11.00" height="1.10" fill="#f0b7b8"/>
<rect x="47.50" y="266.40" width="11.00" height="1.10" fill="#fae7e8"/>
<rect x="58.40" y="266.40" width="11.00" height="1.10" fill="#fcf0f0"/>
<rect x="83.50" y="266.40" width="9.30" height="1.10" fill="#c0c0c0"/>
<rect x="36.60" y="267.40" width="11.00" height="1.10" fill="#fef9f9"/>
<rect x="58.40" y="267.40" width="11.00" height="1.10" fill="#fcf0f0"/>
<rect x="69.30" y="267.40" width="11.00" height="1.10" fill="#e2e6f5"/>
<rect x="83.50" y="267.40" width="9.30" height="1.10" fill="#f0f0f0"/>
<rect x="47.50" y="268.40" width="11.00" height="1.10" fill="#f8dbdc"/>
<rect x="69.30" y="268.40" width="11.00" height="1.10" fill="#f6d1d2"/>
<rect x="83.50" y="268.40" width="9.30" height="1.10" fill="#b6b6b6"/>
<rect x="36.60" y="269.40" width="11.00" height="1.10" fill="#e8ebf7"/>
<rect x="47.50" y="269.40" width="11.00" height="1.10" fill="#f0f2fa"/>
<rect x="58.40" y="269.40" width="11.00" height="1.10" fill="#f4c8c9"/>
<rect x="83.50" y="269.40" width="9.30" height="1.10" fill="#d9d9d9"/>
<rect x="36.60" y="270.40" width="11.00" height="1.10" fill="#fdf3f3"/>
<rect x="47.50" y="270.40" width="11.00" height="1.10" fill="#f7d6d7"/>
<rect x="58.40" y="270.40" width="11.00" height="1.10" fill="#fdf6f6"/>
<rect x="69.30" y="270.40" width="11.00" height="1.10" fill="#fbeded"/>
<rect x="83.50" y="270.40" width="9.30" height="1.10" fill="#d4d4d4"/>
<rect x="36.60" y="271.40" width="11.00" height="1.10" fill="#f2c0c1"/>
<rect x="47.50" y="271.40" width="11.00" height="1.10" fill="#fbeaea"/>
<rect x="69.30" y="271.40" width="11.00" height="1.10" fill="#f9e0e1"/>
<rect x="83.50" y="271.40" width="9.30" height="1.10" fill="#dedede"/>
<rect x="36.60" y="272.40" width="11.00" height="1.10" fill="#e5e9f6"/>
<rect x="47.50" y="272.40" width="11.00" height="1.10" fill="#f8dbdc"/>
<rect x="58.40" y="272.40" width="11.00" height="1.10" fill="#f8dbdc"/>
<rect x="69.30" y="272.40" width="11.00" height="1.10" fill="#f7d7d8"/>
<rect x="83.50" y="272.40" width="9.30" height="1.10" fill="#dbdbdb"/>
<rect x="36.60" y="273.40" width="11.00" height="1.10" fill="#f9e0e0"/>
<rect x="47.50" y="273.40" width="11.00" height="1.10" fill="#f8dedf"/>
<rect x="58.40" y="273.40" width="11.00" height="1.10" fill="#f1b8ba"/>
<rect x="69.30" y="273.40" width="11.00" height="1.10" fill="#f6f7fc"/>
<rect x="83.50" y="273.40" width="9.30" height="1.10" fill="#e7e7e7"/>
<rect x="36.60" y="274.40" width="11.00" height="1.10" fill="#f5cecf"/>
<rect x="47.50" y="274.40" width="11.00" height="1.10" fill="#fdf6f6"/>
<rect x="58.40" y="274.40" width="11.00" height="1.10" fill="#dde1f4"/>
<rect x="69.30" y="274.40" width="11.00" height="1.10" fill="#f7f8fc"/>
<rect x="83.50" y="274.40" width="9.30" height="1.10" fill="#d9d9d9"/>
<rect x="47.50" y="275.40" width="11.00" height="1.10" fill="#fcefef"/>
<rect x="58.40" y="275.40" width="11.00" height="1.10" fill="#fcf2f2"/>
<rect x="69.30" y="275.40" width="11.00" height="1.10" fill="#fae7e7"/>
<rect x="83.50" y="275.40" width="9.30" height="1.10" fill="#e5e5e5"/>
<rect x="36.60" y="276.40" width="11.00" height="1.10" fill="#e8ebf7"/>
<rect x="58.40" y="276.40" width="11.00" height="1.10" fill="#f5cecf"/>
<rect x="69.30" y="276.40" width="11.00" height="1.10" fill="#fbeded"/>
<rect x="83.50" y="276.40" width="9.30" height="1.10" fill="#f1f1f1"/>
<rect x="36.60" y="277.40" width="11.00" height="1.10" fill="#fdf5f6"/>
<rect x="47.50" y="277.40" width="11.00" height="1.10" fill="#f7d7d8"/>
<rect x="58.40" y="277.40" width="11.00" height="1.10" fill="#fef9f9"/>
<rect x="83.50" y="277.40" width="9.30" height="1.10" fill="#e2e2e2"/>
<rect x="36.60" y="278.40" width="11.00" height="1.10" fill="#fdf6f6"/>
<rect x="47.50" y="278.40" width="11.00" height="1.10" fill="#f8ddde"/>
<rect x="58.40" y="278.40" width="11.00" height="1.10" fill="#f5d0d1"/>
<rect x="69.30" y="278.40" width="11.00" height="1.10" fill="#f9fafd"/>
<rect x="83.50" y="278.40" width="9.30" height="1.10" fill="#d1d1d1"/>
<rect x="36.60" y="279.40" width="11.00" height="1.10" fill="#fdf7f7"/>
<rect x="47.50" y="279.40" width="11.00" height="1.10" fill="#fdf7f7"/>
<rect x="58.40" y="279.40" width="11.00" height="1.10" fill="#f3c5c7"/>
<rect x="69.30" y="279.40" width="11.00" height="1.10" fill="#eeadaf"/>
<rect x="83.50" y="279.40" width="9.30" height="1.10" fill="#d2d2d2"/>
<rect x="36.60" y="280.40" width="11.00" height="1.10" fill="#f9e2e2"/>
<rect x="47.50" y="280.40" width="11.00" height="1.10" fill="#fef8f8"/>
<rect x="69.30" y="280.40" width="11.00" height="1.10" fill="#fdf5f6"/>
<rect x="83.50" y="280.40" width="9.30" height="1.10" fill="#dedede"/>
<rect x="36.60" y="281.40" width="11.00" height="1.10" fill="#e3e7f6"/>
<rect x="47.50" y="281.40" width="11.00" height="1.10" fill="#eef0f9"/>
<rect x="58.40" y="281.40" width="11.00" height="1.10" fill="#f8dbdc"/>
<rect x="69.30" y="281.40" width="11.00" height="1.10" fill="#fdf7f7"/>
<rect x="83.50" y="281.40" width="9.30" height="1.10" fill="#ededed"/>
<rect x="36.60" y="282.40" width="11.00" height="1.10" fill="#fceeef"/>
<rect x="47.50" y="282.40" width="11.00" height="1.10" fill="#fdf7f7"/>
<rect x="58.40" y="282.40" width="11.00" height="1.10" fill="#fceeef"/>
<rect x="69.30" y="282.40" width="11.00" height="1.10" fill="#fef9f9"/>
<rect x="83.50" y="282.40" width="9.30" height="1.10" fill="#d0d0d0"/>
<rect x="36.60" y="283.40" width="11.00" height="1.10" fill="#fcf0f1"/>
<rect x="47.50" y="283.40" width="11.00" height="1.10" fill="#fdf7f8"/>
<rect x="58.40" y="283.40" width="11.00" height="1.10" fill="#fae7e8"/>
<rect x="69.30" y="283.40" width="11.00" height="1.10" fill="#f7d8d9"/>
<rect x="83.50" y="283.40" width="9.30" height="1.10" fill="#9a9a9a"/>
<rect x="36.60" y="284.40" width="11.00" height="1.10" fill="#fdf3f3"/>
<rect x="47.50" y="284.40" width="11.00" height="1.10" fill="#f4cbcc"/>
<rect x="58.40" y="284.40" width="11.00" height="1.10" fill="#fcf1f1"/>
<rect x="69.30" y="284.40" width="11.00" height="1.10" fill="#fcf0f0"/>
<rect x="83.50" y="284.40" width="9.30" height="1.10" fill="#f2f2f2"/>
<rect x="36.60" y="285.40" width="11.00" height="1.10" fill="#f7f8fc"/>
<rect x="47.50" y="285.40" width="11.00" height="1.10" fill="#f9fafd"/>
<rect x="58.40" y="285.40" width="11.00" height="1.10" fill="#fceff0"/>
<rect x="69.30" y="285.40" width="11.00" height="1.10" fill="#f8ddde"/>
<rect x="83.50" y="285.40" width="9.30" height="1.10" fill="#a2a2a2"/>
<rect x="36.60" y="286.40" width="11.00" height="1.10" fill="#f9e3e4"/>
<rect x="47.50" y="286.40" width="11.00" height="1.10" fill="#eff1fa"/>
<rect x="58.40" y="286.40" width="11.00" height="1.10" fill="#f4c9cb"/>
<rect x="69.30" y="286.40" width="11.00" height="1.10" fill="#f2bebf"/>
<rect x="83.50" y="286.40" width="9.30" height="1.10" fill="#aaaaaa"/>
<rect x="36.60" y="287.40" width="11.00" height="1.10" fill="#fcf0f0"/>
<rect x="47.50" y="287.40" width="11.00" height="1.10" fill="#fdf5f5"/>
<rect x="58.40" y="287.40" width="11.00" height="1.10" fill="#fceff0"/>
<rect x="69.30" y="287.40" width="11.00" height="1.10" fill="#fbe9ea"/>
<rect x="83.50" y="287.40" width="9.30" height="1.10" fill="#dddddd"/>
<rect x="36.60" y="288.40" width="11.00" height="1.10" fill="#f9e1e2"/>
<rect x="58.40" y="288.40" width="11.00" height="1.10" fill="#f6f7fc"/>
<rect x="69.30" y="288.40" width="11.00" height="1.10" fill="#fefafa"/>
<rect x="83.50" y="288.40" width="9.30" height="1.10" fill="#e9e9e9"/>
<rect x="47.50" y="289.40" width="11.00" height="1.10" fill="#fae4e5"/>
<rect x="58.40" y="289.40" width="11.00" height="1.10" fill="#e1e5f5"/>
<rect x="83.50" y="289.40" width="9.30" height="1.10" fill="#e4e4e4"/>
<rect x="36.60" y="290.40" width="11.00" height="1.10" fill="#f9e3e4"/>
<rect x="47.50" y="290.40" width="11.00" height="1.10" fill="#f4f5fb"/>
<rect x="69.30" y="290.40" width="11.00" height="1.10" fill="#fbeded"/>
<rect x="83.50" y="290.40" width="9.30" height="1.10" fill="#f5f5f5"/>
<rect x="47.50" y="291.40" width="11.00" height="1.10" fill="#f8ddde"/>
<rect x="83.50" y="291.40" width="9.30" height="1.10" fill="#cfcfcf"/>
<rect x="36.60" y="292.40" width="11.00" height="1.10" fill="#f3f4fb"/>
<rect x="47.50" y="292.40" width="11.00" height="1.10" fill="#f5cbcd"/>
<rect x="58.40" y="292.40" width="11.00" height="1.10" fill="#fdf6f7"/>
<rect x="69.30" y="292.40" width="11.00" height="1.10" fill="#fefafa"/>
<rect x="83.50" y="292.40" width="9.30" height="1.10" fill="#cccccc"/>
<rect x="36.60" y="293.40" width="11.00" height="1.10" fill="#f7f8fc"/>
<rect x="47.50" y="293.40" width="11.00" height="1.10" fill="#fcf2f2"/>
<rect x="58.40" y="293.40" width="11.00" height="1.10" fill="#fdf4f4"/>
<rect x="69.30" y="293.40" width="11.00" height="1.10" fill="#fcf2f2"/>
<rect x="83.50" y="293.40" width="9.30" height="1.10" fill="#ececec"/>
<rect x="36.60" y="294.40" width="11.00" height="1.10" fill="#fbe9ea"/>
<rect x="58.40" y="294.40" width="11.00" height="1.10" fill="#fceeee"/>
<rect x="69.30" y="294.40" width="11.00" height="1.10" fill="#fcf2f2"/>
<rect x="83.50" y="294.40" width="9.30" height="1.10" fill="#dbdbdb"/>
<rect x="36.60" y="295.40" width="11.00" height="1.10" fill="#fafbfd"/>
<rect x="47.50" y="295.40" width="11.00" height="1.10" fill="#fae9e9"/>
<rect x="83.50" y="295.40" width="9.30" height="1.10" fill="#d3d3d3"/>
<rect x="36.60" y="296.40" width="11.00" height="1.10" fill="#fefafa"/>
<rect x="58.40" y="296.40" width="11.00" height="1.10" fill="#eff1fa"/>
<rect x="83.50" y="296.40" width="9.30" height="1.10" fill="#ececec"/>
<rect x="69.30" y="297.40" width="11.00" height="1.10" fill="#fceff0"/>
<rect x="83.50" y="297.40" width="9.30" height="1.10" fill="#f2f2f2"/>
<rect x="36.60" y="298.40" width="11.00" height="1.10" fill="#fbeded"/>
<rect x="69.30" y="298.40" width="11.00" height="1.10" fill="#fafbfd"/>
<rect x="83.50" y="298.40" width="9.30" height="1.10" fill="#cecece"/>
<rect x="36.60" y="299.40" width="11.00" height="1.10" fill="#f9e1e2"/>
<rect x="47.50" y="299.40" width="11.00" height="1.10" fill="#fcf0f1"/>
<rect x="83.50" y="299.40" width="9.30" height="1.10" fill="#f4f4f4"/>
<rect x="36.60" y="300.40" width="11.00" height="1.10" fill="#fcf1f2"/>
<rect x="47.50" y="300.40" width="11.00" height="1.10" fill="#fdf7f7"/>
<rect x="83.50" y="300.40" width="9.30" height="1.10" fill="#c3c3c3"/>
<rect x="36.60" y="301.40" width="11.00" height="1.10" fill="#f6f7fc"/>
<rect x="47.50" y="301.40" width="11.00" height="1.10" fill="#fbedee"/>
<rect x="69.30" y="301.40" width="11.00" height="1.10" fill="#f6f7fc"/>
<rect x="83.50" y="301.40" width="9.30" height="1.10" fill="#d7d7d7"/>
<rect x="36.60" y="302.40" width="11.00" height="1.10" fill="#fdf4f5"/>
<rect x="47.50" y="302.40" width="11.00" height="1.10" fill="#edeff9"/>
<rect x="58.40" y="302.40" width="11.00" height="1.10" fill="#fef9f9"/>
<rect x="69.30" y="302.40" width="11.00" height="1.10" fill="#fef9fa"/>
<rect x="83.50" y="302.40" width="9.30" height="1.10" fill="#999999"/>
<rect x="36.60" y="303.40" width="11.00" height="1.10" fill="#f1f3fa"/>
<rect x="47.50" y="303.40" width="11.00" height="1.10" fill="#fdf3f4"/>
<rect x="58.40" y="303.40" width="11.00" height="1.10" fill="#fbebec"/>
<rect x="83.50" y="303.40" width="9.30" height="1.10" fill="#9c9c9c"/>
<rect x="47.50" y="304.40" width="11.00" height="1.10" fill="#fdf7f7"/>
<rect x="69.30" y="304.40" width="11.00" height="1.10" fill="#fcf0f0"/>
<rect x="83.50" y="304.40" width="9.30" height="1.10" fill="#9a9a9a"/>
<rect x="36.60" y="305.40" width="11.00" height="1.10" fill="#fdf5f5"/>
<rect x="83.50" y="305.40" width="9.30" height="1.10" fill="#dadada"/>
<rect x="36.60" y="306.40" width="11.00" height="1.10" fill="#fef8f8"/>
<rect x="47.50" y="306.40" width="11.00" height="1.10" fill="#fae6e7"/>
<rect x="69.30" y="306.40" width="11.00" height="1.10" fill="#fae4e5"/>
<rect x="83.50" y="306.40" width="9.30" height="1.10" fill="#dedede"/>
<rect x="36.60" y="307.40" width="11.00" height="1.10" fill="#fdf8f8"/>
<rect x="69.30" y="307.40" width="11.00" height="1.10" fill="#fef9f9"/>
<rect x="83.50" y="307.40" width="9.30" height="1.10" fill="#ededed"/>
<rect x="47.50" y="308.40" width="11.00" height="1.10" fill="#f3c5c6"/>
<rect x="58.40" y="308.40" width="11.00" height="1.10" fill="#fae5e6"/>
<rect x="69.30" y="308.40" width="11.00" height="1.10" fill="#fdf6f6"/>
<rect x="83.50" y="308.40" width="9.30" height="1.10" fill="#ededed"/>
<rect x="36.60" y="309.40" width="11.00" height="1.10" fill="#fefafa"/>
<rect x="47.50" y="309.40" width="11.00" height="1.10" fill="#fae9e9"/>
<rect x="58.40" y="309.40" width="11.00" height="1.10" fill="#fbeaea"/>
<rect x="69.30" y="309.40" width="11.00" height="1.10" fill="#f9e2e3"/>
<rect x="83.50" y="309.40" width="9.30" height="1.10" fill="#e5e5e5"/>
<rect x="36.60" y="310.40" width="11.00" height="1.10" fill="#fcf1f1"/>
<rect x="47.50" y="310.40" width="11.00" height="1.10" fill="#e58083"/>
<rect x="58.40" y="310.40" width="11.00" height="1.10" fill="#eca2a4"/>
<rect x="83.50" y="310.40" width="9.30" height="1.10" fill="#cbcbcb"/>
<rect x="36.60" y="311.40" width="11.00" height="1.10" fill="#fcf0f0"/>
<rect x="47.50" y="311.40" width="11.00" height="1.10" fill="#f0b4b6"/>
<rect x="58.40" y="311.40" width="11.00" height="1.10" fill="#eca0a2"/>
<rect x="69.30" y="311.40" width="11.00" height="1.10" fill="#fefafa"/>
<rect x="83.50" y="311.40" width="9.30" height="1.10" fill="#bcbcbc"/>
<rect x="36.60" y="312.40" width="11.00" height="1.10" fill="#fcf1f1"/>
<rect x="58.40" y="312.40" width="11.00" height="1.10" fill="#fae8e8"/>
<rect x="69.30" y="312.40" width="11.00" height="1.10" fill="#e3e7f6"/>
<rect x="83.50" y="312.40" width="9.30" height="1.10" fill="#9a9a9a"/>
<rect x="36.60" y="313.40" width="11.00" height="1.10" fill="#eeabad"/>
<rect x="47.50" y="313.40" width="11.00" height="1.10" fill="#eeadaf"/>
<rect x="58.40" y="313.40" width="11.00" height="1.10" fill="#fae5e5"/>
<rect x="69.30" y="313.40" width="11.00" height="1.10" fill="#f8dfe0"/>
<rect x="83.50" y="313.40" width="9.30" height="1.10" fill="#9c9c9c"/>
<rect x="47.50" y="314.40" width="11.00" height="1.10" fill="#f7d8d9"/>
<rect x="58.40" y="314.40" width="11.00" height="1.10" fill="#fbecec"/>
<rect x="83.50" y="314.40" width="9.30" height="1.10" fill="#bdbdbd"/>
<rect x="47.50" y="315.40" width="11.00" height="1.10" fill="#fbe9e9"/>
<rect x="58.40" y="315.40" width="11.00" height="1.10" fill="#e88e90"/>
<rect x="69.30" y="315.40" width="11.00" height="1.10" fill="#fbecec"/>
<rect x="83.50" y="315.40" width="9.30" height="1.10" fill="#b9b9b9"/>
<rect x="36.60" y="316.40" width="11.00" height="1.10" fill="#e0e4f5"/>
<rect x="47.50" y="316.40" width="11.00" height="1.10" fill="#f2c1c3"/>
<rect x="58.40" y="316.40" width="11.00" height="1.10" fill="#e88f91"/>
<rect x="69.30" y="316.40" width="11.00" height="1.10" fill="#aab5e3"/>
<rect x="83.50" y="316.40" width="9.30" height="1.10" fill="#aaaaaa"/>
<rect x="36.60" y="317.40" width="11.00" height="1.10" fill="#fafbfd"/>
<rect x="47.50" y="317.40" width="11.00" height="1.10" fill="#eda5a7"/>
<rect x="58.40" y="317.40" width="11.00" height="1.10" fill="#e7888b"/>
<rect x="69.30" y="317.40" width="11.00" height="1.10" fill="#f1f3fa"/>
<rect x="83.50" y="317.40" width="9.30" height="1.10" fill="#a1a1a1"/>
<rect x="47.50" y="318.40" width="11.00" height="1.10" fill="#eeabad"/>
<rect x="58.40" y="318.40" width="11.00" height="1.10" fill="#eda6a8"/>
<rect x="69.30" y="318.40" width="11.00" height="1.10" fill="#c2caeb"/>
<rect x="83.50" y="318.40" width="9.30" height="1.10" fill="#a6a6a6"/>
<rect x="58.40" y="319.40" width="11.00" height="1.10" fill="#f6d3d4"/>
<rect x="69.30" y="319.40" width="11.00" height="1.10" fill="#f0f2fa"/>
<rect x="83.50" y="319.40" width="9.30" height="1.10" fill="#a9a9a9"/>
<rect x="36.60" y="320.40" width="11.00" height="1.10" fill="#f9fafd"/>
<rect x="47.50" y="320.40" width="11.00" height="1.10" fill="#e6eaf7"/>
<rect x="58.40" y="320.40" width="11.00" height="1.10" fill="#f1b8ba"/>
<rect x="69.30" y="320.40" width="11.00" height="1.10" fill="#b3bde6"/>
<rect x="83.50" y="320.40" width="9.30" height="1.10" fill="#a3a3a3"/>
<rect x="36.60" y="321.40" width="11.00" height="1.10" fill="#fae5e5"/>
<rect x="47.50" y="321.40" width="11.00" height="1.10" fill="#eff1fa"/>
<rect x="69.30" y="321.40" width="11.00" height="1.10" fill="#c9d1ed"/>
<rect x="83.50" y="321.40" width="9.30" height="1.10" fill="#b1b1b1"/>
<rect x="47.50" y="322.40" width="11.00" height="1.10" fill="#eef0f9"/>
<rect x="58.40" y="322.40" width="11.00" height="1.10" fill="#e5e8f6"/>
<rect x="69.30" y="322.40" width="11.00" height="1.10" fill="#d0d6ef"/>
<rect x="83.50" y="322.40" width="9.30" height="1.10" fill="#c3c3c3"/>
<rect x="58.40" y="323.40" width="11.00" height="1.10" fill="#f9e0e1"/>
<rect x="69.30" y="323.40" width="11.00" height="1.10" fill="#d5dbf1"/>
<rect x="83.50" y="323.40" width="9.30" height="1.10" fill="#cccccc"/>
<rect x="36.60" y="324.40" width="11.00" height="1.10" fill="#f6f7fc"/>
<rect x="47.50" y="324.40" width="11.00" height="1.10" fill="#e5e8f6"/>
<rect x="58.40" y="324.40" width="11.00" height="1.10" fill="#fdf4f4"/>
<rect x="69.30" y="324.40" width="11.00" height="1.10" fill="#b8c2e7"/>
<rect x="83.50" y="324.40" width="9.30" height="1.10" fill="#a9a9a9"/>
<rect x="47.50" y="325.40" width="11.00" height="1.10" fill="#f4f5fb"/>
<rect x="69.30" y="325.40" width="11.00" height="1.10" fill="#c3cbeb"/>
<rect x="83.50" y="325.40" width="9.30" height="1.10" fill="#a1a1a1"/>
<rect x="36.60" y="326.40" width="11.00" height="1.10" fill="#fef9f9"/>
<rect x="47.50" y="326.40" width="11.00" height="1.10" fill="#b4bee6"/>
<rect x="58.40" y="326.40" width="11.00" height="1.10" fill="#fbeced"/>
<rect x="69.30" y="326.40" width="11.00" height="1.10" fill="#e0e4f5"/>
<rect x="83.50" y="326.40" width="9.30" height="1.10" fill="#a8a8a8"/>
<rect x="36.60" y="327.40" width="11.00" height="1.10" fill="#fafbfd"/>
<rect x="47.50" y="327.40" width="11.00" height="1.10" fill="#a9b4e2"/>
<rect x="58.40" y="327.40" width="11.00" height="1.10" fill="#fbebec"/>
<rect x="69.30" y="327.40" width="11.00" height="1.10" fill="#f2f4fb"/>
<rect x="83.50" y="327.40" width="9.30" height="1.10" fill="#cacaca"/>
<rect x="36.60" y="328.40" width="11.00" height="1.10" fill="#f9fafd"/>
<rect x="47.50" y="328.40" width="11.00" height="1.10" fill="#a5b1e1"/>
<rect x="58.40" y="328.40" width="11.00" height="1.10" fill="#f4cbcc"/>
<rect x="69.30" y="328.40" width="11.00" height="1.10" fill="#f9e1e2"/>
<rect x="83.50" y="328.40" width="9.30" height="1.10" fill="#bebebe"/>
<rect x="36.60" y="329.40" width="11.00" height="1.10" fill="#f8dadb"/>
<rect x="47.50" y="329.40" width="11.00" height="1.10" fill="#c3cbeb"/>
<rect x="58.40" y="329.40" width="11.00" height="1.10" fill="#fae6e6"/>
<rect x="69.30" y="329.40" width="11.00" height="1.10" fill="#f2f4fb"/>
<rect x="83.50" y="329.40" width="9.30" height="1.10" fill="#b1b1b1"/>
<rect x="36.60" y="330.40" width="11.00" height="1.10" fill="#fbeced"/>
<rect x="47.50" y="330.40" width="11.00" height="1.10" fill="#9ba9de"/>
<rect x="58.40" y="330.40" width="11.00" height="1.10" fill="#f5ccce"/>
<rect x="69.30" y="330.40" width="11.00" height="1.10" fill="#fbeaeb"/>
<rect x="83.50" y="330.40" width="9.30" height="1.10" fill="#989898"/>
<rect x="47.50" y="331.40" width="11.00" height="0.40" fill="#b3bde6"/>
<rect x="69.30" y="331.40" width="11.00" height="0.40" fill="#fef8f9"/>
<rect x="83.50" y="331.40" width="9.30" height="0.40" fill="#ababab"/>
<rect x="13.30" y="156.50" width="19.50" height="175.20" fill="none" stroke="#3a3a3a" stroke-width="0.9"/>
<line x1="13.30" y1="223.40" x2="32.80" y2="223.40" stroke="#2a2a4a" stroke-width="1.0"/>
<line x1="13.30" y1="287.40" x2="32.80" y2="287.40" stroke="#2a2a4a" stroke-width="1.0"/>
<line x1="13.30" y1="310.40" x2="32.80" y2="310.40" stroke="#2a2a4a" stroke-width="1.0"/>
<rect x="36.60" y="156.50" width="43.60" height="175.20" fill="none" stroke="#3a3a3a" stroke-width="0.9"/>
<line x1="36.60" y1="223.40" x2="80.20" y2="223.40" stroke="#2a2a4a" stroke-width="1.0"/>
<line x1="36.60" y1="287.40" x2="80.20" y2="287.40" stroke="#2a2a4a" stroke-width="1.0"/>
<line x1="36.60" y1="310.40" x2="80.20" y2="310.40" stroke="#2a2a4a" stroke-width="1.0"/>
<rect x="83.50" y="156.50" width="9.30" height="175.20" fill="none" stroke="#3a3a3a" stroke-width="0.9"/>
<line x1="83.50" y1="223.40" x2="92.80" y2="223.40" stroke="#2a2a4a" stroke-width="1.0"/>
<line x1="83.50" y1="287.40" x2="92.80" y2="287.40" stroke="#2a2a4a" stroke-width="1.0"/>
<line x1="83.50" y1="310.40" x2="92.80" y2="310.40" stroke="#2a2a4a" stroke-width="1.0"/>
<text x="42.20" y="154.20" font-size="6.8" transform="rotate(-45 42.20 154.20)">Ptbp</text>
<text x="53.40" y="154.60" font-size="6.8" transform="rotate(-45 53.40 154.60)">Nova</text>
<text x="64.40" y="154.60" font-size="6.8" transform="rotate(-45 64.40 154.60)">Rbfox</text>
<text x="74.00" y="154.40" font-size="6.8" transform="rotate(-45 74.00 154.40)">Mbnl</text>
<text x="90.20" y="153.00" font-size="6.8" transform="rotate(-45 90.20 153.00)">Total</text>
<text x="-0.60" y="165.00" font-size="7">M1+</text>
<text x="-0.60" y="220.70" font-size="7">M1–</text>
<text x="-0.60" y="233.90" font-size="7">M2+</text>
<text x="-0.60" y="286.70" font-size="7">M2–</text>
<text x="-0.60" y="298.40" font-size="7">M3+</text>
<text x="-0.60" y="308.90" font-size="7">M3–</text>
<text x="-0.60" y="319.60" font-size="7">M4+</text>
<text x="-0.60" y="328.20" font-size="7">M4–</text>
<path d="M93.40,161.50 L99.40,159.20 L99.40,163.80 Z" fill="#231f20"/>
<line x1="98.00" y1="161.50" x2="100.80" y2="161.50" stroke="#231f20" stroke-width="1.0"/>
<text x="102.00" y="162.60" font-size="5.7" font-style="italic">Gabrg2</text>
<text x="101.40" y="169.60" font-size="5.9">exon 9</text>
<line x1="37.00" y1="338.40" x2="48.50" y2="338.40" stroke="#cf9f7c" stroke-width="0.9"/>
<line x1="37.00" y1="346.60" x2="48.50" y2="346.60" stroke="#8ea6cf" stroke-width="0.9"/>
<text x="53.20" y="340.50" font-size="5.8">Activation</text>
<text x="53.20" y="348.70" font-size="5.8">Repression</text>
<text x="124.40" y="136.90" font-size="11.5" fill="#000" font-weight="bold">d</text>
<rect x="151.20" y="155.20" width="72.30" height="77.90" fill="none" stroke="#3a3a3a" stroke-width="0.8"/>
<line x1="149.40" y1="155.20" x2="151.20" y2="155.20" stroke="#231f20" stroke-width="0.7"/>
<text x="146.00" y="157.70" font-size="7" text-anchor="end">0.8</text>
<line x1="149.40" y1="174.68" x2="151.20" y2="174.68" stroke="#231f20" stroke-width="0.7"/>
<text x="146.00" y="177.18" font-size="7" text-anchor="end">0.6</text>
<line x1="149.40" y1="194.15" x2="151.20" y2="194.15" stroke="#231f20" stroke-width="0.7"/>
<text x="146.00" y="196.65" font-size="7" text-anchor="end">0.4</text>
<line x1="149.40" y1="213.62" x2="151.20" y2="213.62" stroke="#231f20" stroke-width="0.7"/>
<text x="146.00" y="216.12" font-size="7" text-anchor="end">0.2</text>
<line x1="149.40" y1="233.10" x2="151.20" y2="233.10" stroke="#231f20" stroke-width="0.7"/>
<text x="146.00" y="235.60" font-size="7" text-anchor="end">0</text>
<text x="152.00" y="242.50" font-size="7" text-anchor="middle">1</text>
<line x1="152.00" y1="153.60" x2="152.00" y2="155.20" stroke="#231f20" stroke-width="0.7"/>
<text x="175.90" y="242.50" font-size="7" text-anchor="middle">1.5</text>
<line x1="175.90" y1="153.60" x2="175.90" y2="155.20" stroke="#231f20" stroke-width="0.7"/>
<text x="199.80" y="242.50" font-size="7" text-anchor="middle">2</text>
<line x1="199.80" y1="153.60" x2="199.80" y2="155.20" stroke="#231f20" stroke-width="0.7"/>
<text x="223.70" y="242.50" font-size="7" text-anchor="middle">2.5</text>
<line x1="223.70" y1="153.60" x2="223.70" y2="155.20" stroke="#231f20" stroke-width="0.7"/>
<text x="191.50" y="251.20" font-size="6.7" text-anchor="middle">log 10 (pcd)</text>
<text x="129.80" y="194.80" font-size="7" text-anchor="middle" fill="#555" transform="rotate(-90 129.80 194.80)">ψ</text>
<line x1="166.80" y1="155.20" x2="166.80" y2="233.10" stroke="#444" stroke-width="0.75" stroke-dasharray="2.2,1.6"/>
<text x="159.20" y="149.20" font-size="6.6" text-anchor="middle">P4</text>
<line x1="174.70" y1="155.20" x2="174.70" y2="233.10" stroke="#444" stroke-width="0.75" stroke-dasharray="2.2,1.6"/>
<text x="172.90" y="149.20" font-size="6.6" text-anchor="middle">P15</text>
<line x1="182.80" y1="155.20" x2="182.80" y2="233.10" stroke="#444" stroke-width="0.75" stroke-dasharray="2.2,1.6"/>
<text x="188.00" y="149.20" font-size="6.6" text-anchor="middle">P30</text>
<path d="M151.70,231.41 L152.41,231.37 L153.13,231.34 L153.84,231.29 L154.55,231.24 L155.26,231.18 L155.98,231.11 L156.69,231.03 L157.40,230.94 L158.12,230.83 L158.83,230.70 L159.54,230.55 L160.26,230.38 L160.97,230.18 L161.68,229.95 L162.39,229.68 L163.11,229.37 L163.82,229.02 L164.53,228.61 L165.25,228.14 L165.96,227.60 L166.67,226.99 L167.39,226.29 L168.10,225.50 L168.81,224.61 L169.52,223.61 L170.24,222.50 L170.95,221.26 L171.66,219.90 L172.38,218.42 L173.09,216.81 L173.80,215.09 L174.52,213.26 L175.23,211.33 L175.94,209.33 L176.66,207.27 L177.37,205.18 L178.08,203.08 L178.79,201.00 L179.51,198.96 L180.22,196.98 L180.93,195.09 L181.65,193.30 L182.36,191.61 L183.07,190.05 L183.78,188.61 L184.50,187.29 L185.21,186.10 L185.92,185.03 L186.64,184.07 L187.35,183.21 L188.06,182.45 L188.78,181.79 L189.49,181.20 L190.20,180.69 L190.91,180.24 L191.63,179.85 L192.34,179.51 L193.05,179.22 L193.77,178.97 L194.48,178.75 L195.19,178.56 L195.91,178.39 L196.62,178.25 L197.33,178.13 L198.04,178.03 L198.76,177.94 L199.47,177.86 L200.18,177.80 L200.90,177.74 L201.61,177.69 L202.32,177.65 L203.04,177.61 L203.75,177.58 L204.46,177.56 L205.18,177.53 L205.89,177.52 L206.60,177.50 L207.31,177.48 L208.03,177.47 L208.74,177.46 L209.45,177.45 L210.17,177.45 L210.88,177.44 L211.59,177.43 L212.31,177.43 L213.02,177.42 L213.73,177.42 L214.44,177.42 L215.16,177.42 L215.87,177.41 L216.58,177.41 L217.30,177.41 L218.01,177.41 L218.72,177.41 L219.44,177.41 L220.15,177.41 L220.86,177.40 L221.57,177.40 L222.29,177.40 L223.00,177.40" fill="none" stroke="#bf5f16" stroke-width="1.4"/>
<circle cx="159.40" cy="230.20" r="2.30" fill="#666666"/>
<circle cx="161.90" cy="231.50" r="2.30" fill="#666666"/>
<circle cx="164.30" cy="228.50" r="2.30" fill="#666666"/>
<circle cx="168.50" cy="228.00" r="2.30" fill="#666666"/>
<circle cx="171.00" cy="226.00" r="2.30" fill="#666666"/>
<circle cx="176.60" cy="206.40" r="2.30" fill="#666666"/>
<circle cx="184.00" cy="188.20" r="2.30" fill="#666666"/>
<circle cx="204.90" cy="176.90" r="2.30" fill="#666666"/>
<text x="119.20" y="258.90" font-size="11.5" fill="#000" font-weight="bold">e</text>
<text x="140.20" y="269.70" font-size="7" text-anchor="end">0.6</text>
<text x="140.20" y="284.03" font-size="7" text-anchor="end">0.4</text>
<text x="140.20" y="298.37" font-size="7" text-anchor="end">0.2</text>
<text x="140.20" y="312.70" font-size="7" text-anchor="end">0</text>
<text x="124.00" y="288.00" font-size="7.5" text-anchor="middle" transform="rotate(-90 124.00 288.00)">ψ</text>
<line x1="143.80" y1="267.20" x2="180.00" y2="267.20" stroke="#7a7a7a" stroke-width="0.65"/>
<line x1="143.80" y1="281.53" x2="180.00" y2="281.53" stroke="#7a7a7a" stroke-width="0.65"/>
<line x1="143.80" y1="295.87" x2="180.00" y2="295.87" stroke="#7a7a7a" stroke-width="0.65"/>
<line x1="143.80" y1="267.20" x2="143.80" y2="310.20" stroke="#8a8a8a" stroke-width="0.7"/>
<line x1="143.80" y1="310.20" x2="180.00" y2="310.20" stroke="#8a8a8a" stroke-width="0.7"/>
<line x1="142.30" y1="267.20" x2="143.80" y2="267.20" stroke="#8a8a8a" stroke-width="0.6"/>
<line x1="142.30" y1="281.53" x2="143.80" y2="281.53" stroke="#8a8a8a" stroke-width="0.6"/>
<line x1="142.30" y1="295.87" x2="143.80" y2="295.87" stroke="#8a8a8a" stroke-width="0.6"/>
<line x1="142.30" y1="310.20" x2="143.80" y2="310.20" stroke="#8a8a8a" stroke-width="0.6"/>
<line x1="143.80" y1="310.20" x2="143.80" y2="312.00" stroke="#8a8a8a" stroke-width="0.6"/>
<line x1="161.90" y1="310.20" x2="161.90" y2="312.00" stroke="#8a8a8a" stroke-width="0.6"/>
<line x1="180.00" y1="310.20" x2="180.00" y2="312.00" stroke="#8a8a8a" stroke-width="0.6"/>
<line x1="186.80" y1="267.20" x2="222.20" y2="267.20" stroke="#7a7a7a" stroke-width="0.65"/>
<line x1="186.80" y1="281.53" x2="222.20" y2="281.53" stroke="#7a7a7a" stroke-width="0.65"/>
<line x1="186.80" y1="295.87" x2="222.20" y2="295.87" stroke="#7a7a7a" stroke-width="0.65"/>
<line x1="186.80" y1="267.20" x2="186.80" y2="310.20" stroke="#8a8a8a" stroke-width="0.7"/>
<line x1="186.80" y1="310.20" x2="222.20" y2="310.20" stroke="#8a8a8a" stroke-width="0.7"/>
<line x1="185.30" y1="267.20" x2="186.80" y2="267.20" stroke="#8a8a8a" stroke-width="0.6"/>
<line x1="185.30" y1="281.53" x2="186.80" y2="281.53" stroke="#8a8a8a" stroke-width="0.6"/>
<line x1="185.30" y1="295.87" x2="186.80" y2="295.87" stroke="#8a8a8a" stroke-width="0.6"/>
<line x1="185.30" y1="310.20" x2="186.80" y2="310.20" stroke="#8a8a8a" stroke-width="0.6"/>
<line x1="186.80" y1="310.20" x2="186.80" y2="312.00" stroke="#8a8a8a" stroke-width="0.6"/>
<line x1="204.50" y1="310.20" x2="204.50" y2="312.00" stroke="#8a8a8a" stroke-width="0.6"/>
<line x1="222.20" y1="310.20" x2="222.20" y2="312.00" stroke="#8a8a8a" stroke-width="0.6"/>
<rect x="150.10" y="305.20" width="7.20" height="5.00" fill="#4d7fc4"/>
<rect x="168.00" y="275.00" width="6.80" height="35.20" fill="#4d7fc4"/>
<rect x="193.10" y="279.90" width="7.60" height="30.30" fill="#9c4e12"/>
<rect x="211.00" y="301.80" width="7.00" height="8.40" fill="#9c4e12"/>
<text x="162.30" y="264.00" font-size="6.9" text-anchor="middle">Δψ=−0.43</text>
<text x="204.10" y="264.00" font-size="6.9" text-anchor="middle">Δψ=0.3</text>
<text x="153.50" y="320.80" font-size="7" text-anchor="middle">WT</text>
<text x="171.40" y="320.80" font-size="7" text-anchor="middle">KO</text>
<text x="196.60" y="320.80" font-size="7" text-anchor="middle">WT</text>
<text x="215.00" y="320.80" font-size="7" text-anchor="middle">dKO</text>
<line x1="145.50" y1="324.20" x2="180.00" y2="324.20" stroke="#231f20" stroke-width="0.7"/>
<line x1="188.00" y1="324.20" x2="222.20" y2="324.20" stroke="#231f20" stroke-width="0.7"/>
<text x="163.00" y="333.60" font-size="7" text-anchor="middle">Ptbp2</text>
<text x="205.20" y="333.60" font-size="7" text-anchor="middle">Mbnl1/2</text>
<text x="239.40" y="136.90" font-size="11.5" fill="#000" font-weight="bold">f</text>
<text x="254.60" y="145.00" font-size="5.5" font-weight="bold" font-style="italic">Gabrg2</text>
<defs><linearGradient id="wedge" gradientUnits="userSpaceOnUse" x1="352" y1="158" x2="262" y2="177"><stop offset="0" stop-color="#a9b9e2"/><stop offset="0.45" stop-color="#d2dbf2"/><stop offset="1" stop-color="#f6f8fd"/></linearGradient></defs>
<path d="M343.5,158.4 L360.5,158.4 L398.5,176.6 L263.5,176.6 Z" fill="url(#wedge)"/>
<line x1="284.20" y1="152.40" x2="387.10" y2="152.40" stroke="#b9825a" stroke-width="0.8"/>
<rect x="278.20" y="148.20" width="6.00" height="8.40" fill="#c8c8c8" stroke="#1a1a1a" stroke-width="1.1"/>
<rect x="387.40" y="148.20" width="12.40" height="8.40" fill="#c8c8c8" stroke="#1a1a1a" stroke-width="1.3"/>
<text x="284.00" y="164.00" font-size="6.2" text-anchor="middle">E8</text>
<text x="394.00" y="164.00" font-size="6.2" text-anchor="middle">E10</text>
<text x="343.60" y="164.00" font-size="6.2" text-anchor="middle">E9</text>
<rect x="345.60" y="146.90" width="16.80" height="12.60" fill="none" stroke="#1a1a1a" stroke-width="0.7" stroke-dasharray="1.6,1.1"/>
<circle cx="339.60" cy="152.60" r="3.50" fill="#4f86c6"/>
<circle cx="349.80" cy="152.60" r="3.50" fill="#e6a4a4"/>
<circle cx="358.30" cy="152.60" r="3.50" fill="#6a1486"/>
<circle cx="382.40" cy="152.60" r="3.50" fill="#92c85a"/>
<rect x="344.60" y="148.00" width="1.10" height="9.00" fill="#e03a2a"/>
<text x="346.80" y="145.40" font-size="5.9" text-anchor="middle" fill="#e6a2a2">Rbfox</text>
<text x="363.00" y="145.40" font-size="5.9" text-anchor="middle" fill="#6a1486">Mbnl</text>
<text x="382.80" y="145.40" font-size="5.9" text-anchor="middle" fill="#7fb84a">Nova</text>
<text x="332.00" y="162.20" font-size="5.9" text-anchor="middle" fill="#4f86c6">Ptbp</text>
<text x="362.60" y="149.60" font-size="3.0">a</text>
<text x="362.60" y="160.00" font-size="3.0">b</text>
<text x="243.90" y="176.20" font-size="5.9" fill="#d22a2a">MUT:</text>
<text x="246.40" y="183.20" font-size="5.9">WT:</text>
<rect x="286.15" y="178.40" width="24.39" height="6.00" fill="#f2cfcf"/>
<rect x="325.81" y="178.40" width="71.97" height="6.00" fill="#d6d6ec"/>
<rect x="257.50" y="192.50" width="64.04" height="6.20" fill="#d6d6ec"/>
<text x="258.70" y="183.30" font-size="6.6" style="font-family:Liberation Mono, monospace" fill="#231f20"><tspan>..TTCAC</tspan><tspan font-weight="bold">TGCATG</tspan><tspan>CGAC</tspan><tspan font-weight="bold">TGCT</tspan><tspan>GAATTAACTATTAA</tspan></text>
<text x="257.80" y="198.10" font-size="6.6" style="font-family:Liberation Mono, monospace" fill="#231f20"><tspan font-weight="bold">TGCT</tspan><tspan>TCCCATGG</tspan><tspan font-weight="bold">TGCT</tspan><tspan>TTATT..</tspan></text>
<text x="335.00" y="176.60" font-size="5.9" text-anchor="middle" fill="#d22a2a">G</text>
<text x="269.40" y="190.40" font-size="5.9" text-anchor="middle" fill="#d22a2a">G</text>
<text x="318.60" y="190.40" font-size="5.9" text-anchor="middle" fill="#d22a2a">G</text>
<text x="325.50" y="212.60" font-size="7" text-anchor="middle">WT</text>
<text x="395.40" y="212.60" font-size="7" text-anchor="middle" fill="#d22a2a">MUT</text>
<line x1="266.10" y1="216.60" x2="386.40" y2="216.60" stroke="#231f20" stroke-width="0.8"/>
<line x1="388.00" y1="216.60" x2="402.60" y2="216.60" stroke="#231f20" stroke-width="0.8"/>
<line x1="266.10" y1="219.40" x2="402.40" y2="219.40" stroke="#231f20" stroke-width="0.8"/>
<line x1="266.10" y1="227.90" x2="402.40" y2="227.90" stroke="#231f20" stroke-width="0.8"/>
<line x1="266.10" y1="237.00" x2="402.40" y2="237.00" stroke="#231f20" stroke-width="0.8"/>
<line x1="266.10" y1="244.60" x2="402.40" y2="244.60" stroke="#231f20" stroke-width="0.8"/>
<line x1="266.10" y1="219.40" x2="266.10" y2="244.60" stroke="#231f20" stroke-width="0.8"/>
<line x1="281.14" y1="219.40" x2="281.14" y2="244.60" stroke="#231f20" stroke-width="0.8"/>
<line x1="296.18" y1="219.40" x2="296.18" y2="244.60" stroke="#231f20" stroke-width="0.8"/>
<line x1="311.22" y1="219.40" x2="311.22" y2="244.60" stroke="#231f20" stroke-width="0.8"/>
<line x1="326.26" y1="219.40" x2="326.26" y2="244.60" stroke="#231f20" stroke-width="0.8"/>
<line x1="341.30" y1="219.40" x2="341.30" y2="244.60" stroke="#231f20" stroke-width="0.8"/>
<line x1="356.34" y1="219.40" x2="356.34" y2="244.60" stroke="#231f20" stroke-width="0.8"/>
<line x1="371.38" y1="219.40" x2="371.38" y2="244.60" stroke="#231f20" stroke-width="0.8"/>
<line x1="386.42" y1="219.40" x2="386.42" y2="244.60" stroke="#231f20" stroke-width="0.8"/>
<line x1="402.40" y1="219.40" x2="402.40" y2="244.60" stroke="#231f20" stroke-width="0.8"/>
<line x1="387.62" y1="219.40" x2="387.62" y2="244.60" stroke="#231f20" stroke-width="0.8"/>
<text x="273.62" y="225.75" font-size="5.9" text-anchor="middle">–</text>
<text x="288.66" y="225.75" font-size="5.9" text-anchor="middle">1</text>
<text x="303.70" y="225.75" font-size="5.9" text-anchor="middle">–</text>
<text x="318.74" y="225.75" font-size="5.9" text-anchor="middle">–</text>
<text x="333.78" y="225.75" font-size="5.9" text-anchor="middle">1/2</text>
<text x="348.82" y="225.75" font-size="5.9" text-anchor="middle">1/2</text>
<text x="363.86" y="225.75" font-size="5.9" text-anchor="middle">–</text>
<text x="378.90" y="225.75" font-size="5.9" text-anchor="middle">1/3</text>
<text x="395.01" y="225.75" font-size="5.9" text-anchor="middle">1/3</text>
<text x="273.62" y="234.55" font-size="5.9" text-anchor="middle">–</text>
<text x="288.66" y="234.55" font-size="5.9" text-anchor="middle">–</text>
<text x="303.70" y="234.55" font-size="5.9" text-anchor="middle">1</text>
<text x="318.74" y="234.55" font-size="5.9" text-anchor="middle">–</text>
<text x="333.78" y="234.55" font-size="5.9" text-anchor="middle">1/2</text>
<text x="348.82" y="234.55" font-size="5.9" text-anchor="middle">–</text>
<text x="363.86" y="234.55" font-size="5.9" text-anchor="middle">1/2</text>
<text x="378.90" y="234.55" font-size="5.9" text-anchor="middle">1/3</text>
<text x="395.01" y="234.55" font-size="5.9" text-anchor="middle">1/3</text>
<text x="273.62" y="242.90" font-size="5.9" text-anchor="middle">–</text>
<text x="288.66" y="242.90" font-size="5.9" text-anchor="middle">–</text>
<text x="303.70" y="242.90" font-size="5.9" text-anchor="middle">–</text>
<text x="318.74" y="242.90" font-size="5.9" text-anchor="middle">1</text>
<text x="333.78" y="242.90" font-size="5.9" text-anchor="middle">–</text>
<text x="348.82" y="242.90" font-size="5.9" text-anchor="middle">1/2</text>
<text x="363.86" y="242.90" font-size="5.9" text-anchor="middle">1/2</text>
<text x="378.90" y="242.90" font-size="5.9" text-anchor="middle">1/3</text>
<text x="395.01" y="242.90" font-size="5.9" text-anchor="middle">1/3</text>
<text x="263.20" y="225.70" font-size="5.9" text-anchor="end" fill="#7fb84a">Nova1</text>
<text x="263.20" y="234.60" font-size="5.9" text-anchor="end" fill="#6a1486">Mbnl2</text>
<text x="263.20" y="243.00" font-size="5.9" text-anchor="end" fill="#c0463c">Rbfox2</text>
<defs><linearGradient id="gel247" x1="0" y1="0" x2="0" y2="1"><stop offset="0" stop-color="#c4c4c4"/><stop offset="1" stop-color="#d2d2d2"/></linearGradient></defs>
<rect x="266.30" y="247.40" width="135.60" height="21.20" fill="url(#gel247)" stroke="#2e2e2e" stroke-width="1.1"/>
<rect x="268.80" y="261.60" width="13.80" height="3.60" rx="1.80" fill="#111" fill-opacity="1.0"/>
<rect x="283.49" y="261.60" width="13.80" height="3.60" rx="1.80" fill="#111" fill-opacity="1.0"/>
<rect x="298.18" y="261.60" width="13.80" height="3.60" rx="1.80" fill="#111" fill-opacity="1.0"/>
<rect x="312.87" y="261.60" width="13.80" height="3.60" rx="1.80" fill="#111" fill-opacity="1.0"/>
<rect x="327.56" y="261.60" width="13.80" height="3.60" rx="1.80" fill="#111" fill-opacity="1.0"/>
<rect x="342.25" y="261.60" width="13.80" height="3.60" rx="1.80" fill="#111" fill-opacity="1.0"/>
<rect x="356.94" y="261.60" width="13.80" height="3.60" rx="1.80" fill="#111" fill-opacity="1.0"/>
<rect x="371.63" y="261.60" width="13.80" height="3.60" rx="1.80" fill="#111" fill-opacity="1.0"/>
<rect x="386.32" y="261.60" width="13.80" height="3.60" rx="1.80" fill="#111" fill-opacity="1.0"/>
<rect x="356.94" y="252.00" width="13.80" height="2.40" rx="1.20" fill="#6a6a6a" fill-opacity="1.0"/>
<rect x="371.63" y="251.90" width="13.80" height="2.60" rx="1.30" fill="#3a3a3a" fill-opacity="1.0"/>
<defs><linearGradient id="gel275" x1="0" y1="0" x2="0" y2="1"><stop offset="0" stop-color="#e0e0e0"/><stop offset="1" stop-color="#e9e9e9"/></linearGradient></defs>
<rect x="266.30" y="275.30" width="135.60" height="15.50" fill="url(#gel275)" stroke="#2e2e2e" stroke-width="1.1"/>
<rect x="283.59" y="281.80" width="13.60" height="4.40" rx="2.20" fill="#111" fill-opacity="1.0"/>
<rect x="328.06" y="282.40" width="12.80" height="3.20" rx="1.60" fill="#111" fill-opacity="1.0"/>
<rect x="342.75" y="282.40" width="12.80" height="3.20" rx="1.60" fill="#111" fill-opacity="1.0"/>
<rect x="372.13" y="282.40" width="12.80" height="3.20" rx="1.60" fill="#111" fill-opacity="1.0"/>
<rect x="386.82" y="282.40" width="12.80" height="3.20" rx="1.60" fill="#111" fill-opacity="1.0"/>
<defs><linearGradient id="gel294" x1="0" y1="0" x2="0" y2="1"><stop offset="0" stop-color="#e0e0e0"/><stop offset="1" stop-color="#e9e9e9"/></linearGradient></defs>
<rect x="266.30" y="294.60" width="135.60" height="20.60" fill="url(#gel294)" stroke="#2e2e2e" stroke-width="1.1"/>
<rect x="312.87" y="299.80" width="13.80" height="3.60" rx="1.80" fill="#111" fill-opacity="1.0"/>
<rect x="342.25" y="299.80" width="13.80" height="3.60" rx="1.80" fill="#111" fill-opacity="1.0"/>
<rect x="356.94" y="299.80" width="13.80" height="3.60" rx="1.80" fill="#111" fill-opacity="1.0"/>
<rect x="371.63" y="299.80" width="13.80" height="3.60" rx="1.80" fill="#111" fill-opacity="1.0"/>
<rect x="386.32" y="299.80" width="13.80" height="3.60" rx="1.80" fill="#111" fill-opacity="1.0"/>
<rect x="298.18" y="306.80" width="13.80" height="3.60" rx="1.80" fill="#111" fill-opacity="1.0"/>
<rect x="327.56" y="306.80" width="13.80" height="3.60" rx="1.80" fill="#111" fill-opacity="1.0"/>
<rect x="356.94" y="306.80" width="13.80" height="3.60" rx="1.80" fill="#111" fill-opacity="1.0"/>
<rect x="371.63" y="306.80" width="13.80" height="3.60" rx="1.80" fill="#111" fill-opacity="1.0"/>
<rect x="386.32" y="306.80" width="13.80" height="3.60" rx="1.80" fill="#111" fill-opacity="1.0"/>
<defs><linearGradient id="gel317" x1="0" y1="0" x2="0" y2="1"><stop offset="0" stop-color="#e0e0e0"/><stop offset="1" stop-color="#e9e9e9"/></linearGradient></defs>
<rect x="266.30" y="317.60" width="135.60" height="16.00" fill="url(#gel317)" stroke="#2e2e2e" stroke-width="1.1"/>
<rect x="268.80" y="324.50" width="13.80" height="3.40" rx="1.70" fill="#111" fill-opacity="1.0"/>
<rect x="283.49" y="324.50" width="13.80" height="3.40" rx="1.70" fill="#111" fill-opacity="1.0"/>
<rect x="298.18" y="324.50" width="13.80" height="3.40" rx="1.70" fill="#111" fill-opacity="1.0"/>
<rect x="312.87" y="324.50" width="13.80" height="3.40" rx="1.70" fill="#111" fill-opacity="1.0"/>
<rect x="327.56" y="324.50" width="13.80" height="3.40" rx="1.70" fill="#111" fill-opacity="1.0"/>
<rect x="342.25" y="324.50" width="13.80" height="3.40" rx="1.70" fill="#111" fill-opacity="1.0"/>
<rect x="356.94" y="324.50" width="13.80" height="3.40" rx="1.70" fill="#111" fill-opacity="1.0"/>
<rect x="371.63" y="324.50" width="13.80" height="3.40" rx="1.70" fill="#111" fill-opacity="1.0"/>
<rect x="386.32" y="324.50" width="13.80" height="3.40" rx="1.70" fill="#111" fill-opacity="1.0"/>
<text x="240.00" y="254.40" font-size="6.2">RT-PCR:</text>
<text x="241.80" y="277.40" font-size="6.2">IB:</text>
<text x="263.20" y="286.00" font-size="6.2" text-anchor="end" fill="#7fb84a">α-Nova</text>
<text x="263.20" y="307.00" font-size="6.2" text-anchor="end">α-FLAG</text>
<text x="263.20" y="328.40" font-size="6.2" text-anchor="end">α-GAPDH</text>
<path d="M402.80,253.20 L408.40,250.50 L408.40,255.90 Z" fill="#231f20"/>
<text x="409.40" y="255.40" font-size="6.2">+E9</text>
<path d="M402.80,263.20 L408.40,260.50 L408.40,265.90 Z" fill="#231f20"/>
<text x="409.40" y="265.40" font-size="6.2">–E9</text>
<path d="M402.80,301.60 L408.40,298.90 L408.40,304.30 Z" fill="#231f20"/>
<text x="409.40" y="303.80" font-size="6.2" fill="#e6a2a2">Rbfox2</text>
<path d="M402.80,308.60 L408.40,305.90 L408.40,311.30 Z" fill="#231f20"/>
<text x="409.40" y="310.80" font-size="6.2" fill="#6a1486">Mbnl2</text>
<text x="0.10" y="372.60" font-size="12" fill="#000" font-weight="bold">g</text>
<text x="69.30" y="387.00" font-size="7" text-anchor="middle">Exons (%)</text>
<text x="23.00" y="398.10" font-size="7" text-anchor="middle">0</text>
<line x1="23.00" y1="401.80" x2="23.00" y2="403.90" stroke="#231f20" stroke-width="0.7"/>
<text x="41.04" y="398.10" font-size="7" text-anchor="middle">20</text>
<line x1="41.04" y1="401.80" x2="41.04" y2="403.90" stroke="#231f20" stroke-width="0.7"/>
<text x="59.08" y="398.10" font-size="7" text-anchor="middle">40</text>
<line x1="59.08" y1="401.80" x2="59.08" y2="403.90" stroke="#231f20" stroke-width="0.7"/>
<text x="77.12" y="398.10" font-size="7" text-anchor="middle">60</text>
<line x1="77.12" y1="401.80" x2="77.12" y2="403.90" stroke="#231f20" stroke-width="0.7"/>
<text x="95.16" y="398.10" font-size="7" text-anchor="middle">80</text>
<line x1="95.16" y1="401.80" x2="95.16" y2="403.90" stroke="#231f20" stroke-width="0.7"/>
<text x="113.20" y="398.10" font-size="7" text-anchor="middle">100</text>
<line x1="113.20" y1="401.80" x2="113.20" y2="403.90" stroke="#231f20" stroke-width="0.7"/>
<line x1="23.00" y1="403.90" x2="113.20" y2="403.90" stroke="#231f20" stroke-width="0.8"/>
<line x1="23.00" y1="403.90" x2="23.00" y2="481.40" stroke="#231f20" stroke-width="0.8"/>
<line x1="113.20" y1="403.90" x2="113.20" y2="481.40" stroke="#231f20" stroke-width="0.8"/>
<line x1="23.00" y1="481.40" x2="113.20" y2="481.40" stroke="#231f20" stroke-width="0.8"/>
<line x1="23.00" y1="481.40" x2="23.00" y2="483.00" stroke="#231f20" stroke-width="0.6"/>
<line x1="41.04" y1="481.40" x2="41.04" y2="483.00" stroke="#231f20" stroke-width="0.6"/>
<line x1="59.08" y1="481.40" x2="59.08" y2="483.00" stroke="#231f20" stroke-width="0.6"/>
<line x1="77.12" y1="481.40" x2="77.12" y2="483.00" stroke="#231f20" stroke-width="0.6"/>
<line x1="95.16" y1="481.40" x2="95.16" y2="483.00" stroke="#231f20" stroke-width="0.6"/>
<line x1="113.20" y1="481.40" x2="113.20" y2="483.00" stroke="#231f20" stroke-width="0.6"/>
<rect x="23.40" y="409.50" width="89.40" height="9.50" fill="#94b6de"/>
<rect x="23.40" y="409.50" width="17.64" height="9.50" fill="#4f6b28"/>
<text x="43.60" y="416.75" font-size="6.95" fill="#ffffff">Antagonize maturation</text>
<text x="18.20" y="416.75" font-size="7" text-anchor="end">Ptbp</text>
<rect x="23.40" y="428.50" width="89.40" height="9.50" fill="#94b6de"/>
<rect x="23.40" y="428.50" width="73.56" height="9.50" fill="#4f6b28"/>
<text x="26.20" y="435.75" font-size="6.95" fill="#ffffff">Facilitate maturation</text>
<text x="18.20" y="435.75" font-size="7" text-anchor="end">Nova</text>
<rect x="23.40" y="447.60" width="89.40" height="9.40" fill="#94b6de"/>
<rect x="23.40" y="447.60" width="72.66" height="9.40" fill="#4f6b28"/>
<text x="26.20" y="454.80" font-size="6.95" fill="#ffffff">Facilitate maturation</text>
<text x="18.20" y="454.80" font-size="7" text-anchor="end">Rbfox</text>
<rect x="23.40" y="466.80" width="89.40" height="9.40" fill="#94b6de"/>
<rect x="23.40" y="466.80" width="87.54" height="9.40" fill="#4f6b28"/>
<text x="26.20" y="474.00" font-size="6.95" fill="#ffffff">Facilitate maturation</text>
<text x="18.20" y="474.00" font-size="7" text-anchor="end">Mbnl</text>
<path d="M73.2,419.0 L73.2,423.2 L125.0,423.2 L125.0,414.3 L131.5,414.3" fill="none" stroke="#94b6de" stroke-width="0.9"/>
<path d="M136.40,414.30 L131.00,416.80 L131.00,411.80 Z" fill="#94b6de"/>
<path d="M58.4,438.0 L58.4,441.1 L125.0,441.1 L125.0,431.2 L131.5,431.2" fill="none" stroke="#4f6b28" stroke-width="0.9"/>
<path d="M136.40,431.20 L131.00,433.70 L131.00,428.70 Z" fill="#4f6b28"/>
<path d="M58.4,457.0 L58.4,461.6 L125.0,461.6 L125.0,451.2 L131.5,451.2" fill="none" stroke="#4f6b28" stroke-width="0.9"/>
<path d="M136.40,451.20 L131.00,453.70 L131.00,448.70 Z" fill="#4f6b28"/>
<path d="M63.1,476.2 L63.1,486.4 L125.0,486.4 L125.0,468.5 L131.5,468.5" fill="none" stroke="#4f6b28" stroke-width="0.9"/>
<path d="M136.40,468.50 L131.00,471.00 L131.00,466.00 Z" fill="#4f6b28"/>
<text x="136.00" y="372.60" font-size="11.5" fill="#000" font-weight="bold">h</text>
<text x="185.80" y="385.20" font-size="6.95" text-anchor="middle">Time of switch – log 10 (pcd)</text>
<text x="140.80" y="396.00" font-size="7" text-anchor="middle">1.0</text>
<text x="170.93" y="396.00" font-size="7" text-anchor="middle">1.2</text>
<text x="201.07" y="396.00" font-size="7" text-anchor="middle">1.4</text>
<text x="231.20" y="396.00" font-size="7" text-anchor="middle">1.6</text>
<line x1="140.80" y1="400.00" x2="140.80" y2="404.00" stroke="#231f20" stroke-width="0.7"/>
<line x1="155.87" y1="400.00" x2="155.87" y2="404.00" stroke="#231f20" stroke-width="0.7"/>
<line x1="170.93" y1="400.00" x2="170.93" y2="404.00" stroke="#231f20" stroke-width="0.7"/>
<line x1="186.00" y1="400.00" x2="186.00" y2="404.00" stroke="#231f20" stroke-width="0.7"/>
<line x1="201.07" y1="400.00" x2="201.07" y2="404.00" stroke="#231f20" stroke-width="0.7"/>
<line x1="216.13" y1="400.00" x2="216.13" y2="404.00" stroke="#231f20" stroke-width="0.7"/>
<line x1="231.20" y1="400.00" x2="231.20" y2="404.00" stroke="#231f20" stroke-width="0.7"/>
<path d="M137.60,414.80 L138.54,414.67 L139.77,414.51 L141.23,414.32 L142.86,414.10 L144.61,413.86 L146.43,413.61 L148.24,413.36 L150.00,413.10 L151.77,412.83 L153.64,412.53 L155.57,412.21 L157.53,411.88 L159.48,411.56 L161.40,411.25 L163.25,410.96 L165.00,410.70 L166.64,410.47 L168.21,410.24 L169.72,410.04 L171.19,409.84 L172.63,409.67 L174.07,409.52 L175.52,409.40 L177.00,409.30 L178.51,409.23 L180.02,409.18 L181.54,409.16 L183.06,409.16 L184.57,409.18 L186.07,409.23 L187.55,409.30 L189.00,409.40 L190.42,409.53 L191.82,409.69 L193.20,409.87 L194.56,410.08 L195.92,410.31 L197.27,410.56 L198.63,410.82 L200.00,411.10 L201.42,411.41 L202.89,411.78 L204.39,412.17 L205.88,412.58 L207.31,412.98 L208.67,413.34 L209.91,413.66 L211.00,413.90 L211.91,414.06 L212.67,414.17 L213.31,414.23 L213.88,414.25 L214.39,414.26 L214.89,414.26 L215.42,414.27 L216.00,414.30 L216.64,414.34 L217.30,414.36 L217.96,414.38 L218.62,414.40 L219.27,414.43 L219.89,414.49 L220.47,414.57 L221.00,414.70 L221.49,414.89 L221.96,415.13 L222.40,415.42 L222.81,415.72 L223.18,416.03 L223.51,416.30 L223.78,416.53 L224.00,416.70 L224.00,416.70 L223.78,416.87 L223.51,417.10 L223.18,417.37 L222.81,417.68 L222.40,417.98 L221.96,418.27 L221.49,418.51 L221.00,418.70 L220.47,418.83 L219.89,418.91 L219.27,418.97 L218.62,419.00 L217.96,419.02 L217.30,419.04 L216.64,419.06 L216.00,419.10 L215.42,419.13 L214.89,419.14 L214.39,419.14 L213.88,419.15 L213.31,419.17 L212.67,419.23 L211.91,419.34 L211.00,419.50 L209.91,419.74 L208.67,420.06 L207.31,420.42 L205.88,420.82 L204.39,421.23 L202.89,421.62 L201.42,421.99 L200.00,422.30 L198.63,422.58 L197.27,422.84 L195.92,423.09 L194.56,423.32 L193.20,423.53 L191.82,423.71 L190.42,423.87 L189.00,424.00 L187.55,424.10 L186.07,424.17 L184.57,424.22 L183.06,424.24 L181.54,424.24 L180.02,424.22 L178.51,424.17 L177.00,424.10 L175.52,424.00 L174.07,423.88 L172.63,423.73 L171.19,423.56 L169.72,423.36 L168.21,423.16 L166.64,422.93 L165.00,422.70 L163.25,422.44 L161.40,422.15 L159.48,421.84 L157.53,421.52 L155.57,421.19 L153.64,420.87 L151.77,420.57 L150.00,420.30 L148.24,420.04 L146.43,419.79 L144.61,419.54 L142.86,419.30 L141.23,419.08 L139.77,418.89 L138.54,418.73 L137.60,418.60 Z" fill="#ffda00" stroke="#8a6d00" stroke-width="0.5"/>
<line x1="137.60" y1="416.70" x2="223.50" y2="416.70" stroke="#3a3000" stroke-width="0.45"/>
<line x1="165.00" y1="416.70" x2="200.10" y2="416.70" stroke="#111" stroke-width="1.8"/>
<rect x="175.40" y="415.40" width="2.60" height="2.60" fill="#ffffff"/>
<path d="M137.60,433.50 L138.55,433.34 L139.81,433.13 L141.32,432.88 L142.99,432.60 L144.76,432.30 L146.57,432.00 L148.34,431.69 L150.00,431.40 L151.61,431.10 L153.25,430.78 L154.92,430.45 L156.59,430.11 L158.25,429.79 L159.88,429.49 L161.47,429.22 L163.00,429.00 L164.46,428.82 L165.87,428.68 L167.23,428.56 L168.56,428.47 L169.89,428.40 L171.23,428.35 L172.59,428.32 L174.00,428.30 L175.45,428.30 L176.91,428.31 L178.38,428.34 L179.88,428.39 L181.38,428.46 L182.91,428.56 L184.45,428.67 L186.00,428.80 L187.59,428.96 L189.23,429.16 L190.89,429.38 L192.56,429.61 L194.23,429.86 L195.87,430.11 L197.46,430.36 L199.00,430.60 L200.50,430.84 L202.01,431.11 L203.49,431.38 L204.94,431.65 L206.33,431.91 L207.65,432.14 L208.88,432.34 L210.00,432.50 L211.00,432.60 L211.88,432.66 L212.66,432.69 L213.38,432.69 L214.04,432.68 L214.69,432.67 L215.33,432.67 L216.00,432.70 L216.69,432.74 L217.38,432.76 L218.05,432.79 L218.71,432.82 L219.34,432.87 L219.94,432.95 L220.50,433.05 L221.00,433.20 L221.46,433.41 L221.88,433.68 L222.27,434.00 L222.61,434.33 L222.92,434.66 L223.19,434.96 L223.42,435.22 L223.60,435.40 L223.60,435.40 L223.42,435.58 L223.19,435.84 L222.92,436.14 L222.61,436.47 L222.27,436.80 L221.88,437.12 L221.46,437.39 L221.00,437.60 L220.50,437.75 L219.94,437.85 L219.34,437.93 L218.71,437.97 L218.05,438.01 L217.38,438.04 L216.69,438.06 L216.00,438.10 L215.33,438.13 L214.69,438.13 L214.04,438.12 L213.38,438.11 L212.66,438.11 L211.88,438.14 L211.00,438.20 L210.00,438.30 L208.88,438.46 L207.65,438.66 L206.33,438.89 L204.94,439.15 L203.49,439.42 L202.01,439.69 L200.50,439.96 L199.00,440.20 L197.46,440.44 L195.87,440.69 L194.23,440.94 L192.56,441.19 L190.89,441.42 L189.23,441.64 L187.59,441.84 L186.00,442.00 L184.45,442.13 L182.91,442.24 L181.38,442.34 L179.88,442.41 L178.38,442.46 L176.91,442.49 L175.45,442.50 L174.00,442.50 L172.59,442.48 L171.23,442.45 L169.89,442.40 L168.56,442.33 L167.23,442.24 L165.87,442.12 L164.46,441.98 L163.00,441.80 L161.47,441.58 L159.88,441.31 L158.25,441.01 L156.59,440.69 L154.92,440.35 L153.25,440.02 L151.61,439.70 L150.00,439.40 L148.34,439.11 L146.57,438.80 L144.76,438.50 L142.99,438.20 L141.32,437.92 L139.81,437.67 L138.55,437.46 L137.60,437.30 Z" fill="#ffda00" stroke="#8a6d00" stroke-width="0.5"/>
<line x1="137.60" y1="435.40" x2="223.10" y2="435.40" stroke="#3a3000" stroke-width="0.45"/>
<line x1="151.90" y1="435.40" x2="197.10" y2="435.40" stroke="#111" stroke-width="1.8"/>
<rect x="173.00" y="434.10" width="2.60" height="2.60" fill="#ffffff"/>
<path d="M137.60,451.90 L138.57,451.83 L139.86,451.75 L141.40,451.65 L143.11,451.53 L144.91,451.41 L146.71,451.27 L148.43,451.14 L150.00,451.00 L151.44,450.86 L152.85,450.73 L154.23,450.59 L155.59,450.44 L156.94,450.28 L158.28,450.10 L159.63,449.91 L161.00,449.70 L162.38,449.45 L163.75,449.18 L165.12,448.88 L166.50,448.56 L167.88,448.25 L169.25,447.94 L170.62,447.66 L172.00,447.40 L173.38,447.16 L174.77,446.93 L176.17,446.70 L177.56,446.49 L178.95,446.30 L180.32,446.13 L181.67,446.00 L183.00,445.90 L184.30,445.84 L185.57,445.81 L186.82,445.81 L188.06,445.83 L189.29,445.88 L190.52,445.96 L191.76,446.07 L193.00,446.20 L194.25,446.37 L195.50,446.58 L196.75,446.82 L198.00,447.08 L199.25,447.36 L200.50,447.65 L201.75,447.93 L203.00,448.20 L204.28,448.48 L205.59,448.78 L206.93,449.09 L208.25,449.40 L209.54,449.70 L210.78,449.97 L211.94,450.21 L213.00,450.40 L213.95,450.52 L214.80,450.57 L215.58,450.59 L216.30,450.57 L216.98,450.57 L217.65,450.59 L218.32,450.66 L219.00,450.80 L219.72,451.04 L220.48,451.36 L221.24,451.73 L221.97,452.12 L222.67,452.52 L223.28,452.88 L223.80,453.18 L224.20,453.40 L224.20,453.40 L223.80,453.62 L223.28,453.92 L222.67,454.28 L221.97,454.67 L221.24,455.07 L220.48,455.44 L219.72,455.76 L219.00,456.00 L218.32,456.14 L217.65,456.21 L216.98,456.23 L216.30,456.22 L215.58,456.21 L214.80,456.22 L213.95,456.28 L213.00,456.40 L211.94,456.59 L210.78,456.83 L209.54,457.10 L208.25,457.40 L206.93,457.71 L205.59,458.02 L204.28,458.32 L203.00,458.60 L201.75,458.87 L200.50,459.15 L199.25,459.44 L198.00,459.72 L196.75,459.98 L195.50,460.22 L194.25,460.43 L193.00,460.60 L191.76,460.73 L190.52,460.84 L189.29,460.92 L188.06,460.97 L186.82,460.99 L185.57,460.99 L184.30,460.96 L183.00,460.90 L181.67,460.80 L180.32,460.67 L178.95,460.50 L177.56,460.31 L176.17,460.10 L174.77,459.87 L173.38,459.64 L172.00,459.40 L170.62,459.14 L169.25,458.86 L167.88,458.55 L166.50,458.24 L165.12,457.92 L163.75,457.62 L162.38,457.35 L161.00,457.10 L159.63,456.89 L158.28,456.70 L156.94,456.52 L155.59,456.36 L154.23,456.21 L152.85,456.07 L151.44,455.94 L150.00,455.80 L148.43,455.66 L146.71,455.53 L144.91,455.39 L143.11,455.27 L141.40,455.15 L139.86,455.05 L138.57,454.97 L137.60,454.90 Z" fill="#ffda00" stroke="#8a6d00" stroke-width="0.5"/>
<line x1="137.60" y1="453.40" x2="223.70" y2="453.40" stroke="#3a3000" stroke-width="0.45"/>
<line x1="170.60" y1="453.40" x2="202.90" y2="453.40" stroke="#111" stroke-width="1.8"/>
<rect x="178.70" y="452.10" width="2.60" height="2.60" fill="#ffffff"/>
<path d="M137.60,470.90 L138.96,470.86 L140.78,470.82 L142.96,470.76 L145.36,470.70 L147.89,470.63 L150.41,470.56 L152.82,470.48 L155.00,470.40 L157.01,470.32 L158.99,470.25 L160.93,470.18 L162.84,470.11 L164.70,470.02 L166.52,469.91 L168.28,469.77 L170.00,469.60 L171.65,469.39 L173.23,469.15 L174.76,468.88 L176.25,468.59 L177.71,468.29 L179.14,467.98 L180.57,467.68 L182.00,467.40 L183.44,467.11 L184.89,466.81 L186.33,466.51 L187.75,466.21 L189.14,465.92 L190.48,465.64 L191.78,465.40 L193.00,465.20 L194.14,465.03 L195.19,464.89 L196.18,464.77 L197.12,464.67 L198.06,464.59 L199.00,464.54 L199.97,464.51 L201.00,464.50 L202.07,464.51 L203.16,464.53 L204.26,464.58 L205.38,464.64 L206.51,464.74 L207.66,464.86 L208.82,465.01 L210.00,465.20 L211.22,465.44 L212.48,465.73 L213.76,466.05 L215.06,466.41 L216.35,466.77 L217.62,467.13 L218.84,467.48 L220.00,467.80 L221.12,468.10 L222.23,468.38 L223.30,468.66 L224.35,468.94 L225.35,469.21 L226.30,469.47 L227.19,469.74 L228.00,470.00 L228.75,470.27 L229.46,470.56 L230.11,470.85 L230.70,471.14 L231.23,471.41 L231.69,471.65 L232.09,471.85 L232.40,472.00 L232.40,472.00 L232.09,472.15 L231.69,472.35 L231.23,472.59 L230.70,472.86 L230.11,473.15 L229.46,473.44 L228.75,473.73 L228.00,474.00 L227.19,474.26 L226.30,474.53 L225.35,474.79 L224.35,475.06 L223.30,475.34 L222.23,475.62 L221.12,475.90 L220.00,476.20 L218.84,476.52 L217.62,476.87 L216.35,477.23 L215.06,477.59 L213.76,477.95 L212.48,478.27 L211.22,478.56 L210.00,478.80 L208.82,478.99 L207.66,479.14 L206.51,479.26 L205.38,479.36 L204.26,479.42 L203.16,479.47 L202.07,479.49 L201.00,479.50 L199.97,479.49 L199.00,479.46 L198.06,479.41 L197.12,479.33 L196.18,479.23 L195.19,479.11 L194.14,478.97 L193.00,478.80 L191.78,478.60 L190.48,478.36 L189.14,478.08 L187.75,477.79 L186.33,477.49 L184.89,477.19 L183.44,476.89 L182.00,476.60 L180.57,476.32 L179.14,476.02 L177.71,475.71 L176.25,475.41 L174.76,475.12 L173.23,474.85 L171.65,474.61 L170.00,474.40 L168.28,474.23 L166.52,474.09 L164.70,473.98 L162.84,473.89 L160.93,473.82 L158.99,473.75 L157.01,473.68 L155.00,473.60 L152.82,473.52 L150.41,473.44 L147.89,473.37 L145.36,473.30 L142.96,473.24 L140.78,473.18 L138.96,473.14 L137.60,473.10 Z" fill="#ffda00" stroke="#8a6d00" stroke-width="0.5"/>
<line x1="137.60" y1="472.00" x2="231.90" y2="472.00" stroke="#3a3000" stroke-width="0.45"/>
<line x1="181.40" y1="472.00" x2="204.80" y2="472.00" stroke="#111" stroke-width="1.8"/>
<rect x="199.30" y="470.70" width="2.60" height="2.60" fill="#ffffff"/>
<line x1="178.90" y1="404.00" x2="178.90" y2="482.60" stroke="#3a3a3a" stroke-width="0.7" stroke-dasharray="2.2,1.5"/>
<line x1="188.70" y1="404.00" x2="188.70" y2="482.60" stroke="#3a3a3a" stroke-width="0.7" stroke-dasharray="2.2,1.5"/>
<line x1="200.80" y1="404.00" x2="200.80" y2="482.60" stroke="#3a3a3a" stroke-width="0.7" stroke-dasharray="2.2,1.5"/>
<rect x="137.20" y="404.00" width="97.20" height="78.60" fill="none" stroke="#3a3a3a" stroke-width="0.8"/>
<text x="179.30" y="492.60" font-size="7" text-anchor="middle">P0</text>
<text x="189.60" y="492.60" font-size="7" text-anchor="middle">P2</text>
<text x="201.00" y="492.60" font-size="7" text-anchor="middle">P7</text>
<path d="M237.5,416.4 L255.4,416.4 L255.4,471.5 L237.5,471.5" fill="none" stroke="#7a7a7a" stroke-width="0.8"/>
<path d="M237.5,433.9 L247.3,433.9 L247.3,469.3 L237.5,469.3" fill="none" stroke="#7a7a7a" stroke-width="0.8"/>
<path d="M237.5,435.4 L239.7,435.4 L239.7,450.5 L237.5,450.5" fill="none" stroke="#3a3a4a" stroke-width="0.7"/>
<path d="M237.5,453.1 L239.7,453.1 L239.7,468.5 L237.5,468.5" fill="none" stroke="#3a3a4a" stroke-width="0.7"/>
<text x="242.60" y="447.00" font-size="7.5" text-anchor="middle" font-weight="bold">*</text>
<text x="242.60" y="464.70" font-size="7.5" text-anchor="middle" font-weight="bold">*</text>
<text x="250.40" y="457.20" font-size="7.5" text-anchor="middle" font-weight="bold">**</text>
<text x="259.00" y="449.20" font-size="7.5" text-anchor="middle" font-weight="bold">**</text>
<text x="275.60" y="371.90" font-size="11.5" fill="#000" font-weight="bold">i</text>
<text x="303.79" y="418.60" font-size="5.85" transform="rotate(-90 303.79 418.60)">Ptbp repression</text>
<text x="317.38" y="418.60" font-size="5.85" transform="rotate(-90 317.38 418.60)">Nova activation</text>
<text x="330.97" y="418.60" font-size="5.85" transform="rotate(-90 330.97 418.60)">Rbfox activation</text>
<text x="344.56" y="418.60" font-size="5.85" transform="rotate(-90 344.56 418.60)">Mbnl activation</text>
<text x="358.14" y="418.60" font-size="5.85" transform="rotate(-90 358.14 418.60)">Ptbp activation</text>
<text x="371.73" y="418.60" font-size="5.85" transform="rotate(-90 371.73 418.60)">Nova repression</text>
<text x="385.32" y="418.60" font-size="5.85" transform="rotate(-90 385.32 418.60)">Rbfox repression</text>
<text x="398.91" y="418.60" font-size="5.85" transform="rotate(-90 398.91 418.60)">Mbnl repression</text>
<rect x="294.00" y="421.40" width="13.79" height="12.70" fill="#f2a868"/>
<rect x="307.59" y="421.40" width="13.79" height="12.70" fill="#f7c67c"/>
<rect x="321.18" y="421.40" width="13.79" height="12.70" fill="#e8894e"/>
<rect x="334.76" y="421.40" width="13.79" height="12.70" fill="#c80404"/>
<rect x="348.35" y="421.40" width="13.79" height="12.70" fill="#fde9a8"/>
<rect x="361.94" y="421.40" width="13.79" height="12.70" fill="#fde9a8"/>
<rect x="375.52" y="421.40" width="13.79" height="12.70" fill="#fce8b4"/>
<rect x="389.11" y="421.40" width="13.79" height="12.70" fill="#eeeef0"/>
<rect x="294.00" y="433.90" width="13.79" height="12.70" fill="#d9512e"/>
<rect x="307.59" y="433.90" width="13.79" height="12.70" fill="#eb8a52"/>
<rect x="321.18" y="433.90" width="13.79" height="12.70" fill="#ea7a48"/>
<rect x="334.76" y="433.90" width="13.79" height="12.70" fill="#f2a866"/>
<rect x="348.35" y="433.90" width="13.79" height="12.70" fill="#fcebb5"/>
<rect x="361.94" y="433.90" width="13.79" height="12.70" fill="#fcebb5"/>
<rect x="375.52" y="433.90" width="13.79" height="12.70" fill="#fde7a0"/>
<rect x="389.11" y="433.90" width="13.79" height="12.70" fill="#fde7a0"/>
<rect x="294.00" y="446.40" width="13.79" height="12.70" fill="#fdedb8"/>
<rect x="307.59" y="446.40" width="13.79" height="12.70" fill="#fde8a8"/>
<rect x="321.18" y="446.40" width="13.79" height="12.70" fill="#fdeeb8"/>
<rect x="334.76" y="446.40" width="13.79" height="12.70" fill="#f6efdc"/>
<rect x="348.35" y="446.40" width="13.79" height="12.70" fill="#f3b677"/>
<rect x="361.94" y="446.40" width="13.79" height="12.70" fill="#fde39b"/>
<rect x="375.52" y="446.40" width="13.79" height="12.70" fill="#fde39b"/>
<rect x="389.11" y="446.40" width="13.79" height="12.70" fill="#d8502c"/>
<rect x="294.00" y="458.90" width="13.79" height="12.70" fill="#fdebb8"/>
<rect x="307.59" y="458.90" width="13.79" height="12.70" fill="#f5efdc"/>
<rect x="321.18" y="458.90" width="13.79" height="12.70" fill="#fcebb8"/>
<rect x="334.76" y="458.90" width="13.79" height="12.70" fill="#f5efdc"/>
<rect x="348.35" y="458.90" width="13.79" height="12.70" fill="#f2aa6e"/>
<rect x="361.94" y="458.90" width="13.79" height="12.70" fill="#e0603a"/>
<rect x="375.52" y="458.90" width="13.79" height="12.70" fill="#f6b672"/>
<rect x="389.11" y="458.90" width="13.79" height="12.70" fill="#fde39b"/>
<rect x="294.00" y="421.40" width="108.70" height="50.00" fill="none" stroke="#1a1a1a" stroke-width="0.9"/>
<text x="290.40" y="430.15" font-size="7" text-anchor="end">M1+</text>
<text x="290.40" y="442.65" font-size="7" text-anchor="end">M2+</text>
<text x="290.40" y="455.15" font-size="7" text-anchor="end">M1–</text>
<text x="290.40" y="467.65" font-size="7" text-anchor="end">M2–</text>
<defs><linearGradient id="pauc" x1="0" y1="0" x2="1" y2="0"><stop offset="0" stop-color="#fffbe0"/><stop offset="0.3" stop-color="#fde7a0"/><stop offset="0.6" stop-color="#f2a040"/><stop offset="0.85" stop-color="#d25010"/><stop offset="1" stop-color="#a01800"/></linearGradient></defs>
<rect x="355.30" y="475.30" width="33.20" height="5.40" fill="url(#pauc)" stroke="#1a1a1a" stroke-width="0.7"/>
<text x="352.40" y="480.60" font-size="7" text-anchor="end">pAUC</text>
<text x="356.60" y="490.60" font-size="7" text-anchor="middle">0.05</text>
<text x="386.80" y="490.60" font-size="7" text-anchor="middle">0.5</text>
<text x="0.90" y="516.00" font-size="11.5" fill="#000" font-weight="bold">j</text>
<line x1="18.60" y1="674.20" x2="384.00" y2="674.20" stroke="#2a2a2a" stroke-width="1.0"/>
<path d="M387.40,674.20 L382.80,676.10 L382.80,672.30 Z" fill="#2a2a2a"/>
<line x1="18.60" y1="674.20" x2="18.60" y2="524.00" stroke="#2a2a2a" stroke-width="1.0"/>
<path d="M18.60,520.40 L20.50,525.00 L16.70,525.00 Z" fill="#2a2a2a"/>
<text x="11.00" y="536.00" font-size="6.6" text-anchor="middle" transform="rotate(-90 11.00 536.00)">PC2</text>
<text x="380.80" y="684.60" font-size="6.6" text-anchor="middle">PC1</text>
<path d="M22.50,537.00 L24.60,540.60 L20.40,540.60 Z" fill="none" stroke="#92b6d6" stroke-width="0.6"/>
<path d="M32.60,529.30 L34.70,532.90 L30.50,532.90 Z" fill="none" stroke="#92b6d6" stroke-width="0.6"/>
<circle cx="47.10" cy="535.60" r="1.70" fill="none" stroke="#92b6d6" stroke-width="0.6"/>
<rect x="43.35" y="539.15" width="3.30" height="3.30" fill="none" stroke="#92b6d6" stroke-width="0.6"/>
<circle cx="46.60" cy="541.90" r="1.70" fill="none" stroke="#92b6d6" stroke-width="0.6"/>
<circle cx="58.80" cy="538.90" r="1.70" fill="none" stroke="#92b6d6" stroke-width="0.6"/>
<circle cx="62.50" cy="536.10" r="1.70" fill="none" stroke="#92b6d6" stroke-width="0.6"/>
<circle cx="63.70" cy="533.70" r="1.70" fill="none" stroke="#92b6d6" stroke-width="0.6"/>
<path d="M62.50,544.00 L64.60,547.60 L60.40,547.60 Z" fill="none" stroke="#92b6d6" stroke-width="0.6"/>
<rect x="69.55" y="544.25" width="3.30" height="3.30" fill="none" stroke="#92b6d6" stroke-width="0.6"/>
<circle cx="78.70" cy="549.40" r="1.70" fill="none" stroke="#92b6d6" stroke-width="0.6"/>
<circle cx="93.90" cy="546.10" r="1.70" fill="none" stroke="#92b6d6" stroke-width="0.6"/>
<circle cx="102.80" cy="550.10" r="1.70" fill="none" stroke="#92b6d6" stroke-width="0.6"/>
<circle cx="102.10" cy="551.80" r="1.70" fill="none" stroke="#92b6d6" stroke-width="0.6"/>
<circle cx="112.90" cy="544.70" r="1.70" fill="none" stroke="#92b6d6" stroke-width="0.6"/>
<circle cx="93.90" cy="556.50" r="1.70" fill="none" stroke="#92b6d6" stroke-width="0.6"/>
<circle cx="109.80" cy="557.20" r="1.70" fill="none" stroke="#92b6d6" stroke-width="0.6"/>
<circle cx="106.30" cy="560.00" r="1.70" fill="none" stroke="#92b6d6" stroke-width="0.6"/>
<circle cx="105.20" cy="564.20" r="1.70" fill="none" stroke="#92b6d6" stroke-width="0.6"/>
<circle cx="107.50" cy="568.90" r="1.70" fill="none" stroke="#92b6d6" stroke-width="0.6"/>
<circle cx="111.70" cy="570.00" r="1.70" fill="none" stroke="#92b6d6" stroke-width="0.6"/>
<rect x="50.85" y="561.85" width="3.30" height="3.30" fill="none" stroke="#92b6d6" stroke-width="0.6"/>
<circle cx="63.00" cy="562.30" r="1.70" fill="none" stroke="#92b6d6" stroke-width="0.6"/>
<rect x="47.75" y="568.85" width="3.30" height="3.30" fill="none" stroke="#92b6d6" stroke-width="0.6"/>
<rect x="53.65" y="567.65" width="3.30" height="3.30" fill="none" stroke="#92b6d6" stroke-width="0.6"/>
<path d="M67.70,573.30 L69.80,576.90 L65.60,576.90 Z" fill="none" stroke="#92b6d6" stroke-width="0.6"/>
<rect x="87.15" y="578.95" width="3.30" height="3.30" fill="none" stroke="#92b6d6" stroke-width="0.6"/>
<path d="M90.00,583.20 L92.10,586.80 L87.90,586.80 Z" fill="none" stroke="#92b6d6" stroke-width="0.6"/>
<circle cx="123.40" cy="559.00" r="1.70" fill="none" stroke="#92b6d6" stroke-width="0.6"/>
<circle cx="120.40" cy="564.20" r="1.70" fill="none" stroke="#92b6d6" stroke-width="0.6"/>
<circle cx="128.60" cy="564.60" r="1.70" fill="none" stroke="#92b6d6" stroke-width="0.6"/>
<circle cx="134.00" cy="567.70" r="1.70" fill="none" stroke="#92b6d6" stroke-width="0.6"/>
<path d="M145.70,567.20 L147.80,570.80 L143.60,570.80 Z" fill="none" stroke="#92b6d6" stroke-width="0.6"/>
<path d="M156.90,568.40 L159.00,572.00 L154.80,572.00 Z" fill="none" stroke="#92b6d6" stroke-width="0.6"/>
<circle cx="150.40" cy="573.50" r="1.70" fill="none" stroke="#92b6d6" stroke-width="0.6"/>
<circle cx="136.30" cy="577.80" r="1.70" fill="none" stroke="#92b6d6" stroke-width="0.6"/>
<path d="M189.70,581.30 L191.80,584.90 L187.60,584.90 Z" fill="none" stroke="#92b6d6" stroke-width="0.6"/>
<circle cx="156.20" cy="590.40" r="1.70" fill="none" stroke="#92b6d6" stroke-width="0.6"/>
<path d="M124.60,591.40 L126.70,595.00 L122.50,595.00 Z" fill="none" stroke="#92b6d6" stroke-width="0.6"/>
<path d="M70.00,596.90 L72.10,600.50 L67.90,600.50 Z" fill="none" stroke="#92b6d6" stroke-width="0.6"/>
<path d="M101.70,593.40 L103.80,597.00 L99.60,597.00 Z" fill="none" stroke="#92b6d6" stroke-width="0.6"/>
<rect x="104.65" y="603.95" width="3.30" height="3.30" fill="none" stroke="#92b6d6" stroke-width="0.6"/>
<rect x="100.05" y="611.45" width="3.30" height="3.30" fill="none" stroke="#92b6d6" stroke-width="0.6"/>
<path d="M90.60,616.90 L92.70,620.50 L88.50,620.50 Z" fill="none" stroke="#92b6d6" stroke-width="0.6"/>
<path d="M112.20,630.90 L114.30,634.50 L110.10,634.50 Z" fill="none" stroke="#92b6d6" stroke-width="0.6"/>
<path d="M143.00,595.50 L145.10,599.10 L140.90,599.10 Z" fill="none" stroke="#92b6d6" stroke-width="0.6"/>
<rect x="158.75" y="595.15" width="3.30" height="3.30" fill="none" stroke="#92b6d6" stroke-width="0.6"/>
<path d="M159.30,669.70 L161.40,673.30 L157.20,673.30 Z" fill="none" stroke="#92b6d6" stroke-width="0.6"/>
<path d="M185.90,632.90 L188.00,636.50 L183.80,636.50 Z" fill="none" stroke="#92b6d6" stroke-width="0.6"/>
<rect x="167.85" y="626.35" width="3.30" height="3.30" fill="none" stroke="#bcdc98" stroke-width="0.6"/>
<circle cx="161.70" cy="621.70" r="1.70" fill="none" stroke="#bcdc98" stroke-width="0.6"/>
<path d="M139.50,643.50 L141.60,647.10 L137.40,647.10 Z" fill="none" stroke="#bcdc98" stroke-width="0.6"/>
<rect x="180.75" y="648.65" width="3.30" height="3.30" fill="none" stroke="#bcdc98" stroke-width="0.6"/>
<rect x="183.55" y="628.15" width="3.30" height="3.30" fill="none" stroke="#bcdc98" stroke-width="0.6"/>
<rect x="191.25" y="598.25" width="3.30" height="3.30" fill="none" stroke="#f7c4a6" stroke-width="0.6"/>
<rect x="191.75" y="611.15" width="3.30" height="3.30" fill="none" stroke="#f7c4a6" stroke-width="0.6"/>
<rect x="191.95" y="614.05" width="3.30" height="3.30" fill="none" stroke="#f7c4a6" stroke-width="0.6"/>
<rect x="206.95" y="614.55" width="3.30" height="3.30" fill="none" stroke="#f7c4a6" stroke-width="0.6"/>
<rect x="227.55" y="607.55" width="3.30" height="3.30" fill="none" stroke="#f7c4a6" stroke-width="0.6"/>
<rect x="224.75" y="619.75" width="3.30" height="3.30" fill="none" stroke="#f7c4a6" stroke-width="0.6"/>
<rect x="190.55" y="625.75" width="3.30" height="3.30" fill="none" stroke="#f7c4a6" stroke-width="0.6"/>
<rect x="191.95" y="635.65" width="3.30" height="3.30" fill="none" stroke="#f7c4a6" stroke-width="0.6"/>
<rect x="213.45" y="636.35" width="3.30" height="3.30" fill="none" stroke="#f7c4a6" stroke-width="0.6"/>
<rect x="220.55" y="630.95" width="3.30" height="3.30" fill="none" stroke="#f7c4a6" stroke-width="0.6"/>
<rect x="226.35" y="632.15" width="3.30" height="3.30" fill="none" stroke="#f7c4a6" stroke-width="0.6"/>
<rect x="241.15" y="623.45" width="3.30" height="3.30" fill="none" stroke="#f7c4a6" stroke-width="0.6"/>
<rect x="257.95" y="615.75" width="3.30" height="3.30" fill="none" stroke="#f7c4a6" stroke-width="0.6"/>
<path d="M222.90,627.00 L225.00,630.60 L220.80,630.60 Z" fill="none" stroke="#f7c4a6" stroke-width="0.6"/>
<path d="M206.20,571.90 L208.30,575.50 L204.10,575.50 Z" fill="none" stroke="#eaaab3" stroke-width="0.6"/>
<rect x="254.45" y="578.25" width="3.30" height="3.30" fill="none" stroke="#eaaab3" stroke-width="0.6"/>
<rect x="254.45" y="581.75" width="3.30" height="3.30" fill="none" stroke="#eaaab3" stroke-width="0.6"/>
<rect x="253.35" y="586.95" width="3.30" height="3.30" fill="none" stroke="#eaaab3" stroke-width="0.6"/>
<rect x="270.85" y="585.35" width="3.30" height="3.30" fill="none" stroke="#eaaab3" stroke-width="0.6"/>
<rect x="273.15" y="588.35" width="3.30" height="3.30" fill="none" stroke="#eaaab3" stroke-width="0.6"/>
<rect x="272.75" y="594.65" width="3.30" height="3.30" fill="none" stroke="#eaaab3" stroke-width="0.6"/>
<rect x="263.85" y="599.35" width="3.30" height="3.30" fill="none" stroke="#eaaab3" stroke-width="0.6"/>
<rect x="247.45" y="598.15" width="3.30" height="3.30" fill="none" stroke="#eaaab3" stroke-width="0.6"/>
<rect x="302.75" y="584.05" width="3.30" height="3.30" fill="none" stroke="#eaaab3" stroke-width="0.6"/>
<rect x="298.55" y="594.15" width="3.30" height="3.30" fill="none" stroke="#eaaab3" stroke-width="0.6"/>
<rect x="327.25" y="597.55" width="3.30" height="3.30" fill="none" stroke="#eaaab3" stroke-width="0.6"/>
<rect x="309.55" y="594.75" width="3.30" height="3.30" fill="none" stroke="#eaaab3" stroke-width="0.6"/>
<rect x="347.75" y="599.75" width="3.30" height="3.30" fill="none" stroke="#eaaab3" stroke-width="0.6"/>
<rect x="351.95" y="601.75" width="3.30" height="3.30" fill="none" stroke="#eaaab3" stroke-width="0.6"/>
<rect x="344.95" y="602.35" width="3.30" height="3.30" fill="none" stroke="#eaaab3" stroke-width="0.6"/>
<rect x="346.05" y="607.95" width="3.30" height="3.30" fill="none" stroke="#eaaab3" stroke-width="0.6"/>
<rect x="302.75" y="624.25" width="3.30" height="3.30" fill="none" stroke="#eaaab3" stroke-width="0.6"/>
<path d="M280.20,602.70 L282.30,606.30 L278.10,606.30 Z" fill="none" stroke="#eaaab3" stroke-width="0.6"/>
<path d="M300.20,607.80 L302.30,611.40 L298.10,611.40 Z" fill="none" stroke="#eaaab3" stroke-width="0.6"/>
<path d="M297.90,614.50 L300.00,618.10 L295.80,618.10 Z" fill="none" stroke="#eaaab3" stroke-width="0.6"/>
<line x1="127.60" y1="624.80" x2="113.01" y2="601.71" stroke="#231f20" stroke-width="0.85"/>
<path d="M111.30,599.00 L114.79,601.53 L112.08,603.24 Z" fill="#231f20"/>
<line x1="139.40" y1="622.90" x2="146.23" y2="623.79" stroke="#231f20" stroke-width="0.95" stroke-dasharray="2,1.1"/>
<path d="M149.40,624.20 L145.21,625.37 L145.65,622.00 Z" fill="#231f20"/>
<line x1="125.60" y1="635.80" x2="141.04" y2="638.12" stroke="#231f20" stroke-width="0.95" stroke-dasharray="2,1.1"/>
<path d="M144.20,638.60 L139.99,639.69 L140.50,636.32 Z" fill="#231f20"/>
<line x1="317.60" y1="597.80" x2="249.91" y2="614.05" stroke="#231f20" stroke-width="0.95" stroke-dasharray="2,1.1"/>
<path d="M246.80,614.80 L250.29,612.21 L251.09,615.52 Z" fill="#231f20"/>
<circle cx="43.10" cy="563.00" r="1.50" fill="#1f5a86"/>
<circle cx="90.40" cy="605.60" r="1.40" fill="#48a0d0"/>
<circle cx="109.20" cy="594.40" r="4.40" fill="#48a0d0"/>
<circle cx="129.70" cy="628.00" r="4.40" fill="#48a0d0"/>
<circle cx="134.80" cy="622.90" r="4.40" fill="#a2d05a"/>
<circle cx="120.80" cy="635.50" r="4.40" fill="#2e9b74"/>
<circle cx="153.50" cy="625.00" r="4.40" fill="#a2d05a"/>
<circle cx="148.40" cy="640.40" r="4.40" fill="#a2d05a"/>
<circle cx="133.60" cy="651.40" r="1.40" fill="#2e9b74"/>
<circle cx="175.80" cy="640.90" r="1.40" fill="#a2d05a"/>
<circle cx="242.10" cy="616.90" r="4.60" fill="#f2915a"/>
<circle cx="246.30" cy="637.30" r="1.50" fill="#f2915a"/>
<circle cx="322.40" cy="596.40" r="4.60" fill="#d43d51"/>
<circle cx="312.80" cy="604.00" r="1.60" fill="#d43d51"/>
<circle cx="337.30" cy="597.20" r="1.60" fill="#d43d51"/>
<circle cx="342.10" cy="599.20" r="1.80" fill="#d43d51"/>
<circle cx="343.50" cy="598.30" r="1.60" fill="#d43d51"/>
<text x="23.90" y="569.40" font-size="7" fill="#8c8c8c">E14.5</text>
<text x="70.70" y="612.70" font-size="7" fill="#8c8c8c">E16.5</text>
<text x="97.80" y="587.20" font-size="7">Nova2 KO</text>
<text x="134.80" y="616.50" font-size="7" text-anchor="middle">P0</text>
<text x="106.20" y="628.20" font-size="7">E18.5</text>
<text x="113.20" y="642.90" font-size="7" text-anchor="middle">P1</text>
<text x="147.60" y="610.00" font-size="6.6">Ptbp2 KO</text>
<text x="161.70" y="618.80" font-size="6.6" text-anchor="middle">(Nes)</text>
<text x="147.60" y="650.90" font-size="6.6">Ptbp2 KO</text>
<text x="162.40" y="658.60" font-size="6.6" text-anchor="middle">(Emx)</text>
<text x="123.10" y="657.00" font-size="7" fill="#8c8c8c">P0</text>
<text x="179.30" y="644.50" font-size="7" fill="#8c8c8c">P4</text>
<text x="228.70" y="608.20" font-size="6.9">Mbnl dKO</text>
<text x="247.60" y="645.00" font-size="7" fill="#8c8c8c">P7</text>
<text x="315.60" y="589.00" font-size="7">Adult</text>
<text x="310.00" y="612.90" font-size="7" fill="#8c8c8c">P15</text>
<text x="345.70" y="596.10" font-size="7" fill="#8c8c8c">P30+</text>
<rect x="217.60" y="523.40" width="161.90" height="25.30" fill="#ffffff" stroke="#a8a8a8" stroke-width="0.8"/>
<text x="222.60" y="544.00" font-size="7.1">Maturation stage:</text>
<text x="282.50" y="534.40" font-size="7" text-anchor="middle">1</text>
<circle cx="282.50" cy="541.60" r="2.00" fill="#1f5a86"/>
<text x="299.00" y="534.40" font-size="7" text-anchor="middle">2</text>
<circle cx="299.00" cy="541.60" r="2.00" fill="#48a0d0"/>
<text x="315.40" y="534.40" font-size="7" text-anchor="middle">3</text>
<circle cx="315.40" cy="541.60" r="2.00" fill="#2e9b74"/>
<text x="332.30" y="534.40" font-size="7" text-anchor="middle">4</text>
<circle cx="332.30" cy="541.60" r="2.00" fill="#a2d05a"/>
<text x="348.30" y="534.40" font-size="7" text-anchor="middle">5</text>
<circle cx="348.30" cy="541.60" r="2.00" fill="#f2915a"/>
<text x="365.10" y="534.40" font-size="7" text-anchor="middle">6</text>
<circle cx="365.10" cy="541.60" r="2.00" fill="#d43d51"/>
</svg>
</body></html>
